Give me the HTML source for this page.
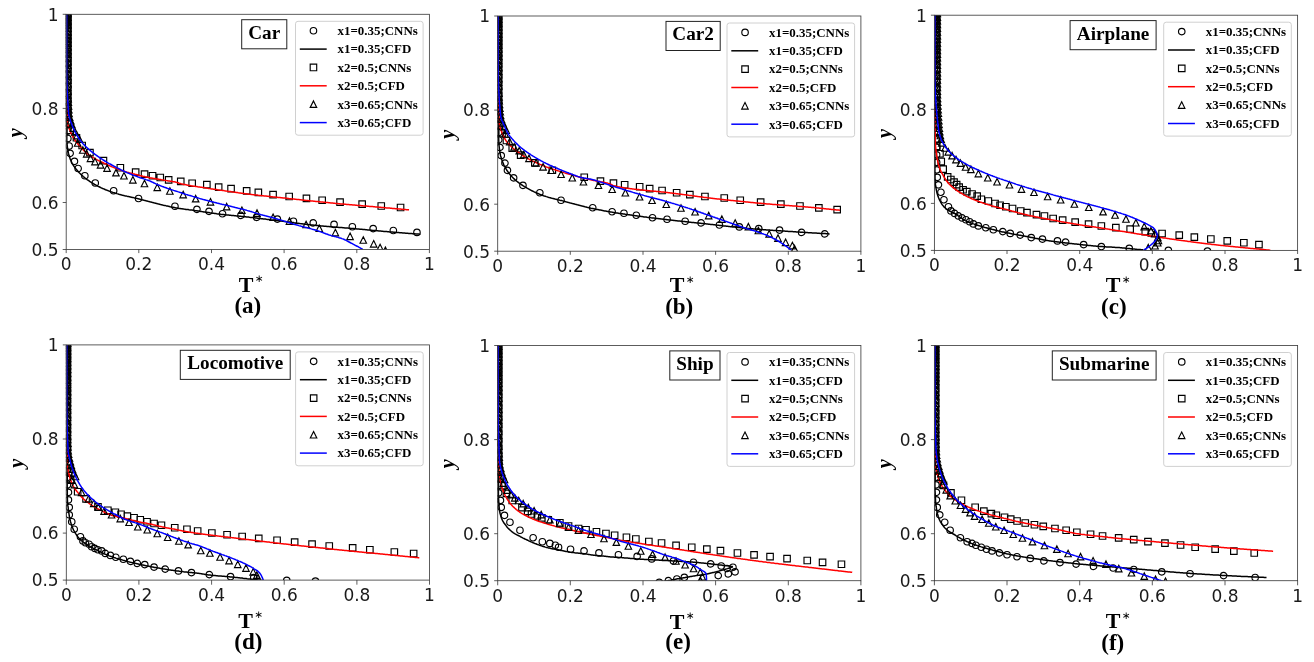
<!DOCTYPE html>
<html><head><meta charset="utf-8"><title>Temperature profiles</title>
<style>
html,body{margin:0;padding:0;background:#fff}
svg{display:block}
text{fill:#000}
.tk text{font-family:"DejaVu Sans","Liberation Sans",sans-serif;font-size:17px;fill:#1a1a1a}
.lg text{font-family:"Liberation Serif","Times New Roman",serif;font-weight:bold;font-size:12.95px}
.ttl{font-family:"Liberation Serif","Times New Roman",serif;font-weight:bold;font-size:19.2px}
.lab{font-family:"Liberation Serif","Times New Roman",serif;font-weight:bold;font-size:22px}
.yl{font-style:italic;font-size:20.4px}
.sub{font-size:23px}
.ast{font-family:"DejaVu Sans",sans-serif;font-weight:normal;font-size:10.5px}
</style></head><body>
<svg width="1314" height="662" viewBox="0 0 1314 662">
<rect width="1314" height="662" fill="#fff"/>
<clipPath id="cla"><rect x="65.8" y="14.3" width="363.6" height="235.2"/></clipPath>
<g clip-path="url(#cla)" fill="none">
<path d="M64.6 13.7a3.2 3.2 0 1 0 6.5 0a3.2 3.2 0 1 0 -6.5 0M64.6 15.8a3.2 3.2 0 1 0 6.5 0a3.2 3.2 0 1 0 -6.5 0M64.6 18a3.2 3.2 0 1 0 6.5 0a3.2 3.2 0 1 0 -6.5 0M64.6 20.4a3.2 3.2 0 1 0 6.5 0a3.2 3.2 0 1 0 -6.5 0M64.6 22.9a3.2 3.2 0 1 0 6.5 0a3.2 3.2 0 1 0 -6.5 0M64.6 25.6a3.2 3.2 0 1 0 6.5 0a3.2 3.2 0 1 0 -6.5 0M64.6 28.4a3.2 3.2 0 1 0 6.5 0a3.2 3.2 0 1 0 -6.5 0M64.6 31.5a3.2 3.2 0 1 0 6.5 0a3.2 3.2 0 1 0 -6.5 0M64.6 34.7a3.2 3.2 0 1 0 6.5 0a3.2 3.2 0 1 0 -6.5 0M64.6 38.1a3.2 3.2 0 1 0 6.5 0a3.2 3.2 0 1 0 -6.5 0M64.6 41.8a3.2 3.2 0 1 0 6.5 0a3.2 3.2 0 1 0 -6.5 0M64.6 45.6a3.2 3.2 0 1 0 6.5 0a3.2 3.2 0 1 0 -6.5 0M64.6 49.8a3.2 3.2 0 1 0 6.5 0a3.2 3.2 0 1 0 -6.5 0M64.6 54.2a3.2 3.2 0 1 0 6.5 0a3.2 3.2 0 1 0 -6.5 0M64.6 58.8a3.2 3.2 0 1 0 6.5 0a3.2 3.2 0 1 0 -6.5 0M64.6 63.8a3.2 3.2 0 1 0 6.5 0a3.2 3.2 0 1 0 -6.5 0M64.6 69.1a3.2 3.2 0 1 0 6.5 0a3.2 3.2 0 1 0 -6.5 0M64.6 74.7a3.2 3.2 0 1 0 6.5 0a3.2 3.2 0 1 0 -6.5 0M64.6 80.7a3.2 3.2 0 1 0 6.5 0a3.2 3.2 0 1 0 -6.5 0M64.6 87.1a3.2 3.2 0 1 0 6.5 0a3.2 3.2 0 1 0 -6.5 0M64.6 93.8a3.2 3.2 0 1 0 6.5 0a3.2 3.2 0 1 0 -6.5 0M64.6 101a3.2 3.2 0 1 0 6.5 0a3.2 3.2 0 1 0 -6.5 0M64.6 108.5a3.2 3.2 0 1 0 6.5 0a3.2 3.2 0 1 0 -6.5 0M64.6 116a3.2 3.2 0 1 0 6.5 0a3.2 3.2 0 1 0 -6.5 0M64.6 123.5a3.2 3.2 0 1 0 6.5 0a3.2 3.2 0 1 0 -6.5 0M64.6 131a3.2 3.2 0 1 0 6.5 0a3.2 3.2 0 1 0 -6.5 0M64.6 138.5a3.2 3.2 0 1 0 6.5 0a3.2 3.2 0 1 0 -6.5 0M65.9 146a3.2 3.2 0 1 0 6.5 0a3.2 3.2 0 1 0 -6.5 0M66.9 153.3a3.2 3.2 0 1 0 6.5 0a3.2 3.2 0 1 0 -6.5 0M71.2 161.3a3.2 3.2 0 1 0 6.5 0a3.2 3.2 0 1 0 -6.5 0M74.9 168.5a3.2 3.2 0 1 0 6.5 0a3.2 3.2 0 1 0 -6.5 0M81.6 175.7a3.2 3.2 0 1 0 6.5 0a3.2 3.2 0 1 0 -6.5 0M92 183a3.2 3.2 0 1 0 6.5 0a3.2 3.2 0 1 0 -6.5 0M110.4 190.7a3.2 3.2 0 1 0 6.5 0a3.2 3.2 0 1 0 -6.5 0M135.3 198.5a3.2 3.2 0 1 0 6.5 0a3.2 3.2 0 1 0 -6.5 0M171.7 206.2a3.2 3.2 0 1 0 6.5 0a3.2 3.2 0 1 0 -6.5 0M193.7 209.3a3.2 3.2 0 1 0 6.5 0a3.2 3.2 0 1 0 -6.5 0M205.8 211.3a3.2 3.2 0 1 0 6.5 0a3.2 3.2 0 1 0 -6.5 0M219.3 213.7a3.2 3.2 0 1 0 6.5 0a3.2 3.2 0 1 0 -6.5 0M237.7 215.4a3.2 3.2 0 1 0 6.5 0a3.2 3.2 0 1 0 -6.5 0M253.4 217.3a3.2 3.2 0 1 0 6.5 0a3.2 3.2 0 1 0 -6.5 0M274.1 219.1a3.2 3.2 0 1 0 6.5 0a3.2 3.2 0 1 0 -6.5 0M290.2 221.2a3.2 3.2 0 1 0 6.5 0a3.2 3.2 0 1 0 -6.5 0M310 222.9a3.2 3.2 0 1 0 6.5 0a3.2 3.2 0 1 0 -6.5 0M330.8 224.4a3.2 3.2 0 1 0 6.5 0a3.2 3.2 0 1 0 -6.5 0M349.1 226.7a3.2 3.2 0 1 0 6.5 0a3.2 3.2 0 1 0 -6.5 0M369.9 228.6a3.2 3.2 0 1 0 6.5 0a3.2 3.2 0 1 0 -6.5 0M390.1 230.5a3.2 3.2 0 1 0 6.5 0a3.2 3.2 0 1 0 -6.5 0M413.7 232.4a3.2 3.2 0 1 0 6.5 0a3.2 3.2 0 1 0 -6.5 0" stroke="#000" stroke-width="1.15" stroke-linejoin="miter"/>
<path d="M66.7 13.3L66.7 14.3L66.7 15.3L66.7 16.3L66.7 17.3L66.7 18.3L66.7 19.3L66.7 20.3L66.7 21.3L66.7 22.3L66.7 23.3L66.7 24.3L66.7 25.3L66.7 26.3L66.7 27.3L66.7 28.3L66.7 29.3L66.7 30.3L66.7 31.3L66.7 32.3L66.7 33.3L66.7 34.3L66.7 35.3L66.7 36.3L66.7 37.3L66.7 38.3L66.7 39.3L66.7 40.3L66.7 41.3L66.7 42.3L66.7 43.3L66.7 44.3L66.7 45.3L66.7 46.3L66.7 47.3L66.7 48.3L66.7 49.3L66.7 50.3L66.7 51.3L66.7 52.3L66.7 53.3L66.7 54.3L66.7 55.3L66.7 56.3L66.7 57.3L66.7 58.3L66.7 59.3L66.7 60.3L66.7 61.3L66.7 62.3L66.7 63.3L66.7 64.3L66.7 65.3L66.7 66.3L66.7 67.3L66.7 68.3L66.7 69.3L66.7 70.3L66.7 71.3L66.7 72.3L66.7 73.3L66.7 74.3L66.7 75.3L66.7 76.3L66.7 77.3L66.7 78.3L66.7 79.3L66.7 80.3L66.7 81.3L66.7 82.3L66.7 83.3L66.7 84.3L66.7 85.3L66.7 86.3L66.7 87.3L66.7 88.3L66.7 89.3L66.7 90.3L66.7 91.3L66.7 92.3L66.7 93.3L66.7 94.3L66.7 95.3L66.7 96.3L66.7 97.3L66.7 98.3L66.7 99.3L66.7 100.3L66.7 101.3L66.7 102.3L66.7 103.3L66.7 104.3L66.7 105.3L66.7 106.3L66.7 107.3L66.7 108.3L66.7 109.3L66.7 110.3L66.7 111.3L66.7 112.3L66.7 113.3L66.7 114.3L66.7 115.3L66.7 116.3L66.7 117.3L66.7 118.3L66.7 119.3L66.7 120.3L66.7 121.3L66.7 122.3L66.7 123.3L66.7 124.3L66.7 125.3L66.7 126.3L66.7 127.3L66.7 128.3L66.7 129.3L66.7 130.3L66.7 131.3L66.7 132.3L66.7 133.3L66.8 134.3L66.8 135.3L66.8 136.3L66.8 137.3L66.8 138.3L66.8 139.3L66.8 140.3L66.8 141.3L66.9 142.3L67 143.3L67.1 144.3L67.2 145.3L67.3 146.3L67.4 147.3L67.6 148.3L67.7 149.3L67.9 150.3L68.1 151.2L68.2 152.2L68.4 153.2L68.7 154.2L69 155.1L69.2 156.1L69.6 157.1L69.9 158L70.2 159L70.6 159.9L71 160.8L71.4 161.7L71.8 162.6L72.2 163.5L72.7 164.4L73.3 165.2L73.8 166.1L74.4 166.9L75 167.7L75.6 168.5L76.2 169.3L76.9 170.1L77.5 170.8L78.2 171.6L78.8 172.3L79.5 173L80.3 173.7L81 174.4L81.7 175.1L82.5 175.8L83.2 176.5L84 177.1L84.7 177.7L85.5 178.4L86.3 179L87.1 179.6L87.9 180.1L88.8 180.7L89.6 181.3L90.4 181.8L91.3 182.4L92.1 182.9L93 183.4L93.8 184L94.7 184.5L95.6 184.9L96.4 185.4L97.3 185.9L98.2 186.4L99.1 186.8L100 187.2L100.9 187.7L101.8 188.1L102.7 188.5L103.7 188.9L104.6 189.3L105.5 189.7L106.4 190L107.4 190.4L108.3 190.8L109.2 191.1L110.2 191.5L111.1 191.8L112.1 192.1L113 192.4L114 192.7L114.9 193L115.9 193.3L116.8 193.6L117.8 193.9L118.8 194.2L119.7 194.4L120.7 194.7L121.7 195L122.6 195.2L123.6 195.4L124.6 195.7L125.5 195.9L126.5 196.1L127.5 196.4L128.5 196.6L129.4 196.8L130.4 197L131.4 197.2L132.4 197.4L133.3 197.6L134.3 197.9L135.3 198.1L136.3 198.3L137.2 198.6L138.2 198.8L139.2 199.1L140.1 199.3L141.1 199.6L142.1 199.8L143 200.1L144 200.3L145 200.6L146 200.8L146.9 201.1L147.9 201.3L148.9 201.6L149.8 201.8L150.8 202.1L151.8 202.3L152.7 202.6L153.7 202.8L154.7 203.1L155.6 203.3L156.6 203.5L157.6 203.8L158.6 204L159.5 204.2L160.5 204.5L161.5 204.7L162.4 204.9L163.4 205.2L164.4 205.4L165.4 205.6L166.3 205.9L167.3 206.1L168.3 206.3L169.3 206.5L170.2 206.8L171.2 207L172.2 207.2L173.2 207.3L174.2 207.5L175.1 207.7L176.1 207.9L177.1 208L178.1 208.2L179.1 208.4L180.1 208.5L181.1 208.7L182.1 208.8L183 208.9L184 209.1L185 209.2L186 209.4L187 209.5L188 209.6L189 209.8L190 209.9L191 210L192 210.1L193 210.3L194 210.4L194.9 210.6L195.9 210.7L196.9 210.8L197.9 211L198.9 211.1L199.9 211.3L200.9 211.4L201.9 211.6L202.9 211.7L203.8 211.9L204.8 212L205.8 212.2L206.8 212.3L207.8 212.5L208.8 212.6L209.8 212.8L210.8 212.9L211.8 213.1L212.8 213.2L213.7 213.3L214.7 213.5L215.7 213.6L216.7 213.8L217.7 213.9L218.7 214L219.7 214.1L220.7 214.3L221.7 214.4L222.7 214.5L223.7 214.6L224.7 214.7L225.6 214.8L226.6 214.9L227.6 215L228.6 215.1L229.6 215.2L230.6 215.3L231.6 215.4L232.6 215.5L233.6 215.6L234.6 215.7L235.6 215.8L236.6 215.9L237.6 216L238.6 216.1L239.6 216.2L240.6 216.3L241.6 216.4L242.6 216.5L243.6 216.6L244.6 216.7L245.5 216.8L246.5 216.9L247.5 217L248.5 217.1L249.5 217.3L250.5 217.4L251.5 217.5L252.5 217.6L253.5 217.7L254.5 217.8L255.5 218L256.5 218.1L257.5 218.2L258.5 218.3L259.5 218.4L260.4 218.5L261.4 218.7L262.4 218.8L263.4 218.9L264.4 219L265.4 219.1L266.4 219.3L267.4 219.4L268.4 219.5L269.4 219.6L270.4 219.7L271.4 219.9L272.4 220L273.4 220.1L274.3 220.2L275.3 220.4L276.3 220.5L277.3 220.6L278.3 220.7L279.3 220.8L280.3 221L281.3 221.1L282.3 221.2L283.3 221.3L284.3 221.5L285.3 221.6L286.3 221.7L287.2 221.9L288.2 222L289.2 222.1L290.2 222.3L291.2 222.4L292.2 222.5L293.2 222.6L294.2 222.8L295.2 222.9L296.2 223L297.2 223.2L298.2 223.3L299.1 223.4L300.1 223.6L301.1 223.7L302.1 223.8L303.1 223.9L304.1 224.1L305.1 224.2L306.1 224.3L307.1 224.4L308.1 224.5L309.1 224.7L310.1 224.8L311.1 224.9L312 225L313 225.1L314 225.2L315 225.3L316 225.4L317 225.5L318 225.6L319 225.7L320 225.8L321 225.9L322 226L323 226.1L324 226.2L325 226.3L326 226.3L327 226.4L328 226.5L329 226.6L330 226.7L331 226.8L332 226.8L333 226.9L333.9 227L334.9 227.1L335.9 227.2L336.9 227.2L337.9 227.3L338.9 227.4L339.9 227.5L340.9 227.6L341.9 227.6L342.9 227.7L343.9 227.8L344.9 227.9L345.9 228L346.9 228L347.9 228.1L348.9 228.2L349.9 228.3L350.9 228.4L351.9 228.5L352.9 228.5L353.9 228.6L354.9 228.7L355.9 228.8L356.9 228.9L357.9 229L358.9 229.1L359.9 229.2L360.9 229.3L361.9 229.3L362.9 229.4L363.8 229.5L364.8 229.6L365.8 229.7L366.8 229.8L367.8 229.9L368.8 230L369.8 230.1L370.8 230.2L371.8 230.3L372.8 230.4L373.8 230.5L374.8 230.5L375.8 230.6L376.8 230.7L377.8 230.8L378.8 230.9L379.8 231L380.8 231.1L381.8 231.2L382.8 231.3L383.8 231.4L384.8 231.4L385.8 231.5L386.8 231.6L387.7 231.7L388.7 231.8L389.7 231.9L390.7 232L391.7 232L392.7 232.1L393.7 232.2L394.7 232.3L395.7 232.4L396.7 232.4L397.7 232.5L398.7 232.6L399.7 232.7L400.7 232.8L401.7 232.8L402.7 232.9L403.7 233L404.7 233.1L405.7 233.2L406.7 233.2L407.7 233.3L408.7 233.4L409.7 233.5L410.7 233.5L411.7 233.6L412.7 233.7L413.7 233.8L414.7 233.8L415.7 233.9L416.7 234L417.7 234.1L418.7 234.1L419.6 234.2L420.4 234.2" stroke="#000" stroke-width="1.5" stroke-linejoin="round"/>
<path d="M64.6 10.2h6.5v6.5h-6.5zM64.6 12.3h6.5v6.5h-6.5zM64.6 14.5h6.5v6.5h-6.5zM64.6 16.9h6.5v6.5h-6.5zM64.6 19.4h6.5v6.5h-6.5zM64.6 22h6.5v6.5h-6.5zM64.6 24.9h6.5v6.5h-6.5zM64.6 27.9h6.5v6.5h-6.5zM64.6 31.1h6.5v6.5h-6.5zM64.6 34.5h6.5v6.5h-6.5zM64.6 38.1h6.5v6.5h-6.5zM64.6 42h6.5v6.5h-6.5zM64.6 46.1h6.5v6.5h-6.5zM64.6 50.4h6.5v6.5h-6.5zM64.6 55.1h6.5v6.5h-6.5zM64.6 60h6.5v6.5h-6.5zM64.6 65.3h6.5v6.5h-6.5zM64.6 70.9h6.5v6.5h-6.5zM64.6 76.8h6.5v6.5h-6.5zM64.6 83.1h6.5v6.5h-6.5zM64.6 89.9h6.5v6.5h-6.5zM64.6 97h6.5v6.5h-6.5zM64.6 104.5h6.5v6.5h-6.5zM64.6 112h6.5v6.5h-6.5zM65 119.5h6.5v6.5h-6.5zM67 127h6.5v6.5h-6.5zM73.2 134.5h6.5v6.5h-6.5zM78.9 142.2h6.5v6.5h-6.5zM86.7 149.3h6.5v6.5h-6.5zM100.2 157.3h6.5v6.5h-6.5zM117.1 164.5h6.5v6.5h-6.5zM132.4 168.9h6.5v6.5h-6.5zM141.3 170.8h6.5v6.5h-6.5zM149.3 172.5h6.5v6.5h-6.5zM157 174.2h6.5v6.5h-6.5zM165.4 176.6h6.5v6.5h-6.5zM177.5 178.1h6.5v6.5h-6.5zM188.9 180h6.5v6.5h-6.5zM203.6 181.4h6.5v6.5h-6.5zM215.4 183.9h6.5v6.5h-6.5zM227.8 185.3h6.5v6.5h-6.5zM243.4 187.6h6.5v6.5h-6.5zM255.1 189.1h6.5v6.5h-6.5zM269.8 191.3h6.5v6.5h-6.5zM285.9 193.2h6.5v6.5h-6.5zM303.2 195.1h6.5v6.5h-6.5zM318.9 197h6.5v6.5h-6.5zM336.8 198.9h6.5v6.5h-6.5zM358.9 200.8h6.5v6.5h-6.5zM378 202.7h6.5v6.5h-6.5zM397.3 204.2h6.5v6.5h-6.5z" stroke="#000" stroke-width="1.15" stroke-linejoin="miter"/>
<path d="M66.7 13.3L66.7 14.3L66.7 15.3L66.7 16.3L66.7 17.3L66.7 18.3L66.7 19.3L66.7 20.3L66.7 21.3L66.7 22.3L66.7 23.3L66.7 24.3L66.7 25.3L66.7 26.3L66.7 27.3L66.7 28.3L66.7 29.3L66.7 30.3L66.7 31.3L66.7 32.3L66.7 33.3L66.7 34.3L66.7 35.3L66.7 36.3L66.7 37.3L66.7 38.3L66.7 39.3L66.7 40.3L66.7 41.3L66.7 42.3L66.7 43.3L66.7 44.3L66.7 45.3L66.7 46.3L66.7 47.3L66.7 48.3L66.7 49.3L66.7 50.3L66.7 51.3L66.7 52.3L66.7 53.3L66.7 54.3L66.7 55.3L66.7 56.3L66.7 57.3L66.7 58.3L66.7 59.3L66.7 60.3L66.7 61.3L66.7 62.3L66.7 63.3L66.7 64.3L66.7 65.3L66.7 66.3L66.7 67.3L66.7 68.3L66.7 69.3L66.7 70.3L66.7 71.3L66.7 72.3L66.7 73.3L66.7 74.3L66.7 75.3L66.7 76.3L66.7 77.3L66.7 78.3L66.7 79.3L66.7 80.3L66.7 81.3L66.7 82.4L66.7 83.4L66.7 84.4L66.7 85.4L66.7 86.4L66.7 87.4L66.7 88.4L66.8 89.4L66.8 90.4L66.8 91.4L66.8 92.4L66.8 93.4L66.8 94.4L66.8 95.4L66.8 96.4L66.9 97.4L66.9 98.4L66.9 99.4L66.9 100.4L66.9 101.4L66.9 102.4L67 103.4L67 104.4L67 105.4L67 106.4L67 107.4L67.1 108.4L67.1 109.4L67.1 110.4L67.1 111.4L67.2 112.4L67.2 113.4L67.2 114.4L67.3 115.4L67.3 116.4L67.3 117.3L67.4 118.3L67.4 119.3L67.4 120.3L67.5 121.3L67.6 122.3L67.8 123.2L68 124.2L68.2 125.2L68.5 126.2L68.8 127.2L69.1 128.1L69.4 129.1L69.8 130L70.1 131L70.4 131.9L70.8 132.8L71.2 133.7L71.7 134.6L72.2 135.5L72.7 136.4L73.2 137.3L73.7 138.1L74.2 139L74.7 139.8L75.3 140.6L75.9 141.4L76.5 142.2L77.1 143L77.7 143.8L78.4 144.6L79 145.3L79.7 146.1L80.4 146.9L81 147.6L81.7 148.3L82.4 149.1L83.1 149.8L83.8 150.5L84.5 151.2L85.2 151.9L86 152.6L86.7 153.2L87.5 153.8L88.3 154.4L89.1 155L89.9 155.6L90.8 156.1L91.6 156.7L92.5 157.2L93.3 157.7L94.2 158.2L95.1 158.7L95.9 159.2L96.8 159.7L97.7 160.1L98.6 160.6L99.5 161L100.4 161.4L101.3 161.9L102.2 162.3L103.1 162.7L104 163.2L104.9 163.6L105.8 164L106.8 164.4L107.7 164.8L108.6 165.3L109.5 165.7L110.4 166.1L111.3 166.5L112.2 166.9L113.2 167.2L114.1 167.6L115 168L116 168.3L116.9 168.7L117.8 169L118.8 169.4L119.7 169.7L120.7 170.1L121.6 170.4L122.6 170.7L123.5 171L124.5 171.3L125.4 171.6L126.4 171.9L127.3 172.2L128.3 172.4L129.2 172.7L130.2 173L131.2 173.2L132.1 173.5L133.1 173.8L134.1 174L135 174.3L136 174.5L137 174.7L138 175L138.9 175.2L139.9 175.5L140.9 175.7L141.8 175.9L142.8 176.2L143.8 176.4L144.8 176.6L145.7 176.9L146.7 177.1L147.7 177.3L148.7 177.5L149.6 177.7L150.6 177.9L151.6 178.1L152.6 178.3L153.6 178.5L154.6 178.6L155.5 178.8L156.5 179L157.5 179.1L158.5 179.3L159.5 179.5L160.5 179.6L161.5 179.8L162.5 179.9L163.4 180.1L164.4 180.3L165.4 180.4L166.4 180.6L167.4 180.7L168.4 180.9L169.4 181L170.4 181.2L171.4 181.3L172.4 181.5L173.3 181.7L174.3 181.8L175.3 182L176.3 182.3L177.2 182.5L178.2 182.8L179.1 183.2L180.1 183.5L181 183.8L182 184L183 184.2L183.9 184.4L184.9 184.6L185.9 184.8L186.9 185L187.8 185.2L188.8 185.4L189.8 185.5L190.8 185.7L191.8 185.9L192.8 186L193.8 186.2L194.8 186.3L195.8 186.5L196.8 186.6L197.7 186.8L198.7 186.9L199.7 187L200.7 187.2L201.7 187.3L202.7 187.5L203.7 187.6L204.7 187.8L205.7 187.9L206.7 188.1L207.6 188.3L208.6 188.4L209.6 188.6L210.6 188.7L211.6 188.9L212.6 189L213.6 189.2L214.6 189.3L215.6 189.5L216.5 189.6L217.5 189.8L218.5 189.9L219.5 190.1L220.5 190.2L221.5 190.3L222.5 190.5L223.5 190.6L224.5 190.8L225.4 190.9L226.4 191.1L227.4 191.2L228.4 191.4L229.4 191.5L230.4 191.6L231.4 191.8L232.4 191.9L233.4 192.1L234.4 192.2L235.3 192.3L236.3 192.5L237.3 192.6L238.3 192.8L239.3 192.9L240.3 193L241.3 193.2L242.3 193.3L243.3 193.4L244.3 193.6L245.3 193.7L246.2 193.8L247.2 194L248.2 194.1L249.2 194.2L250.2 194.3L251.2 194.4L252.2 194.6L253.2 194.7L254.2 194.8L255.2 194.9L256.2 195L257.2 195.1L258.2 195.3L259.2 195.4L260.1 195.5L261.1 195.6L262.1 195.7L263.1 195.8L264.1 195.9L265.1 196L266.1 196.1L267.1 196.2L268.1 196.3L269.1 196.5L270.1 196.6L271.1 196.7L272.1 196.8L273.1 196.9L274.1 197L275.1 197.1L276.1 197.2L277.1 197.3L278 197.4L279 197.5L280 197.6L281 197.7L282 197.8L283 197.9L284 198L285 198.1L286 198.2L287 198.3L288 198.4L289 198.6L290 198.7L291 198.8L292 198.9L293 199L294 199.1L295 199.2L295.9 199.3L296.9 199.4L297.9 199.5L298.9 199.6L299.9 199.7L300.9 199.8L301.9 199.9L302.9 200L303.9 200.2L304.9 200.3L305.9 200.4L306.9 200.5L307.9 200.6L308.9 200.7L309.9 200.8L310.9 200.9L311.9 201L312.9 201.1L313.8 201.2L314.8 201.3L315.8 201.4L316.8 201.5L317.8 201.6L318.8 201.7L319.8 201.8L320.8 201.9L321.8 202L322.8 202.1L323.8 202.2L324.8 202.3L325.8 202.4L326.8 202.5L327.8 202.6L328.8 202.7L329.8 202.8L330.8 202.9L331.8 203L332.7 203.1L333.7 203.2L334.7 203.3L335.7 203.4L336.7 203.5L337.7 203.6L338.7 203.7L339.7 203.8L340.7 203.9L341.7 204L342.7 204L343.7 204.1L344.7 204.2L345.7 204.3L346.7 204.4L347.7 204.5L348.7 204.6L349.7 204.7L350.7 204.8L351.7 204.8L352.7 204.9L353.7 205L354.7 205.1L355.7 205.2L356.7 205.3L357.6 205.4L358.6 205.4L359.6 205.5L360.6 205.6L361.6 205.7L362.6 205.8L363.6 205.9L364.6 206L365.6 206L366.6 206.1L367.6 206.2L368.6 206.3L369.6 206.4L370.6 206.5L371.6 206.6L372.6 206.6L373.6 206.7L374.6 206.8L375.6 206.9L376.6 207L377.6 207.1L378.6 207.2L379.6 207.2L380.6 207.3L381.6 207.4L382.6 207.5L383.6 207.6L384.5 207.7L385.5 207.8L386.5 207.9L387.5 208L388.5 208L389.5 208.1L390.5 208.2L391.5 208.3L392.5 208.4L393.5 208.5L394.5 208.6L395.5 208.7L396.5 208.8L397.5 208.8L398.5 208.9L399.5 209L400.5 209.1L401.5 209.2L402.5 209.3L403.5 209.4L404.5 209.5L405.5 209.6L406.5 209.7L407.5 209.7L408.5 209.8L409 209.9" stroke="#f00" stroke-width="1.5" stroke-linejoin="round"/>
<path d="M67.9 10.2l3.2 6.5h-6.5zM67.9 13.9l3.2 6.5h-6.5zM67.9 17.6l3.2 6.5h-6.5zM67.9 21.3l3.2 6.5h-6.5zM67.9 25l3.2 6.5h-6.5zM67.9 28.7l3.2 6.5h-6.5zM67.9 32.4l3.2 6.5h-6.5zM67.9 36.1l3.2 6.5h-6.5zM67.9 39.8l3.2 6.5h-6.5zM67.9 43.5l3.2 6.5h-6.5zM67.9 47.2l3.2 6.5h-6.5zM67.9 50.9l3.2 6.5h-6.5zM67.9 54.6l3.2 6.5h-6.5zM67.9 58.3l3.2 6.5h-6.5zM67.9 62l3.2 6.5h-6.5zM67.9 65.7l3.2 6.5h-6.5zM67.9 69.4l3.2 6.5h-6.5zM67.9 73.1l3.2 6.5h-6.5zM67.9 76.8l3.2 6.5h-6.5zM67.9 80.5l3.2 6.5h-6.5zM67.9 84.2l3.2 6.5h-6.5zM67.9 87.9l3.2 6.5h-6.5zM68 91.6l3.2 6.5h-6.5zM68.2 95.3l3.2 6.5h-6.5zM68.4 99l3.2 6.5h-6.5zM68.6 102.7l3.2 6.5h-6.5zM68.9 106.4l3.2 6.5h-6.5zM69.1 110.1l3.2 6.5h-6.5zM69.7 113.8l3.2 6.5h-6.5zM70.8 117.5l3.2 6.5h-6.5zM71.9 121.2l3.2 6.5h-6.5zM73.3 124.9l3.2 6.5h-6.5zM75 128.6l3.2 6.5h-6.5zM77.1 132.3l3.2 6.5h-6.5zM79.5 136l3.2 6.5h-6.5zM77.7 139.7l3.2 6.5h-6.5zM82.8 146.7l3.2 6.5h-6.5zM86.7 150.6l3.2 6.5h-6.5zM90.5 155.1l3.2 6.5h-6.5zM95 158.3l3.2 6.5h-6.5zM100.6 161.6l3.2 6.5h-6.5zM107.1 164.8l3.2 6.5h-6.5zM116 169.4l3.2 6.5h-6.5zM124 172.5l3.2 6.5h-6.5zM132.9 176.6l3.2 6.5h-6.5zM144.5 180.2l3.2 6.5h-6.5zM157.3 184.1l3.2 6.5h-6.5zM169.9 187.7l3.2 6.5h-6.5zM183.2 191.3l3.2 6.5h-6.5zM195.7 195.4l3.2 6.5h-6.5zM210.5 198.6l3.2 6.5h-6.5zM226.7 203.4l3.2 6.5h-6.5zM241.9 207l3.2 6.5h-6.5zM257 209.8l3.2 6.5h-6.5zM273.1 214l3.2 6.5h-6.5zM289.5 217.8l3.2 6.5h-6.5zM306.1 221.2l3.2 6.5h-6.5zM319.3 225l3.2 6.5h-6.5zM335.4 229.3l3.2 6.5h-6.5zM350.1 233.1l3.2 6.5h-6.5zM363.3 236.7l3.2 6.5h-6.5zM373.7 240.6l3.2 6.5h-6.5zM380.1 244.2l3.2 6.5h-6.5zM385.4 247.1l3.2 6.5h-6.5z" stroke="#000" stroke-width="1.15" stroke-linejoin="miter"/>
<path d="M66.7 13.3L66.7 14.3L66.7 15.3L66.7 16.3L66.7 17.3L66.7 18.3L66.7 19.3L66.7 20.3L66.7 21.3L66.7 22.3L66.7 23.3L66.7 24.3L66.7 25.3L66.7 26.3L66.7 27.3L66.7 28.3L66.7 29.3L66.7 30.3L66.7 31.3L66.7 32.3L66.7 33.3L66.7 34.3L66.7 35.3L66.7 36.3L66.7 37.3L66.7 38.3L66.7 39.3L66.7 40.3L66.7 41.3L66.7 42.3L66.7 43.3L66.7 44.3L66.7 45.3L66.7 46.3L66.7 47.3L66.7 48.3L66.7 49.3L66.7 50.3L66.7 51.3L66.7 52.3L66.7 53.3L66.7 54.3L66.7 55.3L66.7 56.3L66.7 57.3L66.7 58.3L66.7 59.3L66.7 60.3L66.7 61.3L66.7 62.3L66.7 63.3L66.7 64.3L66.7 65.3L66.7 66.3L66.7 67.3L66.7 68.3L66.7 69.3L66.7 70.3L66.7 71.3L66.7 72.3L66.7 73.3L66.7 74.3L66.7 75.3L66.8 76.3L66.8 77.4L66.8 78.4L66.8 79.4L66.9 80.4L66.9 81.4L66.9 82.4L66.9 83.4L67 84.4L67 85.4L67 86.4L67.1 87.4L67.1 88.4L67.1 89.4L67.2 90.4L67.2 91.4L67.3 92.4L67.3 93.4L67.4 94.4L67.4 95.4L67.5 96.4L67.5 97.4L67.6 98.4L67.6 99.4L67.7 100.4L67.8 101.4L67.8 102.4L67.9 103.4L68 104.4L68 105.4L68.1 106.4L68.2 107.4L68.2 108.4L68.3 109.4L68.4 110.3L68.5 111.3L68.6 112.3L68.6 113.3L68.7 114.3L68.9 115.2L69.1 116.2L69.3 117.2L69.6 118.1L69.9 119.1L70.2 120.1L70.6 121L70.9 122L71.2 122.9L71.6 123.8L71.9 124.8L72.3 125.7L72.7 126.6L73.1 127.6L73.5 128.5L73.9 129.4L74.3 130.3L74.7 131.2L75.2 132.1L75.6 133L76.1 133.9L76.6 134.7L77.1 135.6L77.6 136.5L78.2 137.3L78.7 138.2L79.3 139L79.9 139.8L80.5 140.6L81.1 141.4L81.7 142.1L82.4 142.9L83 143.7L83.7 144.4L84.4 145.1L85.1 145.8L85.8 146.5L86.5 147.2L87.2 147.9L88 148.6L88.7 149.3L89.5 149.9L90.3 150.6L91 151.2L91.8 151.8L92.6 152.4L93.4 153.1L94.2 153.7L95 154.3L95.8 154.9L96.6 155.5L97.4 156L98.2 156.6L99 157.2L99.9 157.8L100.7 158.3L101.5 158.9L102.4 159.4L103.2 160L104.1 160.5L104.9 161L105.8 161.5L106.6 162.1L107.5 162.6L108.3 163.1L109.2 163.6L110.1 164L111 164.5L111.8 165L112.7 165.5L113.6 166L114.5 166.4L115.4 166.9L116.3 167.4L117.1 167.8L118 168.3L118.9 168.7L119.8 169.2L120.7 169.7L121.6 170.1L122.5 170.5L123.4 171L124.3 171.4L125.2 171.8L126.1 172.2L127 172.6L128 173L128.9 173.4L129.8 173.8L130.7 174.1L131.7 174.5L132.6 174.9L133.5 175.2L134.5 175.6L135.4 175.9L136.3 176.3L137.3 176.6L138.2 177L139.2 177.3L140.1 177.7L141 178L142 178.3L143 178.6L143.9 178.9L144.9 179.2L145.8 179.6L146.8 179.9L147.7 180.2L148.6 180.5L149.6 180.9L150.5 181.3L151.4 181.7L152.3 182.1L153.2 182.5L154.1 183L155 183.4L155.9 183.9L156.8 184.3L157.7 184.7L158.7 185L159.6 185.4L160.5 185.8L161.4 186.1L162.4 186.5L163.3 186.8L164.3 187.2L165.2 187.5L166.1 187.8L167.1 188.2L168 188.5L169 188.8L169.9 189.1L170.9 189.5L171.8 189.8L172.8 190.1L173.7 190.4L174.7 190.7L175.6 191L176.6 191.3L177.6 191.6L178.5 191.9L179.5 192.2L180.4 192.5L181.4 192.8L182.3 193.2L183.3 193.5L184.2 193.8L185.2 194.1L186.1 194.4L187.1 194.7L188 195L189 195.3L189.9 195.5L190.9 195.8L191.9 196.1L192.8 196.4L193.8 196.7L194.7 197L195.7 197.3L196.7 197.6L197.6 197.8L198.6 198.1L199.5 198.4L200.5 198.7L201.5 198.9L202.4 199.2L203.4 199.5L204.3 199.7L205.3 200L206.3 200.3L207.2 200.5L208.2 200.8L209.2 201L210.1 201.3L211.1 201.5L212.1 201.8L213.1 202L214 202.3L215 202.5L216 202.7L216.9 203L217.9 203.2L218.9 203.4L219.9 203.7L220.8 203.9L221.8 204.2L222.8 204.4L223.7 204.6L224.7 204.9L225.7 205.1L226.7 205.3L227.6 205.6L228.6 205.8L229.6 206.1L230.5 206.3L231.5 206.5L232.5 206.8L233.5 207L234.4 207.2L235.4 207.5L236.4 207.7L237.3 207.9L238.3 208.2L239.3 208.4L240.3 208.7L241.2 208.9L242.2 209.1L243.2 209.4L244.1 209.6L245.1 209.9L246.1 210.1L247 210.4L248 210.7L249 210.9L249.9 211.2L250.9 211.5L251.8 211.8L252.8 212.1L253.7 212.4L254.7 212.7L255.6 213L256.6 213.3L257.5 213.6L258.5 213.9L259.5 214.2L260.4 214.5L261.4 214.8L262.4 215L263.3 215.3L264.3 215.5L265.3 215.8L266.2 216L267.2 216.3L268.2 216.6L269.1 216.8L270.1 217.1L271.1 217.3L272 217.6L273 217.8L274 218.1L274.9 218.3L275.9 218.6L276.9 218.9L277.8 219.2L278.8 219.4L279.7 219.7L280.7 220L281.6 220.3L282.6 220.6L283.6 220.9L284.5 221.2L285.5 221.5L286.4 221.8L287.4 222.1L288.3 222.4L289.3 222.7L290.2 223L291.2 223.3L292.1 223.6L293.1 223.9L294 224.2L295 224.5L296 224.8L296.9 225.1L297.9 225.3L298.8 225.6L299.8 225.9L300.8 226.1L301.7 226.4L302.7 226.6L303.7 226.9L304.7 227.1L305.6 227.4L306.6 227.6L307.6 227.9L308.5 228.1L309.5 228.4L310.5 228.6L311.4 228.9L312.4 229.2L313.3 229.4L314.3 229.7L315.3 230L316.2 230.3L317.2 230.6L318.1 230.9L319.1 231.3L320 231.6L320.9 231.9L321.9 232.3L322.8 232.6L323.8 233L324.7 233.3L325.6 233.7L326.6 234L327.5 234.3L328.5 234.7L329.4 235L330.4 235.3L331.3 235.6L332.3 235.9L333.3 236.1L334.2 236.4L335.2 236.6L336.2 236.9L337.1 237.1L338.1 237.4L339.1 237.7L340 237.9L341 238.2L341.9 238.6L342.8 238.9L343.8 239.3L344.7 239.7L345.6 240.1L346.5 240.6L347.3 241L348.2 241.5L349.1 242L350 242.5L350.9 243L351.8 243.4L352.7 243.9L353.5 244.4L354.4 244.8L355.3 245.3L356.2 245.8L357.1 246.2L358 246.7L358.8 247.2L359.7 247.7L360.6 248.2L361.5 248.6L362.3 249.1L362.8 249.4" stroke="#00f" stroke-width="1.5" stroke-linejoin="round"/>
</g>
<rect x="66.2" y="14.3" width="363.2" height="235.2" fill="none" stroke="#404040" stroke-width="0.85"/>
<path d="M66.2 249.5v3.6M138.8 249.5v3.6M211.5 249.5v3.6M284.1 249.5v3.6M356.8 249.5v3.6M429.4 249.5v3.6M66.2 249.5h-3.5M66.2 202.5h-3.5M66.2 108.4h-3.5M66.2 14.3h-3.5" stroke="#333" stroke-width="0.8" fill="none"/>
<g class="tk">
<text x="66.2" y="269.6" text-anchor="middle">0</text>
<text x="138.8" y="269.6" text-anchor="middle">0.2</text>
<text x="211.5" y="269.6" text-anchor="middle">0.4</text>
<text x="284.1" y="269.6" text-anchor="middle">0.6</text>
<text x="356.8" y="269.6" text-anchor="middle">0.8</text>
<text x="429.4" y="269.6" text-anchor="middle">1</text>
<text x="58.6" y="255.8" text-anchor="end">0.5</text>
<text x="58.6" y="208.8" text-anchor="end">0.6</text>
<text x="58.6" y="114.7" text-anchor="end">0.8</text>
<text x="58.6" y="20.6" text-anchor="end">1</text>
</g>
<text class="lab" x="238.7" y="291.8">T</text><text class="ast" x="259.1" y="282.2" text-anchor="middle">∗</text>
<text class="lab sub" x="247.8" y="312.5" text-anchor="middle">(a)</text>
<text class="lab yl" transform="translate(22.4 132.6) rotate(-90)" text-anchor="middle">y</text>
<rect x="241.7" y="19.7" width="45.1" height="29.1" fill="#fff" stroke="#222" stroke-width="1"/>
<text class="ttl" x="264.2" y="38.7" text-anchor="middle">Car</text>
<rect x="295.5" y="21.3" width="127.6" height="113.9" rx="2.5" fill="#fff" fill-opacity="0.8" stroke="#d0d0d0" stroke-width="1"/>
<path d="M310.2 30.7a3.2 3.2 0 1 0 6.5 0a3.2 3.2 0 1 0 -6.5 0M310.2 64.2h6.5v6.5h-6.5zM313.5 100.9l3.2 6.5h-6.5z" stroke="#000" stroke-width="1.15" fill="none"/>
<path d="M299.8 49.1h26.9" stroke="#000" stroke-width="1.5"/>
<path d="M299.8 85.8h26.9" stroke="#f00" stroke-width="1.5"/>
<path d="M299.8 122.6h26.9" stroke="#00f" stroke-width="1.5"/>
<g class="lg">
<text x="337.5" y="35">x1=0.35;CNNs</text>
<text x="337.5" y="53.4">x1=0.35;CFD</text>
<text x="337.5" y="71.7">x2=0.5;CNNs</text>
<text x="337.5" y="90.1">x2=0.5;CFD</text>
<text x="337.5" y="108.5">x3=0.65;CNNs</text>
<text x="337.5" y="126.9">x3=0.65;CFD</text>
</g>
<clipPath id="clb"><rect x="497.3" y="16" width="363.6" height="235.2"/></clipPath>
<g clip-path="url(#clb)" fill="none">
<path d="M495.4 15.3a3.2 3.2 0 1 0 6.5 0a3.2 3.2 0 1 0 -6.5 0M495.4 17.4a3.2 3.2 0 1 0 6.5 0a3.2 3.2 0 1 0 -6.5 0M495.4 19.6a3.2 3.2 0 1 0 6.5 0a3.2 3.2 0 1 0 -6.5 0M495.4 22a3.2 3.2 0 1 0 6.5 0a3.2 3.2 0 1 0 -6.5 0M495.4 24.5a3.2 3.2 0 1 0 6.5 0a3.2 3.2 0 1 0 -6.5 0M495.4 27.1a3.2 3.2 0 1 0 6.5 0a3.2 3.2 0 1 0 -6.5 0M495.4 30a3.2 3.2 0 1 0 6.5 0a3.2 3.2 0 1 0 -6.5 0M495.4 33a3.2 3.2 0 1 0 6.5 0a3.2 3.2 0 1 0 -6.5 0M495.4 36.2a3.2 3.2 0 1 0 6.5 0a3.2 3.2 0 1 0 -6.5 0M495.4 39.6a3.2 3.2 0 1 0 6.5 0a3.2 3.2 0 1 0 -6.5 0M495.4 43.3a3.2 3.2 0 1 0 6.5 0a3.2 3.2 0 1 0 -6.5 0M495.4 47.1a3.2 3.2 0 1 0 6.5 0a3.2 3.2 0 1 0 -6.5 0M495.4 51.2a3.2 3.2 0 1 0 6.5 0a3.2 3.2 0 1 0 -6.5 0M495.4 55.6a3.2 3.2 0 1 0 6.5 0a3.2 3.2 0 1 0 -6.5 0M495.4 60.3a3.2 3.2 0 1 0 6.5 0a3.2 3.2 0 1 0 -6.5 0M495.4 65.2a3.2 3.2 0 1 0 6.5 0a3.2 3.2 0 1 0 -6.5 0M495.4 70.5a3.2 3.2 0 1 0 6.5 0a3.2 3.2 0 1 0 -6.5 0M495.4 76.1a3.2 3.2 0 1 0 6.5 0a3.2 3.2 0 1 0 -6.5 0M495.4 82.1a3.2 3.2 0 1 0 6.5 0a3.2 3.2 0 1 0 -6.5 0M495.4 88.4a3.2 3.2 0 1 0 6.5 0a3.2 3.2 0 1 0 -6.5 0M495.4 95.2a3.2 3.2 0 1 0 6.5 0a3.2 3.2 0 1 0 -6.5 0M495.4 102.4a3.2 3.2 0 1 0 6.5 0a3.2 3.2 0 1 0 -6.5 0M495.4 109.9a3.2 3.2 0 1 0 6.5 0a3.2 3.2 0 1 0 -6.5 0M495.4 117.4a3.2 3.2 0 1 0 6.5 0a3.2 3.2 0 1 0 -6.5 0M495.4 124.9a3.2 3.2 0 1 0 6.5 0a3.2 3.2 0 1 0 -6.5 0M495.4 132.4a3.2 3.2 0 1 0 6.5 0a3.2 3.2 0 1 0 -6.5 0M495.5 139.9a3.2 3.2 0 1 0 6.5 0a3.2 3.2 0 1 0 -6.5 0M496.7 147.4a3.2 3.2 0 1 0 6.5 0a3.2 3.2 0 1 0 -6.5 0M498 155.6a3.2 3.2 0 1 0 6.5 0a3.2 3.2 0 1 0 -6.5 0M501.7 163.1a3.2 3.2 0 1 0 6.5 0a3.2 3.2 0 1 0 -6.5 0M504.2 170.3a3.2 3.2 0 1 0 6.5 0a3.2 3.2 0 1 0 -6.5 0M510.4 177.8a3.2 3.2 0 1 0 6.5 0a3.2 3.2 0 1 0 -6.5 0M519.7 185.3a3.2 3.2 0 1 0 6.5 0a3.2 3.2 0 1 0 -6.5 0M536.6 192.7a3.2 3.2 0 1 0 6.5 0a3.2 3.2 0 1 0 -6.5 0M557.8 200.2a3.2 3.2 0 1 0 6.5 0a3.2 3.2 0 1 0 -6.5 0M589.5 207.7a3.2 3.2 0 1 0 6.5 0a3.2 3.2 0 1 0 -6.5 0M608.9 211.7a3.2 3.2 0 1 0 6.5 0a3.2 3.2 0 1 0 -6.5 0M620.7 213.2a3.2 3.2 0 1 0 6.5 0a3.2 3.2 0 1 0 -6.5 0M633.1 215.2a3.2 3.2 0 1 0 6.5 0a3.2 3.2 0 1 0 -6.5 0M649.3 217.7a3.2 3.2 0 1 0 6.5 0a3.2 3.2 0 1 0 -6.5 0M663.8 219.2a3.2 3.2 0 1 0 6.5 0a3.2 3.2 0 1 0 -6.5 0M681.9 221.2a3.2 3.2 0 1 0 6.5 0a3.2 3.2 0 1 0 -6.5 0M697.9 222.9a3.2 3.2 0 1 0 6.5 0a3.2 3.2 0 1 0 -6.5 0M716.2 225a3.2 3.2 0 1 0 6.5 0a3.2 3.2 0 1 0 -6.5 0M736.1 226.9a3.2 3.2 0 1 0 6.5 0a3.2 3.2 0 1 0 -6.5 0M755.5 228.6a3.2 3.2 0 1 0 6.5 0a3.2 3.2 0 1 0 -6.5 0M776.3 230.1a3.2 3.2 0 1 0 6.5 0a3.2 3.2 0 1 0 -6.5 0M798.4 232.4a3.2 3.2 0 1 0 6.5 0a3.2 3.2 0 1 0 -6.5 0M821.6 233.9a3.2 3.2 0 1 0 6.5 0a3.2 3.2 0 1 0 -6.5 0" stroke="#000" stroke-width="1.15" stroke-linejoin="miter"/>
<path d="M498.1 15L498.1 16L498.1 17L498.1 18L498.1 19L498.1 20L498.1 21L498.1 22L498.1 23L498.1 24L498.1 25L498.1 26L498.1 27L498.1 28L498.1 29L498.1 30L498.1 31L498.1 32L498.1 33L498.1 34L498.1 35L498.1 36L498.1 37L498.1 38L498.1 39L498.1 40L498.1 41L498.1 42L498.1 43L498.1 44L498.1 45L498.1 46L498.1 47L498.1 48L498.1 49L498.1 50L498.1 51L498.1 52L498.1 53L498.1 54L498.1 55L498.1 56L498.1 57L498.1 58L498.1 59L498.1 60L498.1 61L498.1 62L498.1 63L498.1 64L498.1 65L498.1 66L498.1 67L498.1 68L498.1 69L498.1 70L498.1 71L498.1 72L498.1 73L498.1 74L498.1 75L498.1 76L498.1 77L498.1 78L498.2 79L498.2 80L498.2 81L498.2 82L498.2 83L498.2 84L498.2 85L498.2 86L498.2 87L498.2 88L498.2 89L498.2 90L498.2 91L498.2 92L498.2 93L498.2 94L498.2 95L498.2 96L498.2 97L498.2 98L498.2 99L498.2 100L498.2 101L498.2 102L498.2 103L498.2 104L498.2 105L498.2 106L498.3 107L498.3 108L498.3 109L498.3 110L498.3 111L498.3 112L498.3 113L498.3 114L498.3 115L498.3 116L498.4 117L498.4 118L498.4 119L498.4 120L498.4 121L498.4 122L498.4 123L498.5 124L498.5 125L498.5 126L498.5 127L498.5 128L498.5 129L498.5 130L498.6 131L498.6 132L498.6 133L498.6 134L498.6 135L498.7 136L498.7 137L498.7 138L498.7 139L498.7 140L498.8 141L498.8 142L498.8 143L498.9 144L499 145L499.1 146L499.2 147L499.3 148L499.4 149L499.6 150L499.7 151L499.9 152L500 152.9L500.2 153.9L500.4 154.9L500.6 155.9L500.9 156.8L501.2 157.8L501.5 158.8L501.8 159.7L502.2 160.7L502.5 161.6L502.9 162.5L503.2 163.4L503.6 164.4L504 165.3L504.5 166.2L505 167L505.5 167.9L506 168.8L506.5 169.7L507 170.5L507.6 171.3L508.2 172.2L508.7 173L509.3 173.7L510 174.5L510.6 175.3L511.3 176L512 176.8L512.7 177.5L513.4 178.2L514.1 178.9L514.8 179.6L515.6 180.2L516.3 180.9L517.1 181.5L517.9 182.1L518.7 182.7L519.5 183.3L520.4 183.9L521.2 184.5L522 185L522.9 185.6L523.7 186.1L524.5 186.6L525.4 187.1L526.3 187.6L527.1 188.1L528 188.6L528.9 189.1L529.8 189.6L530.7 190.1L531.5 190.5L532.4 191L533.3 191.4L534.2 191.9L535.1 192.3L536 192.7L537 193.1L537.9 193.5L538.8 193.9L539.7 194.3L540.6 194.6L541.6 195L542.5 195.3L543.5 195.7L544.4 196L545.4 196.3L546.3 196.6L547.3 196.9L548.2 197.2L549.2 197.5L550.2 197.7L551.1 198L552.1 198.3L553.1 198.5L554 198.7L555 199L556 199.2L556.9 199.4L557.9 199.7L558.9 199.9L559.9 200.2L560.8 200.4L561.8 200.6L562.8 200.9L563.7 201.2L564.7 201.4L565.7 201.7L566.6 201.9L567.6 202.2L568.6 202.4L569.5 202.7L570.5 203L571.5 203.2L572.4 203.5L573.4 203.7L574.4 204L575.3 204.3L576.3 204.5L577.3 204.8L578.2 205L579.2 205.3L580.2 205.6L581.1 205.8L582.1 206.1L583.1 206.3L584 206.5L585 206.8L586 207L587 207.3L587.9 207.5L588.9 207.7L589.9 207.9L590.9 208.2L591.8 208.4L592.8 208.6L593.8 208.8L594.8 209L595.7 209.2L596.7 209.4L597.7 209.6L598.7 209.8L599.7 210L600.6 210.1L601.6 210.3L602.6 210.5L603.6 210.7L604.6 210.9L605.6 211L606.6 211.2L607.5 211.4L608.5 211.6L609.5 211.7L610.5 211.9L611.5 212.1L612.5 212.2L613.5 212.4L614.4 212.6L615.4 212.7L616.4 212.9L617.4 213L618.4 213.2L619.4 213.4L620.4 213.5L621.4 213.7L622.3 213.8L623.3 214L624.3 214.1L625.3 214.3L626.3 214.4L627.3 214.5L628.3 214.7L629.3 214.8L630.3 215L631.2 215.1L632.2 215.3L633.2 215.4L634.2 215.5L635.2 215.7L636.2 215.8L637.2 215.9L638.2 216.1L639.2 216.2L640.2 216.3L641.2 216.5L642.1 216.6L643.1 216.7L644.1 216.9L645.1 217L646.1 217.1L647.1 217.3L648.1 217.4L649.1 217.5L650.1 217.6L651.1 217.8L652.1 217.9L653.1 218L654 218.1L655 218.2L656 218.4L657 218.5L658 218.6L659 218.7L660 218.8L661 219L662 219.1L663 219.2L664 219.3L665 219.4L666 219.5L667 219.7L668 219.8L668.9 219.9L669.9 220L670.9 220.1L671.9 220.2L672.9 220.3L673.9 220.5L674.9 220.6L675.9 220.7L676.9 220.8L677.9 220.9L678.9 221L679.9 221.1L680.9 221.2L681.9 221.3L682.9 221.4L683.9 221.5L684.8 221.6L685.8 221.7L686.8 221.8L687.8 221.9L688.8 222L689.8 222.2L690.8 222.3L691.8 222.4L692.8 222.5L693.8 222.6L694.8 222.7L695.8 222.8L696.8 222.9L697.8 223L698.8 223.1L699.8 223.2L700.8 223.3L701.8 223.4L702.8 223.5L703.7 223.6L704.7 223.7L705.7 223.8L706.7 223.9L707.7 224L708.7 224.2L709.7 224.3L710.7 224.4L711.7 224.5L712.7 224.6L713.7 224.7L714.7 224.8L715.7 224.9L716.7 225.1L717.7 225.2L718.7 225.3L719.6 225.4L720.6 225.5L721.6 225.6L722.6 225.8L723.6 225.9L724.6 226L725.6 226.1L726.6 226.2L727.6 226.3L728.6 226.4L729.6 226.6L730.6 226.7L731.6 226.8L732.6 226.9L733.6 227L734.6 227.1L735.5 227.2L736.5 227.3L737.5 227.4L738.5 227.5L739.5 227.6L740.5 227.7L741.5 227.8L742.5 227.9L743.5 228L744.5 228.1L745.5 228.2L746.5 228.3L747.5 228.4L748.5 228.5L749.5 228.5L750.5 228.6L751.5 228.7L752.5 228.8L753.5 228.9L754.5 229L755.5 229L756.5 229.1L757.5 229.2L758.4 229.3L759.4 229.4L760.4 229.4L761.4 229.5L762.4 229.6L763.4 229.7L764.4 229.7L765.4 229.8L766.4 229.9L767.4 229.9L768.4 230L769.4 230.1L770.4 230.2L771.4 230.2L772.4 230.3L773.4 230.4L774.4 230.4L775.4 230.5L776.4 230.6L777.4 230.6L778.4 230.7L779.4 230.8L780.4 230.8L781.4 230.9L782.4 231L783.4 231L784.4 231.1L785.4 231.2L786.4 231.2L787.4 231.3L788.4 231.4L789.4 231.4L790.4 231.5L791.4 231.6L792.4 231.6L793.4 231.7L794.4 231.8L795.4 231.8L796.4 231.9L797.4 232L798.4 232L799.4 232.1L800.4 232.2L801.4 232.2L802.3 232.3L803.3 232.3L804.3 232.4L805.3 232.5L806.3 232.5L807.3 232.6L808.3 232.7L809.3 232.7L810.3 232.8L811.3 232.8L812.3 232.9L813.3 233L814.3 233L815.3 233.1L816.3 233.1L817.3 233.2L818.3 233.2L819.3 233.3L820.3 233.4L821.3 233.4L822.3 233.5L823.3 233.5L824.3 233.6L825.3 233.6L826.3 233.7L827.3 233.7L828.3 233.8L829.3 233.9L829.6 233.9" stroke="#000" stroke-width="1.5" stroke-linejoin="round"/>
<path d="M495.4 12.2h6.5v6.5h-6.5zM495.4 14.3h6.5v6.5h-6.5zM495.4 16.5h6.5v6.5h-6.5zM495.4 18.9h6.5v6.5h-6.5zM495.4 21.4h6.5v6.5h-6.5zM495.4 24.1h6.5v6.5h-6.5zM495.4 26.9h6.5v6.5h-6.5zM495.4 30h6.5v6.5h-6.5zM495.4 33.2h6.5v6.5h-6.5zM495.4 36.6h6.5v6.5h-6.5zM495.4 40.3h6.5v6.5h-6.5zM495.4 44.2h6.5v6.5h-6.5zM495.4 48.3h6.5v6.5h-6.5zM495.4 52.7h6.5v6.5h-6.5zM495.4 57.4h6.5v6.5h-6.5zM495.4 62.4h6.5v6.5h-6.5zM495.4 67.7h6.5v6.5h-6.5zM495.4 73.3h6.5v6.5h-6.5zM495.4 79.3h6.5v6.5h-6.5zM495.4 85.7h6.5v6.5h-6.5zM495.4 92.4h6.5v6.5h-6.5zM495.4 99.7h6.5v6.5h-6.5zM495.6 107.2h6.5v6.5h-6.5zM495.9 114.7h6.5v6.5h-6.5zM496.4 122.2h6.5v6.5h-6.5zM498.8 129.7h6.5v6.5h-6.5zM503.2 137.2h6.5v6.5h-6.5zM509 144.9h6.5v6.5h-6.5zM517.4 151.9h6.5v6.5h-6.5zM531.6 159.6h6.5v6.5h-6.5zM549.1 167h6.5v6.5h-6.5zM581 174h6.5v6.5h-6.5zM597.2 177.8h6.5v6.5h-6.5zM610.2 179.8h6.5v6.5h-6.5zM621.4 181.5h6.5v6.5h-6.5zM636.4 183.5h6.5v6.5h-6.5zM646.4 185.3h6.5v6.5h-6.5zM658.8 187.2h6.5v6.5h-6.5zM673.4 189.5h6.5v6.5h-6.5zM686.6 191.3h6.5v6.5h-6.5zM701.7 193.2h6.5v6.5h-6.5zM721 194.7h6.5v6.5h-6.5zM737 197h6.5v6.5h-6.5zM757.4 198.9h6.5v6.5h-6.5zM777.6 200.8h6.5v6.5h-6.5zM796.7 202.7h6.5v6.5h-6.5zM815.6 204.6h6.5v6.5h-6.5zM833.9 206.4h6.5v6.5h-6.5z" stroke="#000" stroke-width="1.15" stroke-linejoin="miter"/>
<path d="M498.1 15L498.1 16L498.1 17L498.1 18L498.1 19L498.1 20L498.1 21L498.1 22L498.1 23L498.1 24L498.1 25L498.1 26L498.1 27L498.1 28L498.1 29L498.1 30L498.1 31L498.1 32L498.1 33L498.1 34L498.1 35L498.1 36L498.1 37L498.1 38L498.1 39L498.1 40L498.1 41L498.1 42L498.1 43L498.1 44L498.1 45L498.1 46L498.1 47L498.1 48L498.1 49L498.1 50L498.1 51L498.1 52L498.1 53L498.1 54L498.1 55L498.1 56L498.1 57L498.1 58L498.1 59L498.1 60L498.1 61L498.1 62L498.1 63L498.1 64L498.1 65L498.1 66L498.1 67L498.1 68L498.1 69L498.2 70L498.2 71L498.2 72L498.2 73L498.2 74L498.2 75L498.2 76L498.2 77L498.2 78L498.2 79L498.2 80L498.2 81L498.2 82L498.2 83.1L498.2 84.1L498.2 85.1L498.2 86.1L498.3 87.1L498.3 88.1L498.3 89.1L498.3 90.1L498.3 91.1L498.3 92.1L498.3 93.1L498.4 94.1L498.4 95.1L498.4 96.1L498.4 97.2L498.4 98.2L498.5 99.2L498.5 100.2L498.5 101.2L498.5 102.2L498.6 103.2L498.6 104.2L498.6 105.2L498.7 106.2L498.7 107.2L498.7 108.2L498.8 109.2L498.8 110.2L498.8 111.2L498.9 112.2L498.9 113.2L499 114.1L499 115.1L499 116.1L499.1 117.1L499.1 118.1L499.2 119.1L499.2 120.1L499.3 121L499.3 122L499.4 123L499.4 124L499.6 125L499.7 125.9L500 126.9L500.2 127.9L500.6 128.8L500.9 129.8L501.3 130.8L501.6 131.7L502 132.6L502.3 133.6L502.7 134.5L503.1 135.4L503.5 136.3L504 137.2L504.5 138.1L505 139L505.5 139.8L506 140.7L506.6 141.5L507.2 142.2L507.8 143L508.5 143.8L509.2 144.5L509.9 145.2L510.6 145.9L511.4 146.6L512.1 147.3L512.8 148L513.6 148.6L514.3 149.3L515.1 149.9L515.9 150.5L516.7 151.1L517.5 151.7L518.3 152.3L519.1 152.9L519.9 153.5L520.8 154.1L521.6 154.7L522.4 155.2L523.2 155.8L524.1 156.3L524.9 156.9L525.8 157.4L526.6 157.9L527.5 158.4L528.4 158.8L529.3 159.3L530.1 159.8L531 160.2L531.9 160.7L532.8 161.1L533.8 161.5L534.7 162L535.6 162.4L536.5 162.8L537.4 163.2L538.3 163.6L539.2 164L540.1 164.4L541.1 164.8L542 165.2L542.9 165.6L543.8 165.9L544.8 166.3L545.7 166.7L546.6 167L547.6 167.4L548.5 167.7L549.5 168L550.4 168.4L551.4 168.7L552.3 169L553.2 169.3L554.2 169.6L555.2 169.9L556.1 170.2L557.1 170.5L558 170.8L559 171.1L559.9 171.4L560.9 171.7L561.8 172L562.8 172.3L563.7 172.6L564.7 172.9L565.7 173.2L566.6 173.5L567.6 173.7L568.5 174L569.5 174.3L570.5 174.6L571.4 174.8L572.4 175.1L573.4 175.4L574.3 175.6L575.3 175.9L576.2 176.2L577.2 176.4L578.2 176.7L579.1 176.9L580.1 177.2L581.1 177.5L582.1 177.7L583 177.9L584 178.2L585 178.4L585.9 178.6L586.9 178.9L587.9 179.1L588.9 179.3L589.8 179.6L590.8 179.8L591.8 180L592.8 180.2L593.7 180.4L594.7 180.6L595.7 180.9L596.7 181.1L597.7 181.2L598.6 181.4L599.6 181.6L600.6 181.8L601.6 181.9L602.6 182.1L603.6 182.3L604.6 182.5L605.6 182.7L606.5 182.9L607.5 183.1L608.4 183.4L609.4 183.7L610.3 184.1L611.2 184.5L612.1 185L613 185.4L614 185.8L614.9 186.1L615.9 186.3L616.8 186.5L617.8 186.7L618.7 186.9L619.7 187.1L620.7 187.3L621.7 187.4L622.7 187.6L623.6 187.8L624.6 187.9L625.6 188.1L626.6 188.2L627.6 188.3L628.6 188.5L629.6 188.6L630.6 188.7L631.6 188.8L632.6 188.9L633.6 189.1L634.6 189.2L635.6 189.3L636.6 189.4L637.6 189.5L638.6 189.6L639.6 189.8L640.6 189.9L641.6 190L642.6 190.1L643.6 190.2L644.6 190.3L645.6 190.4L646.6 190.5L647.6 190.6L648.6 190.7L649.6 190.8L650.6 190.9L651.6 191L652.6 191.1L653.6 191.2L654.6 191.3L655.6 191.3L656.5 191.4L657.5 191.5L658.5 191.6L659.5 191.7L660.5 191.8L661.5 191.9L662.5 192L663.5 192.1L664.5 192.2L665.5 192.3L666.5 192.5L667.5 192.6L668.5 192.7L669.5 192.8L670.5 192.9L671.5 193L672.5 193.2L673.4 193.3L674.4 193.4L675.4 193.5L676.4 193.7L677.4 193.8L678.4 193.9L679.4 194L680.4 194.2L681.4 194.3L682.4 194.4L683.4 194.6L684.4 194.7L685.3 194.8L686.3 195L687.3 195.1L688.3 195.2L689.3 195.4L690.3 195.5L691.3 195.6L692.3 195.8L693.3 195.9L694.3 196L695.3 196.2L696.3 196.3L697.2 196.4L698.2 196.6L699.2 196.7L700.2 196.8L701.2 197L702.2 197.1L703.2 197.2L704.2 197.4L705.2 197.5L706.2 197.6L707.2 197.7L708.2 197.9L709.1 198L710.1 198.1L711.1 198.2L712.1 198.3L713.1 198.5L714.1 198.6L715.1 198.7L716.1 198.8L717.1 198.9L718.1 199L719.1 199.1L720.1 199.2L721.1 199.4L722.1 199.5L723 199.6L724 199.7L725 199.8L726 199.9L727 200L728 200.1L729 200.2L730 200.3L731 200.4L732 200.5L733 200.6L734 200.7L735 200.8L736 200.9L737 201L738 201.1L739 201.2L740 201.3L741 201.4L741.9 201.5L742.9 201.6L743.9 201.7L744.9 201.8L745.9 201.9L746.9 202L747.9 202.1L748.9 202.2L749.9 202.3L750.9 202.4L751.9 202.5L752.9 202.6L753.9 202.7L754.9 202.8L755.9 202.9L756.9 203L757.9 203.1L758.9 203.2L759.9 203.2L760.9 203.3L761.9 203.4L762.9 203.5L763.9 203.6L764.8 203.7L765.8 203.8L766.8 203.9L767.8 204L768.8 204L769.8 204.1L770.8 204.2L771.8 204.3L772.8 204.4L773.8 204.4L774.8 204.5L775.8 204.6L776.8 204.7L777.8 204.8L778.8 204.8L779.8 204.9L780.8 205L781.8 205.1L782.8 205.1L783.8 205.2L784.8 205.3L785.8 205.4L786.8 205.4L787.8 205.5L788.8 205.6L789.8 205.7L790.8 205.7L791.8 205.8L792.8 205.9L793.8 206L794.8 206L795.8 206.1L796.8 206.2L797.7 206.3L798.7 206.4L799.7 206.4L800.7 206.5L801.7 206.6L802.7 206.7L803.7 206.8L804.7 206.8L805.7 206.9L806.7 207L807.7 207.1L808.7 207.2L809.7 207.3L810.7 207.3L811.7 207.4L812.7 207.5L813.7 207.6L814.7 207.7L815.7 207.8L816.7 207.9L817.7 208L818.7 208.1L819.7 208.2L820.7 208.3L821.7 208.4L822.6 208.5L823.6 208.6L824.6 208.7L825.6 208.8L826.6 208.9L827.6 209L828.6 209.1L829.6 209.2L830.6 209.3L831.6 209.4L832.6 209.5L833.6 209.6L834.6 209.7L835.6 209.8L836.6 209.9L837.6 210L838.6 210.1L839.6 210.2L840 210.3" stroke="#f00" stroke-width="1.5" stroke-linejoin="round"/>
<path d="M498.7 12.3l3.2 6.5h-6.5zM498.7 16l3.2 6.5h-6.5zM498.7 19.7l3.2 6.5h-6.5zM498.7 23.4l3.2 6.5h-6.5zM498.7 27.1l3.2 6.5h-6.5zM498.7 30.8l3.2 6.5h-6.5zM498.7 34.5l3.2 6.5h-6.5zM498.7 38.2l3.2 6.5h-6.5zM498.7 41.9l3.2 6.5h-6.5zM498.7 45.6l3.2 6.5h-6.5zM498.7 49.3l3.2 6.5h-6.5zM498.7 53l3.2 6.5h-6.5zM498.7 56.7l3.2 6.5h-6.5zM498.7 60.4l3.2 6.5h-6.5zM498.7 64.1l3.2 6.5h-6.5zM498.7 67.8l3.2 6.5h-6.5zM498.7 71.5l3.2 6.5h-6.5zM498.7 75.2l3.2 6.5h-6.5zM498.7 78.9l3.2 6.5h-6.5zM498.7 82.6l3.2 6.5h-6.5zM498.7 86.3l3.2 6.5h-6.5zM498.9 90l3.2 6.5h-6.5zM499.1 93.7l3.2 6.5h-6.5zM499.3 97.4l3.2 6.5h-6.5zM499.6 101.1l3.2 6.5h-6.5zM499.9 104.8l3.2 6.5h-6.5zM500.3 108.5l3.2 6.5h-6.5zM500.7 112.2l3.2 6.5h-6.5zM501.5 115.9l3.2 6.5h-6.5zM503 119.6l3.2 6.5h-6.5zM504.6 123.3l3.2 6.5h-6.5zM506.3 127l3.2 6.5h-6.5zM505.2 130.7l3.2 6.5h-6.5zM509.7 138.4l3.2 6.5h-6.5zM514.2 143.6l3.2 6.5h-6.5zM519.3 147.4l3.2 6.5h-6.5zM523.8 151.3l3.2 6.5h-6.5zM529 155.1l3.2 6.5h-6.5zM536.1 159.6l3.2 6.5h-6.5zM543.1 163.6l3.2 6.5h-6.5zM551.1 167l3.2 6.5h-6.5zM561.1 171l3.2 6.5h-6.5zM572.3 174.5l3.2 6.5h-6.5zM583.5 178.5l3.2 6.5h-6.5zM598.5 182l3.2 6.5h-6.5zM612.2 186l3.2 6.5h-6.5zM625.4 189.5l3.2 6.5h-6.5zM639.6 193.5l3.2 6.5h-6.5zM652.1 197l3.2 6.5h-6.5zM666.3 201l3.2 6.5h-6.5zM681 204.7l3.2 6.5h-6.5zM695.1 208.5l3.2 6.5h-6.5zM708.7 212.3l3.2 6.5h-6.5zM721.9 215.9l3.2 6.5h-6.5zM735.2 219.7l3.2 6.5h-6.5zM748.4 223.4l3.2 6.5h-6.5zM758.4 227.2l3.2 6.5h-6.5zM769.2 230.6l3.2 6.5h-6.5zM778 234.8l3.2 6.5h-6.5zM785.6 239.1l3.2 6.5h-6.5zM792.4 242.3l3.2 6.5h-6.5zM794.6 245.4l3.2 6.5h-6.5z" stroke="#000" stroke-width="1.15" stroke-linejoin="miter"/>
<path d="M498.1 15L498.1 16L498.1 17L498.1 18L498.1 19L498.1 20L498.1 21L498.1 22L498.1 23L498.1 24L498.1 25L498.1 26L498.1 27L498.1 28L498.1 29L498.1 30L498.1 31L498.1 32L498.1 33L498.1 34L498.1 35L498.1 36L498.1 37L498.1 38L498.1 39L498.1 40L498.1 41L498.1 42L498.1 43L498.1 44L498.1 45L498.1 46L498.1 47L498.1 48L498.1 49L498.1 50L498.1 51L498.1 52L498.1 53L498.1 54L498.1 55L498.1 56L498.1 57L498.1 58L498.1 59L498.1 60L498.1 61L498.1 62L498.1 63L498.1 64L498.1 65L498.1 66L498.2 67L498.2 68L498.2 69L498.2 70L498.2 71L498.2 72L498.2 73L498.2 74L498.2 75L498.2 76L498.3 77.1L498.3 78.1L498.3 79.1L498.3 80.1L498.4 81.1L498.4 82.1L498.4 83.1L498.5 84.1L498.5 85.1L498.5 86.1L498.6 87.2L498.6 88.2L498.7 89.2L498.7 90.2L498.8 91.2L498.8 92.2L498.9 93.2L498.9 94.2L499 95.2L499 96.2L499.1 97.2L499.2 98.2L499.2 99.2L499.3 100.2L499.4 101.2L499.4 102.2L499.5 103.2L499.6 104.2L499.7 105.2L499.8 106.2L499.8 107.2L499.9 108.1L500 109.1L500.1 110.1L500.2 111.1L500.3 112.1L500.4 113L500.5 114L500.6 115L500.7 115.9L500.8 116.9L501.1 117.9L501.3 118.8L501.7 119.8L502 120.7L502.4 121.6L502.9 122.6L503.3 123.5L503.7 124.4L504.1 125.3L504.5 126.3L504.9 127.2L505.3 128.1L505.7 129L506.2 129.9L506.6 130.8L507.1 131.7L507.6 132.6L508.1 133.4L508.6 134.3L509.1 135.1L509.7 135.9L510.3 136.7L511 137.5L511.6 138.2L512.3 139L513 139.7L513.6 140.5L514.3 141.2L515 142L515.7 142.7L516.4 143.4L517.1 144.1L517.8 144.8L518.5 145.5L519.2 146.2L520 146.8L520.8 147.5L521.5 148.1L522.3 148.7L523.1 149.3L523.9 149.9L524.7 150.5L525.5 151.1L526.4 151.7L527.2 152.3L528 152.8L528.8 153.4L529.7 154L530.5 154.5L531.3 155.1L532.2 155.6L533 156.2L533.9 156.7L534.7 157.2L535.6 157.7L536.4 158.2L537.3 158.7L538.1 159.2L539 159.7L539.9 160.2L540.8 160.7L541.7 161.1L542.6 161.6L543.5 162.1L544.3 162.5L545.2 162.9L546.1 163.4L547 163.8L547.9 164.3L548.8 164.7L549.7 165.1L550.7 165.5L551.6 165.9L552.5 166.3L553.4 166.8L554.3 167.2L555.2 167.6L556.1 167.9L557.1 168.3L558 168.7L558.9 169.1L559.8 169.5L560.8 169.9L561.7 170.3L562.6 170.6L563.5 171L564.5 171.4L565.4 171.8L566.3 172.1L567.3 172.5L568.2 172.8L569.1 173.2L570.1 173.5L571 173.9L571.9 174.3L572.9 174.6L573.8 175L574.8 175.3L575.7 175.7L576.6 176L577.6 176.4L578.5 176.7L579.5 177L580.4 177.3L581.4 177.6L582.4 177.8L583.3 178L584.3 178.2L585.3 178.3L586.3 178.5L587.3 178.6L588.3 178.8L589.3 178.9L590.2 179.1L591.2 179.3L592.2 179.6L593.1 179.8L594.1 180.1L595.1 180.3L596 180.6L597 180.9L597.9 181.2L598.9 181.5L599.8 181.8L600.8 182.1L601.8 182.4L602.7 182.7L603.7 183.1L604.6 183.4L605.5 183.7L606.5 184L607.4 184.4L608.4 184.7L609.3 185L610.3 185.3L611.2 185.7L612.2 186L613.2 186.3L614.1 186.6L615.1 186.9L616 187.2L617 187.5L617.9 187.7L618.9 188L619.8 188.3L620.8 188.6L621.8 188.9L622.7 189.2L623.7 189.5L624.6 189.8L625.6 190.1L626.5 190.4L627.5 190.7L628.5 191L629.4 191.2L630.4 191.5L631.3 191.8L632.3 192.1L633.2 192.4L634.2 192.7L635.2 193L636.1 193.2L637.1 193.5L638 193.8L639 194.1L640 194.3L640.9 194.6L641.9 194.9L642.9 195.1L643.8 195.4L644.8 195.7L645.8 195.9L646.7 196.2L647.7 196.4L648.7 196.7L649.6 197L650.6 197.2L651.6 197.5L652.5 197.7L653.5 198L654.5 198.2L655.4 198.5L656.4 198.7L657.4 199L658.3 199.2L659.3 199.5L660.3 199.8L661.2 200L662.2 200.3L663.1 200.6L664.1 200.8L665.1 201.1L666 201.4L667 201.7L668 201.9L668.9 202.2L669.9 202.5L670.8 202.8L671.8 203.1L672.7 203.4L673.7 203.6L674.7 203.9L675.6 204.2L676.6 204.5L677.5 204.8L678.5 205.1L679.5 205.4L680.4 205.7L681.4 206L682.3 206.3L683.3 206.6L684.2 206.9L685.2 207.2L686.1 207.5L687.1 207.8L688 208.1L689 208.4L689.9 208.7L690.9 209L691.8 209.4L692.8 209.7L693.7 210L694.7 210.3L695.6 210.7L696.6 211L697.5 211.3L698.4 211.7L699.4 212L700.3 212.3L701.3 212.7L702.2 213L703.1 213.3L704.1 213.7L705 214L706 214.4L706.9 214.7L707.9 215L708.8 215.3L709.7 215.7L710.7 216L711.6 216.3L712.6 216.7L713.5 217L714.5 217.3L715.4 217.7L716.4 218L717.3 218.3L718.2 218.7L719.2 219L720.1 219.3L721.1 219.6L722 220L723 220.3L723.9 220.6L724.8 221L725.8 221.3L726.7 221.6L727.7 222L728.6 222.3L729.6 222.6L730.5 223L731.5 223.3L732.4 223.6L733.3 224L734.3 224.3L735.2 224.6L736.2 225L737.1 225.3L738 225.6L739 226L739.9 226.3L740.9 226.6L741.8 227L742.8 227.3L743.7 227.6L744.7 227.9L745.6 228.2L746.6 228.5L747.5 228.8L748.5 229.1L749.4 229.4L750.4 229.7L751.4 230L752.3 230.3L753.3 230.6L754.2 230.8L755.2 231.1L756.1 231.4L757.1 231.7L758.1 232L759 232.4L759.9 232.7L760.9 233L761.8 233.4L762.8 233.7L763.7 234.1L764.6 234.4L765.6 234.8L766.5 235.2L767.4 235.6L768.3 236L769.2 236.4L770.2 236.8L771.1 237.2L772 237.6L772.8 238.1L773.7 238.5L774.6 239L775.5 239.5L776.4 240L777.2 240.5L778.1 241L779 241.5L779.8 242L780.7 242.5L781.5 243.1L782.4 243.6L783.2 244.2L784 244.7L784.8 245.3L785.7 245.9L786.5 246.5L787.3 247.1L788.1 247.7L788.8 248.3L789.6 248.9L790.4 249.5L790.9 249.9" stroke="#00f" stroke-width="1.5" stroke-linejoin="round"/>
</g>
<rect x="497.7" y="16" width="363.2" height="235.2" fill="none" stroke="#404040" stroke-width="0.85"/>
<path d="M497.7 251.2v3.6M570.3 251.2v3.6M643 251.2v3.6M715.6 251.2v3.6M788.3 251.2v3.6M860.9 251.2v3.6M497.7 251.2h-3.5M497.7 204.2h-3.5M497.7 110.1h-3.5M497.7 16h-3.5" stroke="#333" stroke-width="0.8" fill="none"/>
<g class="tk">
<text x="497.7" y="271.6" text-anchor="middle">0</text>
<text x="570.3" y="271.6" text-anchor="middle">0.2</text>
<text x="643" y="271.6" text-anchor="middle">0.4</text>
<text x="715.6" y="271.6" text-anchor="middle">0.6</text>
<text x="788.3" y="271.6" text-anchor="middle">0.8</text>
<text x="860.9" y="271.6" text-anchor="middle">1</text>
<text x="490.1" y="257.5" text-anchor="end">0.5</text>
<text x="490.1" y="210.5" text-anchor="end">0.6</text>
<text x="490.1" y="116.4" text-anchor="end">0.8</text>
<text x="490.1" y="22.3" text-anchor="end">1</text>
</g>
<text class="lab" x="669.8" y="292.3">T</text><text class="ast" x="690.2" y="282.7" text-anchor="middle">∗</text>
<text class="lab sub" x="679.2" y="313.6" text-anchor="middle">(b)</text>
<text class="lab yl" transform="translate(453.9 134.3) rotate(-90)" text-anchor="middle">y</text>
<rect x="666" y="21.4" width="54.2" height="29.1" fill="#fff" stroke="#222" stroke-width="1"/>
<text class="ttl" x="693.1" y="40.4" text-anchor="middle">Car2</text>
<rect x="727" y="23" width="127.6" height="113.9" rx="2.5" fill="#fff" fill-opacity="0.8" stroke="#d0d0d0" stroke-width="1"/>
<path d="M741.8 32.4a3.2 3.2 0 1 0 6.5 0a3.2 3.2 0 1 0 -6.5 0M741.8 65.9h6.5v6.5h-6.5zM745 102.6l3.2 6.5h-6.5z" stroke="#000" stroke-width="1.15" fill="none"/>
<path d="M731.3 50.8h26.9" stroke="#000" stroke-width="1.5"/>
<path d="M731.3 87.5h26.9" stroke="#f00" stroke-width="1.5"/>
<path d="M731.3 124.2h26.9" stroke="#00f" stroke-width="1.5"/>
<g class="lg">
<text x="769" y="36.7">x1=0.35;CNNs</text>
<text x="769" y="55.1">x1=0.35;CFD</text>
<text x="769" y="73.4">x2=0.5;CNNs</text>
<text x="769" y="91.8">x2=0.5;CFD</text>
<text x="769" y="110.2">x3=0.65;CNNs</text>
<text x="769" y="128.6">x3=0.65;CFD</text>
</g>
<clipPath id="clc"><rect x="934" y="15.2" width="363.6" height="235.2"/></clipPath>
<g clip-path="url(#clc)" fill="none">
<path d="M933.4 14.7a3.2 3.2 0 1 0 6.5 0a3.2 3.2 0 1 0 -6.5 0M933.4 16.8a3.2 3.2 0 1 0 6.5 0a3.2 3.2 0 1 0 -6.5 0M933.4 19a3.2 3.2 0 1 0 6.5 0a3.2 3.2 0 1 0 -6.5 0M933.4 21.4a3.2 3.2 0 1 0 6.5 0a3.2 3.2 0 1 0 -6.5 0M933.4 23.9a3.2 3.2 0 1 0 6.5 0a3.2 3.2 0 1 0 -6.5 0M933.4 26.6a3.2 3.2 0 1 0 6.5 0a3.2 3.2 0 1 0 -6.5 0M933.4 29.5a3.2 3.2 0 1 0 6.5 0a3.2 3.2 0 1 0 -6.5 0M933.4 32.5a3.2 3.2 0 1 0 6.5 0a3.2 3.2 0 1 0 -6.5 0M933.4 35.7a3.2 3.2 0 1 0 6.5 0a3.2 3.2 0 1 0 -6.5 0M933.4 39.2a3.2 3.2 0 1 0 6.5 0a3.2 3.2 0 1 0 -6.5 0M933.4 42.8a3.2 3.2 0 1 0 6.5 0a3.2 3.2 0 1 0 -6.5 0M933.4 46.7a3.2 3.2 0 1 0 6.5 0a3.2 3.2 0 1 0 -6.5 0M933.4 50.9a3.2 3.2 0 1 0 6.5 0a3.2 3.2 0 1 0 -6.5 0M933.4 55.3a3.2 3.2 0 1 0 6.5 0a3.2 3.2 0 1 0 -6.5 0M933.4 60a3.2 3.2 0 1 0 6.5 0a3.2 3.2 0 1 0 -6.5 0M933.4 64.9a3.2 3.2 0 1 0 6.5 0a3.2 3.2 0 1 0 -6.5 0M933.4 70.2a3.2 3.2 0 1 0 6.5 0a3.2 3.2 0 1 0 -6.5 0M933.4 75.9a3.2 3.2 0 1 0 6.5 0a3.2 3.2 0 1 0 -6.5 0M933.4 81.9a3.2 3.2 0 1 0 6.5 0a3.2 3.2 0 1 0 -6.5 0M933.4 88.3a3.2 3.2 0 1 0 6.5 0a3.2 3.2 0 1 0 -6.5 0M933.4 95.1a3.2 3.2 0 1 0 6.5 0a3.2 3.2 0 1 0 -6.5 0M933.4 102.3a3.2 3.2 0 1 0 6.5 0a3.2 3.2 0 1 0 -6.5 0M933.4 109.8a3.2 3.2 0 1 0 6.5 0a3.2 3.2 0 1 0 -6.5 0M933.4 117.3a3.2 3.2 0 1 0 6.5 0a3.2 3.2 0 1 0 -6.5 0M933.4 124.8a3.2 3.2 0 1 0 6.5 0a3.2 3.2 0 1 0 -6.5 0M933.4 132.3a3.2 3.2 0 1 0 6.5 0a3.2 3.2 0 1 0 -6.5 0M933.4 139.8a3.2 3.2 0 1 0 6.5 0a3.2 3.2 0 1 0 -6.5 0M933.4 147.3a3.2 3.2 0 1 0 6.5 0a3.2 3.2 0 1 0 -6.5 0M933.4 154.8a3.2 3.2 0 1 0 6.5 0a3.2 3.2 0 1 0 -6.5 0M933.4 162.3a3.2 3.2 0 1 0 6.5 0a3.2 3.2 0 1 0 -6.5 0M933.4 169.8a3.2 3.2 0 1 0 6.5 0a3.2 3.2 0 1 0 -6.5 0M934 177.3a3.2 3.2 0 1 0 6.5 0a3.2 3.2 0 1 0 -6.5 0M935.2 184.8a3.2 3.2 0 1 0 6.5 0a3.2 3.2 0 1 0 -6.5 0M937.7 192.2a3.2 3.2 0 1 0 6.5 0a3.2 3.2 0 1 0 -6.5 0M940.7 199.7a3.2 3.2 0 1 0 6.5 0a3.2 3.2 0 1 0 -6.5 0M945.2 206.7a3.2 3.2 0 1 0 6.5 0a3.2 3.2 0 1 0 -6.5 0M947.7 210.9a3.2 3.2 0 1 0 6.5 0a3.2 3.2 0 1 0 -6.5 0M951.4 213.4a3.2 3.2 0 1 0 6.5 0a3.2 3.2 0 1 0 -6.5 0M955.2 215.9a3.2 3.2 0 1 0 6.5 0a3.2 3.2 0 1 0 -6.5 0M958.9 217.9a3.2 3.2 0 1 0 6.5 0a3.2 3.2 0 1 0 -6.5 0M962.7 219.7a3.2 3.2 0 1 0 6.5 0a3.2 3.2 0 1 0 -6.5 0M966.4 221.7a3.2 3.2 0 1 0 6.5 0a3.2 3.2 0 1 0 -6.5 0M970.1 223.9a3.2 3.2 0 1 0 6.5 0a3.2 3.2 0 1 0 -6.5 0M975.1 225.9a3.2 3.2 0 1 0 6.5 0a3.2 3.2 0 1 0 -6.5 0M982.6 227.7a3.2 3.2 0 1 0 6.5 0a3.2 3.2 0 1 0 -6.5 0M990.1 229.7a3.2 3.2 0 1 0 6.5 0a3.2 3.2 0 1 0 -6.5 0M999.6 231.6a3.2 3.2 0 1 0 6.5 0a3.2 3.2 0 1 0 -6.5 0M1007 233.4a3.2 3.2 0 1 0 6.5 0a3.2 3.2 0 1 0 -6.5 0M1017 235.1a3.2 3.2 0 1 0 6.5 0a3.2 3.2 0 1 0 -6.5 0M1028 237.6a3.2 3.2 0 1 0 6.5 0a3.2 3.2 0 1 0 -6.5 0M1039.2 239.1a3.2 3.2 0 1 0 6.5 0a3.2 3.2 0 1 0 -6.5 0M1054.2 240.9a3.2 3.2 0 1 0 6.5 0a3.2 3.2 0 1 0 -6.5 0M1062.4 242.1a3.2 3.2 0 1 0 6.5 0a3.2 3.2 0 1 0 -6.5 0M1080.4 244.6a3.2 3.2 0 1 0 6.5 0a3.2 3.2 0 1 0 -6.5 0M1098.1 246.6a3.2 3.2 0 1 0 6.5 0a3.2 3.2 0 1 0 -6.5 0M1126 248.4a3.2 3.2 0 1 0 6.5 0a3.2 3.2 0 1 0 -6.5 0M1165.1 250.3a3.2 3.2 0 1 0 6.5 0a3.2 3.2 0 1 0 -6.5 0M1204.2 251.1a3.2 3.2 0 1 0 6.5 0a3.2 3.2 0 1 0 -6.5 0" stroke="#000" stroke-width="1.15" stroke-linejoin="miter"/>
<path d="M934.9 14.2L934.9 15.2L934.9 16.2L934.9 17.2L934.9 18.2L934.9 19.2L934.9 20.2L934.9 21.2L934.9 22.2L934.9 23.2L934.9 24.2L934.9 25.2L934.9 26.2L934.9 27.2L934.9 28.2L934.9 29.2L934.9 30.2L934.9 31.2L934.9 32.2L934.9 33.2L934.9 34.2L934.9 35.2L934.9 36.2L934.9 37.2L934.9 38.2L934.9 39.2L934.9 40.2L934.9 41.2L934.9 42.2L934.9 43.2L934.9 44.2L934.9 45.2L934.9 46.2L934.9 47.2L934.9 48.2L934.9 49.2L934.9 50.2L934.9 51.2L934.9 52.2L934.9 53.2L934.9 54.2L934.9 55.2L934.9 56.2L934.9 57.2L934.9 58.2L934.9 59.2L934.9 60.2L934.9 61.2L934.9 62.2L934.9 63.2L934.9 64.2L934.9 65.2L934.9 66.2L934.9 67.2L934.9 68.2L934.9 69.2L934.9 70.2L934.9 71.2L934.9 72.2L934.9 73.2L934.9 74.2L934.9 75.2L934.9 76.2L934.9 77.2L934.9 78.2L934.9 79.2L934.9 80.2L934.9 81.2L934.9 82.2L934.9 83.2L934.9 84.2L934.9 85.2L934.9 86.2L934.9 87.2L934.9 88.2L934.9 89.2L934.9 90.2L934.9 91.2L934.9 92.2L934.9 93.2L934.9 94.2L934.9 95.2L934.9 96.2L934.9 97.2L934.9 98.2L934.9 99.2L934.9 100.2L934.9 101.2L934.9 102.2L934.9 103.2L934.9 104.2L934.9 105.2L934.9 106.2L934.9 107.2L934.9 108.2L934.9 109.2L934.9 110.2L934.9 111.2L934.9 112.2L934.9 113.2L934.9 114.2L934.9 115.2L934.9 116.2L934.9 117.2L934.9 118.2L934.9 119.2L934.9 120.2L934.9 121.2L934.9 122.2L934.9 123.2L934.9 124.2L934.9 125.2L934.9 126.2L934.9 127.2L934.9 128.2L934.9 129.2L934.9 130.2L934.9 131.2L934.9 132.2L934.9 133.2L934.9 134.2L934.9 135.2L934.9 136.2L934.9 137.2L934.9 138.2L934.9 139.2L934.9 140.2L934.9 141.2L934.9 142.2L934.9 143.2L934.9 144.2L934.9 145.2L934.9 146.2L934.9 147.2L934.9 148.2L934.9 149.2L934.9 150.2L934.9 151.2L934.9 152.2L934.9 153.2L934.9 154.2L934.9 155.2L934.9 156.2L934.9 157.2L934.9 158.2L934.9 159.2L934.9 160.2L934.9 161.2L934.9 162.2L934.9 163.2L934.9 164.2L934.9 165.2L934.9 166.2L934.9 167.2L934.9 168.2L934.9 169.2L934.9 170.2L934.9 171.2L934.9 172.2L934.9 173.2L934.9 174.2L934.9 175.2L935 176.2L935 177.2L935 178.2L935.1 179.2L935.1 180.2L935.2 181.2L935.2 182.2L935.3 183.2L935.4 184.2L935.5 185.2L935.7 186.2L935.8 187.2L936 188.2L936.2 189.1L936.4 190.1L936.6 191.1L936.8 192.1L937 193L937.3 194L937.6 195L937.9 195.9L938.3 196.9L938.6 197.8L939 198.7L939.4 199.6L939.8 200.5L940.3 201.4L940.8 202.3L941.3 203.2L941.8 204.1L942.4 204.9L943 205.6L943.6 206.4L944.3 207.1L945.1 207.8L945.8 208.5L946.6 209.1L947.4 209.7L948.3 210.3L949.1 210.8L950 211.2L950.9 211.7L951.8 212.1L952.7 212.5L953.6 212.9L954.5 213.4L955.4 213.9L956.2 214.4L957.1 215L957.9 215.6L958.7 216.1L959.5 216.7L960.3 217.3L961.2 217.9L962 218.5L962.8 219.1L963.6 219.6L964.5 220.1L965.4 220.6L966.2 221L967.1 221.4L968.1 221.8L969 222.2L969.9 222.6L970.9 222.9L971.8 223.2L972.8 223.6L973.7 223.9L974.7 224.2L975.6 224.5L976.6 224.8L977.5 225.2L978.5 225.5L979.4 225.8L980.4 226.1L981.3 226.3L982.3 226.6L983.3 226.9L984.2 227.2L985.2 227.5L986.1 227.7L987.1 228L988.1 228.3L989 228.5L990 228.8L991 229L991.9 229.3L992.9 229.6L993.9 229.8L994.8 230L995.8 230.3L996.8 230.5L997.8 230.8L998.7 231L999.7 231.2L1000.7 231.5L1001.6 231.7L1002.6 231.9L1003.6 232.1L1004.6 232.3L1005.6 232.5L1006.5 232.7L1007.5 232.9L1008.5 233.1L1009.5 233.3L1010.5 233.5L1011.4 233.7L1012.4 233.9L1013.4 234.1L1014.4 234.3L1015.4 234.4L1016.4 234.6L1017.3 234.8L1018.3 235L1019.3 235.2L1020.3 235.3L1021.3 235.5L1022.3 235.7L1023.2 235.9L1024.2 236L1025.2 236.2L1026.2 236.4L1027.2 236.6L1028.2 236.8L1029.1 237L1030.1 237.2L1031.1 237.4L1032.1 237.6L1033.1 237.8L1034 238L1035 238.2L1036 238.4L1037 238.6L1038 238.8L1039 239L1039.9 239.1L1040.9 239.3L1041.9 239.5L1042.9 239.7L1043.9 239.9L1044.8 240.1L1045.8 240.2L1046.8 240.4L1047.8 240.6L1048.8 240.7L1049.8 240.9L1050.8 241L1051.8 241.2L1052.7 241.3L1053.7 241.5L1054.7 241.6L1055.7 241.7L1056.7 241.8L1057.7 242L1058.7 242.1L1059.7 242.2L1060.7 242.3L1061.7 242.5L1062.7 242.6L1063.7 242.7L1064.6 242.8L1065.6 242.9L1066.6 243L1067.6 243.1L1068.6 243.3L1069.6 243.4L1070.6 243.5L1071.6 243.6L1072.6 243.7L1073.6 243.8L1074.6 243.9L1075.6 244L1076.6 244.1L1077.6 244.2L1078.6 244.3L1079.6 244.4L1080.6 244.6L1081.6 244.7L1082.5 244.8L1083.5 244.9L1084.5 245L1085.5 245.1L1086.5 245.2L1087.5 245.3L1088.5 245.4L1089.5 245.5L1090.5 245.6L1091.5 245.7L1092.5 245.8L1093.5 245.9L1094.5 246L1095.5 246.1L1096.5 246.2L1097.5 246.3L1098.5 246.3L1099.5 246.4L1100.5 246.5L1101.5 246.6L1102.5 246.6L1103.5 246.7L1104.5 246.8L1105.4 246.8L1106.4 246.9L1107.4 246.9L1108.4 247L1109.4 247L1110.4 247.1L1111.4 247.1L1112.4 247.2L1113.4 247.2L1114.4 247.3L1115.4 247.4L1116.4 247.4L1117.4 247.5L1118.4 247.6L1119.4 247.6L1120.4 247.7L1121.4 247.8L1122.4 247.9L1123.4 248L1124.4 248.1L1125.4 248.2L1126.4 248.3L1127.4 248.4L1128.4 248.5L1129.4 248.6L1130.4 248.7L1131.4 248.8L1132.4 248.9L1133.4 249L1134.4 249.1L1135.3 249.2L1136.3 249.3L1137.3 249.4L1138.3 249.4L1139.3 249.5L1140.3 249.6L1141.3 249.7L1142.3 249.7L1143.3 249.8L1143.4 249.8" stroke="#000" stroke-width="1.5" stroke-linejoin="round"/>
<path d="M933.4 11.2h6.5v6.5h-6.5zM933.4 13.3h6.5v6.5h-6.5zM933.4 15.5h6.5v6.5h-6.5zM933.4 17.8h6.5v6.5h-6.5zM933.4 20.3h6.5v6.5h-6.5zM933.4 23h6.5v6.5h-6.5zM933.4 25.8h6.5v6.5h-6.5zM933.4 28.8h6.5v6.5h-6.5zM933.4 32h6.5v6.5h-6.5zM933.4 35.4h6.5v6.5h-6.5zM933.4 39.1h6.5v6.5h-6.5zM933.4 42.9h6.5v6.5h-6.5zM933.4 47h6.5v6.5h-6.5zM933.4 51.4h6.5v6.5h-6.5zM933.4 56h6.5v6.5h-6.5zM933.4 61h6.5v6.5h-6.5zM933.4 66.2h6.5v6.5h-6.5zM933.4 71.8h6.5v6.5h-6.5zM933.4 77.8h6.5v6.5h-6.5zM933.4 84.1h6.5v6.5h-6.5zM933.4 90.8h6.5v6.5h-6.5zM933.4 98h6.5v6.5h-6.5zM933.4 105.5h6.5v6.5h-6.5zM933.4 113h6.5v6.5h-6.5zM933.4 120.5h6.5v6.5h-6.5zM933.4 128h6.5v6.5h-6.5zM933.4 135.5h6.5v6.5h-6.5zM933.5 143h6.5v6.5h-6.5zM936.7 150.5h6.5v6.5h-6.5zM938 158.2h6.5v6.5h-6.5zM939.9 165.9h6.5v6.5h-6.5zM944.4 173.6h6.5v6.5h-6.5zM947.6 176.2h6.5v6.5h-6.5zM950.8 178.8h6.5v6.5h-6.5zM953.4 181.3h6.5v6.5h-6.5zM955.9 183.9h6.5v6.5h-6.5zM959.8 186.5h6.5v6.5h-6.5zM963.6 188.4h6.5v6.5h-6.5zM968.8 190.7h6.5v6.5h-6.5zM973.9 192.9h6.5v6.5h-6.5zM978.1 196h6.5v6.5h-6.5zM985.1 197.7h6.5v6.5h-6.5zM991.8 200.2h6.5v6.5h-6.5zM996.8 202h6.5v6.5h-6.5zM1002.6 203.5h6.5v6.5h-6.5zM1009.3 205.2h6.5v6.5h-6.5zM1017.5 207.7h6.5v6.5h-6.5zM1023.7 209.4h6.5v6.5h-6.5zM1033.2 211.4h6.5v6.5h-6.5zM1041.2 212.7h6.5v6.5h-6.5zM1049.9 215.2h6.5v6.5h-6.5zM1059.4 216.9h6.5v6.5h-6.5zM1071.9 218.9h6.5v6.5h-6.5zM1085.3 220.9h6.5v6.5h-6.5zM1098.1 222.7h6.5v6.5h-6.5zM1112.6 224.4h6.5v6.5h-6.5zM1126.9 225.9h6.5v6.5h-6.5zM1142 228.4h6.5v6.5h-6.5zM1148.1 229.7h6.5v6.5h-6.5zM1158.8 230.2h6.5v6.5h-6.5zM1176 231.9h6.5v6.5h-6.5zM1191.1 233.8h6.5v6.5h-6.5zM1207.6 235.7h6.5v6.5h-6.5zM1224 237.6h6.5v6.5h-6.5zM1240.6 239.5h6.5v6.5h-6.5zM1255.7 241.4h6.5v6.5h-6.5z" stroke="#000" stroke-width="1.15" stroke-linejoin="miter"/>
<path d="M934.9 14.2L934.9 15.2L934.9 16.2L934.9 17.2L934.9 18.2L934.9 19.2L934.9 20.2L934.9 21.2L934.9 22.2L934.9 23.2L934.9 24.2L934.9 25.2L934.9 26.2L934.9 27.2L934.9 28.2L934.9 29.2L934.9 30.2L934.9 31.2L934.9 32.2L934.9 33.2L934.9 34.2L934.9 35.2L934.9 36.2L934.9 37.2L934.9 38.2L934.9 39.2L934.9 40.2L934.9 41.2L934.9 42.2L934.9 43.2L934.9 44.2L934.9 45.2L934.9 46.2L934.9 47.2L934.9 48.2L934.9 49.2L934.9 50.2L934.9 51.2L934.9 52.2L934.9 53.2L934.9 54.2L934.9 55.2L934.9 56.2L934.9 57.2L934.9 58.2L934.9 59.2L934.9 60.2L934.9 61.2L934.9 62.2L934.9 63.2L934.9 64.2L934.9 65.2L934.9 66.2L934.9 67.2L934.9 68.2L934.9 69.2L934.9 70.2L934.9 71.2L934.9 72.2L934.9 73.2L934.9 74.2L934.9 75.2L934.9 76.2L934.9 77.2L934.9 78.2L934.9 79.2L934.9 80.2L934.9 81.2L934.9 82.2L934.9 83.2L934.9 84.2L934.9 85.2L934.9 86.2L934.9 87.2L934.9 88.2L934.9 89.2L934.9 90.2L934.9 91.2L934.9 92.2L934.9 93.2L934.9 94.2L934.9 95.2L934.9 96.2L934.9 97.2L934.9 98.2L934.9 99.2L934.9 100.2L934.9 101.2L934.9 102.2L934.9 103.2L935 104.2L935 105.2L935 106.2L935 107.2L935 108.2L935 109.2L935 110.2L935 111.2L935 112.2L935 113.2L935 114.2L935 115.2L935 116.2L935 117.2L935.1 118.2L935.1 119.2L935.1 120.2L935.1 121.2L935.1 122.2L935.1 123.2L935.1 124.2L935.1 125.2L935.1 126.2L935.1 127.2L935.1 128.2L935.2 129.2L935.2 130.2L935.2 131.2L935.2 132.2L935.2 133.2L935.2 134.2L935.2 135.2L935.3 136.2L935.3 137.2L935.3 138.2L935.3 139.2L935.3 140.2L935.4 141.2L935.4 142.2L935.4 143.2L935.5 144.2L935.5 145.2L935.6 146.2L935.7 147.2L935.8 148.2L935.9 149.2L936 150.2L936.1 151.2L936.2 152.2L936.4 153.2L936.5 154.2L936.6 155.1L936.8 156.1L936.9 157.1L937.1 158.1L937.3 159.1L937.5 160.1L937.7 161.1L937.9 162.1L938.1 163L938.4 164L938.6 165L938.9 165.9L939.2 166.9L939.5 167.8L939.8 168.7L940.2 169.7L940.6 170.6L941 171.5L941.5 172.4L942 173.3L942.5 174.2L943 175L943.4 175.9L943.9 176.8L944.5 177.6L945 178.5L945.5 179.3L946.1 180.2L946.7 181L947.3 181.8L947.9 182.6L948.5 183.3L949.2 184.1L949.9 184.8L950.6 185.4L951.4 186.1L952.1 186.8L952.9 187.4L953.7 188.1L954.5 188.7L955.3 189.3L956.1 189.9L956.9 190.5L957.7 191L958.5 191.6L959.4 192.1L960.2 192.7L961.1 193.2L961.9 193.7L962.8 194.2L963.7 194.7L964.5 195.2L965.4 195.6L966.3 196.1L967.2 196.6L968.1 197L969 197.4L969.9 197.9L970.8 198.3L971.7 198.7L972.7 199.1L973.6 199.5L974.5 199.9L975.4 200.2L976.4 200.6L977.3 201L978.2 201.3L979.2 201.6L980.1 202L981.1 202.3L982 202.6L983 203L983.9 203.3L984.9 203.6L985.8 203.9L986.8 204.2L987.7 204.5L988.7 204.8L989.6 205.1L990.6 205.4L991.5 205.7L992.5 206L993.5 206.2L994.4 206.5L995.4 206.8L996.4 207L997.3 207.2L998.3 207.5L999.3 207.7L1000.2 208L1001.2 208.2L1002.2 208.4L1003.2 208.7L1004.1 208.9L1005.1 209.1L1006.1 209.4L1007 209.6L1008 209.9L1009 210.2L1009.9 210.4L1010.9 210.7L1011.9 211L1012.8 211.2L1013.8 211.5L1014.8 211.8L1015.7 212L1016.7 212.3L1017.6 212.6L1018.6 212.9L1019.6 213.1L1020.5 213.4L1021.5 213.6L1022.5 213.9L1023.4 214.1L1024.4 214.4L1025.4 214.6L1026.4 214.8L1027.3 215L1028.3 215.3L1029.3 215.5L1030.3 215.7L1031.2 215.9L1032.2 216.1L1033.2 216.3L1034.2 216.5L1035.1 216.7L1036.1 216.9L1037.1 217.1L1038.1 217.3L1039.1 217.5L1040.1 217.7L1041 217.9L1042 218L1043 218.2L1044 218.4L1045 218.6L1046 218.8L1046.9 219L1047.9 219.2L1048.9 219.3L1049.9 219.5L1050.9 219.7L1051.9 219.9L1052.8 220.1L1053.8 220.3L1054.8 220.5L1055.8 220.6L1056.8 220.8L1057.8 221L1058.7 221.2L1059.7 221.4L1060.7 221.6L1061.7 221.7L1062.7 221.9L1063.7 222.1L1064.6 222.3L1065.6 222.4L1066.6 222.6L1067.6 222.8L1068.6 223L1069.6 223.1L1070.5 223.3L1071.5 223.5L1072.5 223.6L1073.5 223.8L1074.5 224L1075.5 224.1L1076.5 224.3L1077.4 224.5L1078.4 224.6L1079.4 224.8L1080.4 224.9L1081.4 225.1L1082.4 225.2L1083.4 225.4L1084.4 225.5L1085.4 225.7L1086.3 225.8L1087.3 226L1088.3 226.1L1089.3 226.2L1090.3 226.4L1091.3 226.5L1092.3 226.7L1093.3 226.8L1094.3 227L1095.3 227.1L1096.2 227.3L1097.2 227.4L1098.2 227.5L1099.2 227.7L1100.2 227.8L1101.2 228L1102.2 228.2L1103.2 228.3L1104.2 228.5L1105.1 228.6L1106.1 228.8L1107.1 228.9L1108.1 229.1L1109.1 229.2L1110.1 229.4L1111.1 229.6L1112.1 229.7L1113 229.9L1114 230L1115 230.2L1116 230.4L1117 230.5L1118 230.7L1119 230.8L1119.9 231L1120.9 231.2L1121.9 231.3L1122.9 231.5L1123.9 231.6L1124.9 231.8L1125.9 232L1126.9 232.1L1127.8 232.3L1128.8 232.4L1129.8 232.6L1130.8 232.8L1131.8 232.9L1132.8 233.1L1133.8 233.2L1134.8 233.4L1135.7 233.6L1136.7 233.7L1137.7 233.9L1138.7 234L1139.7 234.2L1140.7 234.3L1141.7 234.5L1142.7 234.6L1143.6 234.8L1144.6 234.9L1145.6 235.1L1146.6 235.3L1147.6 235.4L1148.6 235.6L1149.6 235.7L1150.6 235.9L1151.6 236L1152.5 236.2L1153.5 236.3L1154.5 236.5L1155.5 236.6L1156.5 236.8L1157.5 236.9L1158.5 237.1L1159.5 237.2L1160.4 237.4L1161.4 237.5L1162.4 237.7L1163.4 237.9L1164.4 238L1165.4 238.1L1166.4 238.3L1167.4 238.4L1168.4 238.6L1169.3 238.7L1170.3 238.9L1171.3 239L1172.3 239.2L1173.3 239.3L1174.3 239.5L1175.3 239.6L1176.3 239.7L1177.3 239.9L1178.3 240L1179.2 240.2L1180.2 240.3L1181.2 240.4L1182.2 240.6L1183.2 240.7L1184.2 240.8L1185.2 241L1186.2 241.1L1187.2 241.2L1188.2 241.4L1189.2 241.5L1190.1 241.6L1191.1 241.8L1192.1 241.9L1193.1 242L1194.1 242.2L1195.1 242.3L1196.1 242.4L1197.1 242.5L1198.1 242.7L1199.1 242.8L1200.1 242.9L1201.1 243L1202 243.2L1203 243.3L1204 243.4L1205 243.5L1206 243.7L1207 243.8L1208 243.9L1209 244L1210 244.1L1211 244.2L1212 244.4L1213 244.5L1214 244.6L1215 244.7L1216 244.8L1216.9 244.9L1217.9 245L1218.9 245.2L1219.9 245.3L1220.9 245.4L1221.9 245.5L1222.9 245.6L1223.9 245.7L1224.9 245.8L1225.9 245.9L1226.9 246L1227.9 246.1L1228.9 246.2L1229.9 246.3L1230.9 246.4L1231.9 246.5L1232.9 246.6L1233.8 246.7L1234.8 246.8L1235.8 246.9L1236.8 247L1237.8 247.1L1238.8 247.2L1239.8 247.3L1240.8 247.4L1241.8 247.5L1242.8 247.6L1243.8 247.7L1244.8 247.8L1245.8 247.9L1246.8 248L1247.8 248.1L1248.8 248.2L1249.8 248.3L1250.8 248.4L1251.8 248.5L1252.8 248.6L1253.8 248.7L1254.8 248.7L1255.7 248.8L1256.7 248.9L1257.7 249L1258.7 249.1L1259.7 249.2L1260.7 249.3L1261.7 249.4L1262.7 249.5L1263.7 249.6L1264.7 249.7L1265.7 249.8L1266.7 249.9L1267.7 250L1268.7 250.1L1269.7 250.2L1270.3 250.3" stroke="#f00" stroke-width="1.5" stroke-linejoin="round"/>
<path d="M937.4 10.1l3.2 6.5h-6.5zM937.4 13.8l3.2 6.5h-6.5zM937.4 17.5l3.2 6.5h-6.5zM937.4 21.2l3.2 6.5h-6.5zM937.4 24.9l3.2 6.5h-6.5zM937.4 28.6l3.2 6.5h-6.5zM937.4 32.3l3.2 6.5h-6.5zM937.4 36l3.2 6.5h-6.5zM937.4 39.7l3.2 6.5h-6.5zM937.4 43.4l3.2 6.5h-6.5zM937.4 47.1l3.2 6.5h-6.5zM937.4 50.8l3.2 6.5h-6.5zM937.4 54.5l3.2 6.5h-6.5zM937.4 58.2l3.2 6.5h-6.5zM937.4 61.9l3.2 6.5h-6.5zM937.4 65.6l3.2 6.5h-6.5zM937.4 69.3l3.2 6.5h-6.5zM937.4 73l3.2 6.5h-6.5zM937.4 76.7l3.2 6.5h-6.5zM937.4 80.4l3.2 6.5h-6.5zM937.4 84.1l3.2 6.5h-6.5zM937.4 87.8l3.2 6.5h-6.5zM937.5 91.5l3.2 6.5h-6.5zM937.6 95.2l3.2 6.5h-6.5zM937.8 98.9l3.2 6.5h-6.5zM938 102.6l3.2 6.5h-6.5zM938.2 106.3l3.2 6.5h-6.5zM938.4 110l3.2 6.5h-6.5zM938.6 113.7l3.2 6.5h-6.5zM938.9 117.4l3.2 6.5h-6.5zM939.1 121.1l3.2 6.5h-6.5zM939.4 124.8l3.2 6.5h-6.5zM939.8 128.5l3.2 6.5h-6.5zM940.4 132.2l3.2 6.5h-6.5zM941.2 135.9l3.2 6.5h-6.5zM941.8 139.6l3.2 6.5h-6.5zM945.1 144.7l3.2 6.5h-6.5zM948.3 148.6l3.2 6.5h-6.5zM952.1 152.4l3.2 6.5h-6.5zM956 156.3l3.2 6.5h-6.5zM960.5 159.9l3.2 6.5h-6.5zM965.6 163.7l3.2 6.5h-6.5zM970.9 166.1l3.2 6.5h-6.5zM978.4 170.3l3.2 6.5h-6.5zM987.8 174.5l3.2 6.5h-6.5zM997.1 178.5l3.2 6.5h-6.5zM1009.5 181.5l3.2 6.5h-6.5zM1021.5 185.8l3.2 6.5h-6.5zM1034 189l3.2 6.5h-6.5zM1047.7 193.2l3.2 6.5h-6.5zM1060.7 196.5l3.2 6.5h-6.5zM1074.4 200.7l3.2 6.5h-6.5zM1088.8 204l3.2 6.5h-6.5zM1103.1 208.4l3.2 6.5h-6.5zM1115.1 211.7l3.2 6.5h-6.5zM1126 215.7l3.2 6.5h-6.5zM1135.9 219.5l3.2 6.5h-6.5zM1144.2 223.3l3.2 6.5h-6.5zM1151 227.4l3.2 6.5h-6.5zM1154.7 230.5l3.2 6.5h-6.5zM1157.8 234.2l3.2 6.5h-6.5zM1158.5 237.2l3.2 6.5h-6.5zM1157.8 239.5l3.2 6.5h-6.5zM1155.1 242.5l3.2 6.5h-6.5zM1148.3 244.4l3.2 6.5h-6.5z" stroke="#000" stroke-width="1.15" stroke-linejoin="miter"/>
<path d="M934.9 14.2L934.9 15.2L934.9 16.2L934.9 17.2L934.9 18.2L934.9 19.2L934.9 20.2L934.9 21.2L934.9 22.2L934.9 23.2L934.9 24.2L934.9 25.2L934.9 26.2L934.9 27.2L934.9 28.2L934.9 29.2L934.9 30.2L934.9 31.2L934.9 32.2L934.9 33.2L934.9 34.2L934.9 35.2L934.9 36.2L934.9 37.2L934.9 38.2L934.9 39.2L934.9 40.2L934.9 41.2L934.9 42.2L934.9 43.2L934.9 44.2L934.9 45.2L934.9 46.2L934.9 47.2L934.9 48.2L934.9 49.2L934.9 50.2L934.9 51.2L934.9 52.2L934.9 53.2L934.9 54.2L934.9 55.2L934.9 56.2L934.9 57.2L934.9 58.2L934.9 59.2L934.9 60.2L934.9 61.2L934.9 62.2L934.9 63.2L934.9 64.2L934.9 65.2L934.9 66.2L934.9 67.2L934.9 68.2L934.9 69.2L934.9 70.2L934.9 71.2L934.9 72.2L934.9 73.2L934.9 74.2L934.9 75.2L934.9 76.2L934.9 77.2L934.9 78.2L934.9 79.2L934.9 80.2L934.9 81.2L935 82.2L935 83.2L935 84.2L935.1 85.2L935.1 86.2L935.1 87.2L935.2 88.2L935.2 89.2L935.2 90.2L935.3 91.2L935.3 92.2L935.4 93.2L935.4 94.3L935.5 95.3L935.5 96.3L935.6 97.3L935.7 98.3L935.7 99.3L935.8 100.3L935.9 101.3L935.9 102.3L936 103.3L936.1 104.3L936.1 105.3L936.2 106.3L936.3 107.3L936.4 108.3L936.5 109.3L936.6 110.3L936.6 111.3L936.7 112.3L936.8 113.3L936.9 114.3L937 115.3L937.1 116.2L937.2 117.2L937.3 118.2L937.4 119.2L937.5 120.2L937.6 121.2L937.7 122.2L937.8 123.2L937.9 124.2L938.1 125.2L938.2 126.1L938.3 127.1L938.4 128.1L938.5 129.1L938.6 130.1L938.8 131.1L939 132L939.2 133L939.4 134L939.7 135L940 135.9L940.3 136.9L940.6 137.8L940.9 138.8L941.3 139.7L941.7 140.6L942.2 141.5L942.7 142.4L943.1 143.3L943.6 144.2L944.2 145L944.7 145.8L945.2 146.7L945.8 147.5L946.4 148.3L947.1 149.1L947.7 149.8L948.4 150.6L949.1 151.3L949.7 152L950.4 152.8L951.2 153.5L951.9 154.2L952.6 154.8L953.4 155.5L954.1 156.1L954.9 156.8L955.7 157.4L956.5 158L957.3 158.6L958.1 159.2L958.9 159.8L959.8 160.3L960.6 160.9L961.4 161.4L962.3 161.9L963.2 162.4L964 163L964.9 163.4L965.7 163.9L966.6 164.4L967.5 164.9L968.4 165.4L969.3 165.8L970.2 166.3L971.1 166.7L972 167.2L972.9 167.6L973.8 168L974.7 168.5L975.6 168.9L976.5 169.3L977.4 169.7L978.3 170.1L979.2 170.5L980.1 170.9L981.1 171.3L982 171.7L982.9 172.1L983.8 172.5L984.7 172.9L985.7 173.3L986.6 173.6L987.5 174L988.4 174.4L989.4 174.8L990.3 175.1L991.2 175.5L992.2 175.8L993.1 176.2L994 176.5L995 176.9L995.9 177.2L996.9 177.6L997.8 177.9L998.8 178.2L999.7 178.6L1000.6 178.9L1001.6 179.2L1002.5 179.5L1003.5 179.9L1004.4 180.2L1005.4 180.5L1006.3 180.8L1007.3 181.1L1008.2 181.5L1009.2 181.8L1010.1 182.1L1011.1 182.4L1012 182.8L1013 183.1L1013.9 183.4L1014.8 183.7L1015.8 184.1L1016.7 184.4L1017.7 184.7L1018.6 185L1019.6 185.3L1020.5 185.6L1021.5 185.9L1022.4 186.2L1023.4 186.5L1024.4 186.8L1025.3 187.1L1026.3 187.4L1027.2 187.7L1028.2 188L1029.1 188.3L1030.1 188.5L1031.1 188.8L1032 189.1L1033 189.4L1033.9 189.6L1034.9 189.9L1035.9 190.2L1036.8 190.4L1037.8 190.7L1038.8 191L1039.7 191.2L1040.7 191.5L1041.7 191.8L1042.6 192L1043.6 192.3L1044.6 192.5L1045.5 192.8L1046.5 193.1L1047.5 193.3L1048.4 193.6L1049.4 193.8L1050.4 194.1L1051.3 194.4L1052.3 194.6L1053.2 194.9L1054.2 195.2L1055.2 195.4L1056.1 195.7L1057.1 195.9L1058.1 196.2L1059 196.5L1060 196.7L1061 197L1061.9 197.3L1062.9 197.5L1063.9 197.8L1064.8 198L1065.8 198.3L1066.8 198.5L1067.7 198.8L1068.7 199.1L1069.7 199.3L1070.6 199.6L1071.6 199.8L1072.6 200.1L1073.5 200.4L1074.5 200.6L1075.5 200.9L1076.4 201.1L1077.4 201.4L1078.4 201.6L1079.3 201.9L1080.3 202.1L1081.3 202.4L1082.2 202.6L1083.2 202.9L1084.2 203.1L1085.1 203.4L1086.1 203.6L1087.1 203.9L1088.1 204.1L1089 204.4L1090 204.6L1091 204.9L1091.9 205.1L1092.9 205.4L1093.9 205.6L1094.8 205.9L1095.8 206.1L1096.8 206.4L1097.7 206.6L1098.7 206.9L1099.7 207.1L1100.6 207.4L1101.6 207.7L1102.6 207.9L1103.5 208.2L1104.5 208.5L1105.4 208.7L1106.4 209L1107.4 209.3L1108.3 209.5L1109.3 209.8L1110.3 210.1L1111.2 210.4L1112.2 210.6L1113.1 210.9L1114.1 211.2L1115.1 211.5L1116 211.8L1117 212.1L1117.9 212.4L1118.9 212.7L1119.8 212.9L1120.8 213.3L1121.7 213.6L1122.7 213.9L1123.6 214.2L1124.6 214.5L1125.5 214.8L1126.5 215.2L1127.4 215.5L1128.4 215.9L1129.3 216.2L1130.2 216.6L1131.1 217L1132.1 217.3L1133 217.7L1133.9 218.1L1134.8 218.5L1135.8 218.9L1136.7 219.3L1137.6 219.7L1138.5 220.1L1139.4 220.5L1140.3 220.9L1141.2 221.3L1142.1 221.8L1143.1 222.2L1144 222.6L1144.9 223L1145.8 223.5L1146.7 223.9L1147.6 224.4L1148.4 224.8L1149.3 225.3L1150.2 225.8L1151.1 226.3L1152 226.8L1152.8 227.3L1153.5 227.9L1154.2 228.7L1154.8 229.5L1155.3 230.4L1155.8 231.2L1156.3 232.1L1156.8 233L1157.1 234L1157.3 234.9L1157.4 235.9L1157.1 236.9L1156.8 237.9L1156.4 238.8L1155.9 239.6L1155.3 240.5L1154.7 241.3L1154.1 242L1153.4 242.8L1152.6 243.4L1151.9 244.1L1151.1 244.8L1150.4 245.4L1149.6 246L1148.8 246.7L1148 247.3L1147.2 247.8L1146.4 248.4L1145.5 249L1144.7 249.5L1143.9 250L1143.8 250.1" stroke="#00f" stroke-width="1.5" stroke-linejoin="round"/>
</g>
<rect x="934.4" y="15.2" width="363.2" height="235.2" fill="none" stroke="#404040" stroke-width="0.85"/>
<path d="M934.4 250.4v3.6M1007 250.4v3.6M1079.7 250.4v3.6M1152.3 250.4v3.6M1225 250.4v3.6M1297.6 250.4v3.6M934.4 250.4h-3.5M934.4 203.4h-3.5M934.4 109.3h-3.5M934.4 15.2h-3.5" stroke="#333" stroke-width="0.8" fill="none"/>
<g class="tk">
<text x="934.4" y="270.6" text-anchor="middle">0</text>
<text x="1007" y="270.6" text-anchor="middle">0.2</text>
<text x="1079.7" y="270.6" text-anchor="middle">0.4</text>
<text x="1152.3" y="270.6" text-anchor="middle">0.6</text>
<text x="1225" y="270.6" text-anchor="middle">0.8</text>
<text x="1297.6" y="270.6" text-anchor="middle">1</text>
<text x="926.8" y="256.7" text-anchor="end">0.5</text>
<text x="926.8" y="209.7" text-anchor="end">0.6</text>
<text x="926.8" y="115.6" text-anchor="end">0.8</text>
<text x="926.8" y="21.5" text-anchor="end">1</text>
</g>
<text class="lab" x="1105.8" y="292.3">T</text><text class="ast" x="1126.2" y="282.7" text-anchor="middle">∗</text>
<text class="lab sub" x="1113.8" y="313.6" text-anchor="middle">(c)</text>
<text class="lab yl" transform="translate(890.6 133.5) rotate(-90)" text-anchor="middle">y</text>
<rect x="1070.1" y="20.6" width="86" height="29.1" fill="#fff" stroke="#222" stroke-width="1"/>
<text class="ttl" x="1113.1" y="39.6" text-anchor="middle">Airplane</text>
<rect x="1163.7" y="22.2" width="127.6" height="113.9" rx="2.5" fill="#fff" fill-opacity="0.8" stroke="#d0d0d0" stroke-width="1"/>
<path d="M1178.5 31.6a3.2 3.2 0 1 0 6.5 0a3.2 3.2 0 1 0 -6.5 0M1178.5 65.1h6.5v6.5h-6.5zM1181.7 101.8l3.2 6.5h-6.5z" stroke="#000" stroke-width="1.15" fill="none"/>
<path d="M1168 50h26.9" stroke="#000" stroke-width="1.5"/>
<path d="M1168 86.7h26.9" stroke="#f00" stroke-width="1.5"/>
<path d="M1168 123.5h26.9" stroke="#00f" stroke-width="1.5"/>
<g class="lg">
<text x="1205.7" y="35.9">x1=0.35;CNNs</text>
<text x="1205.7" y="54.3">x1=0.35;CFD</text>
<text x="1205.7" y="72.6">x2=0.5;CNNs</text>
<text x="1205.7" y="91">x2=0.5;CFD</text>
<text x="1205.7" y="109.4">x3=0.65;CNNs</text>
<text x="1205.7" y="127.8">x3=0.65;CFD</text>
</g>
<clipPath id="cld"><rect x="65.9" y="344.9" width="363.6" height="235.2"/></clipPath>
<g clip-path="url(#cld)" fill="none">
<path d="M64.2 344.5a3.2 3.2 0 1 0 6.5 0a3.2 3.2 0 1 0 -6.5 0M64.2 346.6a3.2 3.2 0 1 0 6.5 0a3.2 3.2 0 1 0 -6.5 0M64.2 348.8a3.2 3.2 0 1 0 6.5 0a3.2 3.2 0 1 0 -6.5 0M64.2 351.2a3.2 3.2 0 1 0 6.5 0a3.2 3.2 0 1 0 -6.5 0M64.2 353.7a3.2 3.2 0 1 0 6.5 0a3.2 3.2 0 1 0 -6.5 0M64.2 356.4a3.2 3.2 0 1 0 6.5 0a3.2 3.2 0 1 0 -6.5 0M64.2 359.3a3.2 3.2 0 1 0 6.5 0a3.2 3.2 0 1 0 -6.5 0M64.2 362.3a3.2 3.2 0 1 0 6.5 0a3.2 3.2 0 1 0 -6.5 0M64.2 365.6a3.2 3.2 0 1 0 6.5 0a3.2 3.2 0 1 0 -6.5 0M64.2 369a3.2 3.2 0 1 0 6.5 0a3.2 3.2 0 1 0 -6.5 0M64.2 372.7a3.2 3.2 0 1 0 6.5 0a3.2 3.2 0 1 0 -6.5 0M64.2 376.6a3.2 3.2 0 1 0 6.5 0a3.2 3.2 0 1 0 -6.5 0M64.2 380.8a3.2 3.2 0 1 0 6.5 0a3.2 3.2 0 1 0 -6.5 0M64.2 385.2a3.2 3.2 0 1 0 6.5 0a3.2 3.2 0 1 0 -6.5 0M64.2 389.9a3.2 3.2 0 1 0 6.5 0a3.2 3.2 0 1 0 -6.5 0M64.2 394.9a3.2 3.2 0 1 0 6.5 0a3.2 3.2 0 1 0 -6.5 0M64.2 400.2a3.2 3.2 0 1 0 6.5 0a3.2 3.2 0 1 0 -6.5 0M64.2 405.8a3.2 3.2 0 1 0 6.5 0a3.2 3.2 0 1 0 -6.5 0M64.2 411.9a3.2 3.2 0 1 0 6.5 0a3.2 3.2 0 1 0 -6.5 0M64.2 418.3a3.2 3.2 0 1 0 6.5 0a3.2 3.2 0 1 0 -6.5 0M64.2 425.1a3.2 3.2 0 1 0 6.5 0a3.2 3.2 0 1 0 -6.5 0M64.2 432.3a3.2 3.2 0 1 0 6.5 0a3.2 3.2 0 1 0 -6.5 0M64.2 439.8a3.2 3.2 0 1 0 6.5 0a3.2 3.2 0 1 0 -6.5 0M64.2 447.3a3.2 3.2 0 1 0 6.5 0a3.2 3.2 0 1 0 -6.5 0M64.2 454.8a3.2 3.2 0 1 0 6.5 0a3.2 3.2 0 1 0 -6.5 0M64.2 462.3a3.2 3.2 0 1 0 6.5 0a3.2 3.2 0 1 0 -6.5 0M64.2 469.8a3.2 3.2 0 1 0 6.5 0a3.2 3.2 0 1 0 -6.5 0M64.2 477.3a3.2 3.2 0 1 0 6.5 0a3.2 3.2 0 1 0 -6.5 0M64.2 484.8a3.2 3.2 0 1 0 6.5 0a3.2 3.2 0 1 0 -6.5 0M65.2 492.3a3.2 3.2 0 1 0 6.5 0a3.2 3.2 0 1 0 -6.5 0M65.2 499.8a3.2 3.2 0 1 0 6.5 0a3.2 3.2 0 1 0 -6.5 0M66 507.3a3.2 3.2 0 1 0 6.5 0a3.2 3.2 0 1 0 -6.5 0M66 514.8a3.2 3.2 0 1 0 6.5 0a3.2 3.2 0 1 0 -6.5 0M68.5 521.7a3.2 3.2 0 1 0 6.5 0a3.2 3.2 0 1 0 -6.5 0M71 529.2a3.2 3.2 0 1 0 6.5 0a3.2 3.2 0 1 0 -6.5 0M77.2 536.7a3.2 3.2 0 1 0 6.5 0a3.2 3.2 0 1 0 -6.5 0M79.7 540.9a3.2 3.2 0 1 0 6.5 0a3.2 3.2 0 1 0 -6.5 0M82.2 542.7a3.2 3.2 0 1 0 6.5 0a3.2 3.2 0 1 0 -6.5 0M85.9 544.2a3.2 3.2 0 1 0 6.5 0a3.2 3.2 0 1 0 -6.5 0M88.4 546.7a3.2 3.2 0 1 0 6.5 0a3.2 3.2 0 1 0 -6.5 0M91.7 548.4a3.2 3.2 0 1 0 6.5 0a3.2 3.2 0 1 0 -6.5 0M94.7 549.7a3.2 3.2 0 1 0 6.5 0a3.2 3.2 0 1 0 -6.5 0M98.4 550.9a3.2 3.2 0 1 0 6.5 0a3.2 3.2 0 1 0 -6.5 0M102.1 553.4a3.2 3.2 0 1 0 6.5 0a3.2 3.2 0 1 0 -6.5 0M107.1 555.4a3.2 3.2 0 1 0 6.5 0a3.2 3.2 0 1 0 -6.5 0M112.6 557.2a3.2 3.2 0 1 0 6.5 0a3.2 3.2 0 1 0 -6.5 0M120.1 559.2a3.2 3.2 0 1 0 6.5 0a3.2 3.2 0 1 0 -6.5 0M127.1 561.4a3.2 3.2 0 1 0 6.5 0a3.2 3.2 0 1 0 -6.5 0M134.1 563.4a3.2 3.2 0 1 0 6.5 0a3.2 3.2 0 1 0 -6.5 0M141.5 564.6a3.2 3.2 0 1 0 6.5 0a3.2 3.2 0 1 0 -6.5 0M150.8 567.1a3.2 3.2 0 1 0 6.5 0a3.2 3.2 0 1 0 -6.5 0M162 569.1a3.2 3.2 0 1 0 6.5 0a3.2 3.2 0 1 0 -6.5 0M175.2 570.9a3.2 3.2 0 1 0 6.5 0a3.2 3.2 0 1 0 -6.5 0M188.2 572.6a3.2 3.2 0 1 0 6.5 0a3.2 3.2 0 1 0 -6.5 0M206.1 574.6a3.2 3.2 0 1 0 6.5 0a3.2 3.2 0 1 0 -6.5 0M227.3 576.6a3.2 3.2 0 1 0 6.5 0a3.2 3.2 0 1 0 -6.5 0M250.5 577.6a3.2 3.2 0 1 0 6.5 0a3.2 3.2 0 1 0 -6.5 0M283.5 580.3a3.2 3.2 0 1 0 6.5 0a3.2 3.2 0 1 0 -6.5 0M312.2 581.1a3.2 3.2 0 1 0 6.5 0a3.2 3.2 0 1 0 -6.5 0" stroke="#000" stroke-width="1.15" stroke-linejoin="miter"/>
<path d="M66.8 343.9L66.8 344.9L66.8 345.9L66.8 346.9L66.8 347.9L66.8 348.9L66.8 349.9L66.8 350.9L66.8 351.9L66.8 352.9L66.8 353.9L66.8 354.9L66.8 355.9L66.8 356.9L66.8 357.9L66.8 358.9L66.8 359.9L66.8 360.9L66.8 361.9L66.8 362.9L66.8 363.9L66.8 364.9L66.8 365.9L66.8 366.9L66.8 367.9L66.8 368.9L66.8 369.9L66.8 370.9L66.8 371.9L66.8 372.9L66.8 373.9L66.8 374.9L66.8 375.9L66.8 376.9L66.8 377.9L66.8 378.9L66.8 379.9L66.8 380.9L66.8 381.9L66.8 382.9L66.8 383.9L66.8 384.9L66.8 385.9L66.8 386.9L66.8 387.9L66.8 388.9L66.8 389.9L66.8 390.9L66.8 391.9L66.8 392.9L66.8 393.9L66.8 394.9L66.8 395.9L66.8 396.9L66.8 397.9L66.8 398.9L66.8 399.9L66.8 400.9L66.8 401.9L66.8 402.9L66.8 403.9L66.8 404.9L66.8 405.9L66.8 406.9L66.8 407.9L66.8 408.9L66.8 409.9L66.8 410.9L66.8 411.9L66.8 412.9L66.8 413.9L66.8 414.9L66.8 415.9L66.8 416.9L66.8 417.9L66.8 418.9L66.9 419.9L66.9 420.9L66.9 421.9L66.9 422.9L66.9 423.9L66.9 424.9L66.9 425.9L66.9 426.9L66.9 427.9L66.9 428.9L66.9 429.9L66.9 430.9L66.9 431.9L66.9 432.9L66.9 433.9L66.9 434.9L66.9 435.9L66.9 436.9L66.9 437.9L66.9 438.9L66.9 439.9L66.9 440.9L66.9 441.9L67 442.9L67 443.9L67 444.9L67 445.9L67 446.9L67 447.9L67 448.9L67 449.9L67 450.9L67 451.9L67 452.9L67 453.9L67 454.9L67 455.9L67 456.9L67 457.9L67 458.9L67 459.9L67 460.9L67 461.9L67.1 462.9L67.1 463.9L67.1 464.9L67.1 465.9L67.1 466.9L67.1 467.9L67.1 468.9L67.1 469.9L67.1 470.9L67.1 471.9L67.1 472.9L67.1 473.9L67.1 474.9L67.1 475.9L67.1 476.9L67.2 477.9L67.2 478.9L67.2 479.9L67.2 480.9L67.2 481.9L67.2 482.9L67.2 483.9L67.2 484.9L67.2 485.9L67.2 486.9L67.2 487.9L67.2 488.9L67.3 489.9L67.3 490.9L67.3 491.9L67.3 492.9L67.3 493.9L67.3 494.9L67.3 495.9L67.4 496.9L67.4 497.9L67.4 498.9L67.4 499.9L67.5 500.9L67.5 501.9L67.6 502.9L67.7 503.9L67.8 504.9L67.9 505.9L68.1 506.9L68.2 507.9L68.3 508.9L68.4 509.8L68.6 510.8L68.7 511.8L68.8 512.8L69 513.8L69.1 514.8L69.3 515.8L69.4 516.8L69.6 517.8L69.8 518.7L70 519.7L70.3 520.7L70.5 521.7L70.8 522.6L71.1 523.6L71.4 524.6L71.7 525.5L72 526.4L72.4 527.4L72.8 528.3L73.2 529.2L73.6 530.1L74.1 531L74.6 531.9L75.1 532.7L75.6 533.6L76.2 534.4L76.7 535.3L77.3 536.1L77.9 536.9L78.5 537.7L79.2 538.4L79.9 539.2L80.6 539.8L81.3 540.5L82.1 541.1L82.9 541.7L83.8 542.3L84.6 542.8L85.4 543.4L86.2 544L87.1 544.5L87.9 545.1L88.7 545.6L89.6 546.2L90.4 546.7L91.3 547.2L92.2 547.7L93 548.2L93.9 548.6L94.8 549.1L95.7 549.5L96.6 549.9L97.5 550.4L98.4 550.8L99.3 551.3L100.2 551.7L101.1 552.2L102 552.7L102.9 553.1L103.8 553.6L104.7 554L105.6 554.4L106.5 554.8L107.4 555.2L108.4 555.5L109.3 555.9L110.3 556.2L111.2 556.5L112.1 556.9L113.1 557.2L114 557.5L115 557.8L115.9 558.1L116.9 558.4L117.9 558.7L118.8 559L119.8 559.3L120.7 559.5L121.7 559.8L122.7 560.1L123.6 560.4L124.6 560.6L125.5 560.9L126.5 561.1L127.5 561.4L128.5 561.7L129.4 561.9L130.4 562.2L131.4 562.4L132.3 562.6L133.3 562.9L134.3 563.1L135.2 563.3L136.2 563.6L137.2 563.8L138.2 564L139.1 564.2L140.1 564.5L141.1 564.7L142.1 564.9L143 565.1L144 565.3L145 565.5L146 565.7L147 565.9L147.9 566.1L148.9 566.3L149.9 566.5L150.9 566.7L151.9 566.9L152.9 567L153.8 567.2L154.8 567.4L155.8 567.6L156.8 567.8L157.8 567.9L158.8 568.1L159.8 568.3L160.7 568.4L161.7 568.6L162.7 568.8L163.7 568.9L164.7 569.1L165.7 569.2L166.7 569.4L167.6 569.6L168.6 569.7L169.6 569.9L170.6 570L171.6 570.2L172.6 570.3L173.6 570.4L174.6 570.6L175.6 570.7L176.6 570.9L177.5 571L178.5 571.1L179.5 571.3L180.5 571.4L181.5 571.5L182.5 571.6L183.5 571.8L184.5 571.9L185.5 572L186.5 572.1L187.5 572.2L188.5 572.3L189.5 572.4L190.5 572.5L191.5 572.6L192.5 572.7L193.4 572.8L194.4 572.9L195.4 573L196.4 573.1L197.4 573.2L198.4 573.3L199.4 573.4L200.4 573.6L201.4 573.7L202.4 573.9L203.4 574.1L204.3 574.2L205.3 574.4L206.3 574.6L207.3 574.7L208.3 574.9L209.3 575L210.3 575.1L211.3 575.2L212.3 575.4L213.3 575.4L214.2 575.5L215.2 575.6L216.2 575.7L217.2 575.8L218.2 575.9L219.2 576L220.2 576L221.2 576.1L222.2 576.2L223.2 576.3L224.2 576.3L225.2 576.4L226.2 576.5L227.2 576.6L228.2 576.7L229.2 576.8L230.2 576.9L231.2 577L232.2 577.1L233.2 577.2L234.2 577.3L235.2 577.4L236.2 577.5L237.2 577.6L238.2 577.7L239.2 577.8L240.1 577.9L241.1 578L242.1 578.1L243.1 578.3L244.1 578.4L245.1 578.5L246.1 578.6L247.1 578.8L248.1 578.9L249.1 579L250.1 579.1L251.1 579.2L252.1 579.3L253.1 579.4L254.1 579.5L255.1 579.6L256 579.7L257 579.8L258 579.9L259 580L260 580.2L261 580.3L262 580.4L262.4 580.5" stroke="#000" stroke-width="1.5" stroke-linejoin="round"/>
<path d="M64.2 339.8h6.5v6.5h-6.5zM64.2 341.9h6.5v6.5h-6.5zM64.2 344h6.5v6.5h-6.5zM64.2 346.3h6.5v6.5h-6.5zM64.2 348.7h6.5v6.5h-6.5zM64.2 351.3h6.5v6.5h-6.5zM64.2 354h6.5v6.5h-6.5zM64.2 356.9h6.5v6.5h-6.5zM64.2 360h6.5v6.5h-6.5zM64.2 363.3h6.5v6.5h-6.5zM64.2 366.8h6.5v6.5h-6.5zM64.2 370.6h6.5v6.5h-6.5zM64.2 374.6h6.5v6.5h-6.5zM64.2 378.8h6.5v6.5h-6.5zM64.2 383.3h6.5v6.5h-6.5zM64.2 388.1h6.5v6.5h-6.5zM64.2 393.2h6.5v6.5h-6.5zM64.2 398.6h6.5v6.5h-6.5zM64.2 404.3h6.5v6.5h-6.5zM64.2 410.5h6.5v6.5h-6.5zM64.2 417h6.5v6.5h-6.5zM64.2 423.9h6.5v6.5h-6.5zM64.2 431.3h6.5v6.5h-6.5zM64.2 438.8h6.5v6.5h-6.5zM64.2 446.3h6.5v6.5h-6.5zM64.2 453.8h6.5v6.5h-6.5zM64.4 461.3h6.5v6.5h-6.5zM65.5 468.8h6.5v6.5h-6.5zM67.4 476.3h6.5v6.5h-6.5zM74.4 488.5h6.5v6.5h-6.5zM82.8 495.6h6.5v6.5h-6.5zM94.7 503.5h6.5v6.5h-6.5zM104.6 507h6.5v6.5h-6.5zM112.1 509h6.5v6.5h-6.5zM117.8 511h6.5v6.5h-6.5zM124.1 512.8h6.5v6.5h-6.5zM130.8 514.5h6.5v6.5h-6.5zM137 516.5h6.5v6.5h-6.5zM143.8 518.5h6.5v6.5h-6.5zM150.8 520.2h6.5v6.5h-6.5zM158.2 522h6.5v6.5h-6.5zM171.5 524.5h6.5v6.5h-6.5zM183.7 526h6.5v6.5h-6.5zM194.4 527.7h6.5v6.5h-6.5zM208.6 529.7h6.5v6.5h-6.5zM223.8 531.5h6.5v6.5h-6.5zM238.9 533.2h6.5v6.5h-6.5zM255.5 535.1h6.5v6.5h-6.5zM273.8 537h6.5v6.5h-6.5zM291.4 538.9h6.5v6.5h-6.5zM308.8 540.8h6.5v6.5h-6.5zM326 542.7h6.5v6.5h-6.5zM349.4 544.6h6.5v6.5h-6.5zM366.6 546.5h6.5v6.5h-6.5zM391.1 548.7h6.5v6.5h-6.5zM410.4 550.2h6.5v6.5h-6.5z" stroke="#000" stroke-width="1.15" stroke-linejoin="miter"/>
<path d="M66.8 343.9L66.8 344.9L66.8 345.9L66.8 346.9L66.8 347.9L66.8 348.9L66.8 349.9L66.8 350.9L66.8 351.9L66.8 352.9L66.8 353.9L66.8 354.9L66.8 355.9L66.8 356.9L66.8 357.9L66.8 358.9L66.8 359.9L66.8 360.9L66.8 361.9L66.8 362.9L66.8 363.9L66.8 364.9L66.8 365.9L66.8 366.9L66.8 367.9L66.8 368.9L66.8 369.9L66.8 370.9L66.8 371.9L66.8 372.9L66.8 373.9L66.8 374.9L66.8 375.9L66.8 376.9L66.8 377.9L66.8 378.9L66.8 379.9L66.8 380.9L66.8 381.9L66.8 382.9L66.8 383.9L66.8 384.9L66.8 385.9L66.8 386.9L66.8 387.9L66.8 388.9L66.8 389.9L66.8 390.9L66.8 391.9L66.8 392.9L66.8 393.9L66.8 394.9L66.8 395.9L66.8 396.9L66.8 397.9L66.8 398.9L66.8 399.9L66.8 400.9L66.8 401.9L66.8 402.9L66.8 403.9L66.8 404.9L66.8 405.9L66.8 406.9L66.8 407.9L66.8 408.9L66.8 409.9L66.8 410.9L66.8 411.9L66.8 412.9L66.8 413.9L66.8 414.9L66.8 415.9L66.8 416.9L66.8 417.9L66.8 418.9L66.8 419.9L66.8 420.9L66.8 421.9L66.8 422.9L66.8 423.9L66.8 424.9L66.8 425.9L66.8 426.9L66.8 427.9L66.9 428.9L66.9 429.9L66.9 430.9L66.9 431.9L66.9 432.9L66.9 433.9L66.9 435L66.9 436L66.9 437L66.9 438L67 439L67 440L67 441L67 442L67 443L67 444L67 445L67.1 446L67.1 447L67.1 448L67.1 449L67.1 449.9L67.2 450.9L67.2 451.9L67.2 452.9L67.2 453.9L67.2 454.9L67.3 455.9L67.3 456.9L67.3 457.9L67.3 458.9L67.3 459.9L67.4 460.9L67.4 461.9L67.4 462.9L67.5 463.9L67.5 464.9L67.6 465.9L67.7 466.9L67.9 467.9L68 468.9L68.2 469.9L68.4 470.9L68.5 471.8L68.7 472.8L68.9 473.8L69.2 474.8L69.4 475.8L69.6 476.7L69.9 477.7L70.1 478.6L70.5 479.6L70.8 480.6L71.2 481.5L71.6 482.4L71.9 483.3L72.4 484.3L72.8 485.1L73.2 486L73.7 486.9L74.3 487.7L74.8 488.6L75.4 489.4L76 490.2L76.6 491L77.2 491.8L77.9 492.6L78.5 493.4L79.1 494.1L79.8 494.9L80.4 495.7L81.1 496.4L81.8 497.2L82.5 497.9L83.2 498.6L83.9 499.3L84.6 499.9L85.4 500.6L86.2 501.2L87 501.8L87.8 502.4L88.6 503L89.4 503.6L90.2 504.2L91.1 504.7L91.9 505.3L92.7 505.8L93.6 506.3L94.4 506.9L95.3 507.4L96.2 507.9L97 508.4L97.9 508.8L98.8 509.3L99.7 509.8L100.6 510.2L101.5 510.7L102.4 511.1L103.3 511.6L104.1 512L105.1 512.5L106 512.9L106.9 513.3L107.8 513.8L108.7 514.2L109.6 514.5L110.6 514.9L111.5 515.2L112.4 515.5L113.4 515.8L114.3 516.1L115.3 516.3L116.3 516.5L117.3 516.7L118.2 516.9L119.2 517.1L120.2 517.3L121.2 517.5L122.2 517.7L123.2 517.9L124.1 518.2L125.1 518.4L126.1 518.6L127.1 518.9L128 519.1L129 519.3L130 519.6L130.9 519.9L131.9 520.1L132.9 520.4L133.8 520.6L134.8 520.8L135.8 521.1L136.8 521.3L137.7 521.5L138.7 521.8L139.7 522L140.7 522.2L141.6 522.4L142.6 522.6L143.6 522.7L144.6 522.9L145.6 523.1L146.6 523.3L147.5 523.5L148.5 523.7L149.5 523.9L150.5 524.1L151.5 524.3L152.4 524.5L153.4 524.8L154.4 525L155.4 525.2L156.3 525.5L157.3 525.7L158.3 525.9L159.2 526.2L160.2 526.4L161.2 526.6L162.2 526.9L163.1 527.1L164.1 527.3L165.1 527.5L166.1 527.7L167.1 527.9L168 528L169 528.2L170 528.4L171 528.6L172 528.8L173 528.9L173.9 529.1L174.9 529.3L175.9 529.5L176.9 529.7L177.9 529.9L178.8 530.1L179.8 530.4L180.8 530.6L181.8 530.8L182.7 531L183.7 531.2L184.7 531.3L185.7 531.5L186.7 531.7L187.7 531.8L188.7 532L189.6 532.2L190.6 532.3L191.6 532.5L192.6 532.6L193.6 532.8L194.6 532.9L195.6 533.1L196.6 533.2L197.6 533.3L198.5 533.5L199.5 533.6L200.5 533.8L201.5 533.9L202.5 534L203.5 534.2L204.5 534.3L205.5 534.4L206.5 534.6L207.5 534.7L208.5 534.8L209.5 535L210.4 535.1L211.4 535.2L212.4 535.3L213.4 535.5L214.4 535.6L215.4 535.7L216.4 535.8L217.4 535.9L218.4 536.1L219.4 536.2L220.4 536.3L221.4 536.4L222.4 536.5L223.4 536.6L224.3 536.7L225.3 536.9L226.3 537L227.3 537.1L228.3 537.2L229.3 537.3L230.3 537.4L231.3 537.6L232.3 537.7L233.3 537.8L234.3 537.9L235.3 538L236.3 538.2L237.3 538.3L238.2 538.4L239.2 538.5L240.2 538.6L241.2 538.8L242.2 538.9L243.2 539L244.2 539.1L245.2 539.2L246.2 539.4L247.2 539.5L248.2 539.6L249.2 539.7L250.2 539.8L251.2 540L252.1 540.1L253.1 540.2L254.1 540.3L255.1 540.5L256.1 540.6L257.1 540.7L258.1 540.8L259.1 540.9L260.1 541.1L261.1 541.2L262.1 541.3L263.1 541.4L264.1 541.5L265.1 541.7L266 541.8L267 541.9L268 542L269 542.1L270 542.3L271 542.4L272 542.5L273 542.6L274 542.7L275 542.9L276 543L277 543.1L278 543.2L279 543.3L279.9 543.4L280.9 543.6L281.9 543.7L282.9 543.8L283.9 543.9L284.9 544L285.9 544.1L286.9 544.2L287.9 544.3L288.9 544.5L289.9 544.6L290.9 544.7L291.9 544.8L292.9 544.9L293.9 545L294.8 545.1L295.8 545.2L296.8 545.3L297.8 545.5L298.8 545.6L299.8 545.7L300.8 545.8L301.8 545.9L302.8 546L303.8 546.1L304.8 546.2L305.8 546.3L306.8 546.4L307.8 546.5L308.8 546.6L309.8 546.8L310.8 546.9L311.7 547L312.7 547.1L313.7 547.2L314.7 547.3L315.7 547.4L316.7 547.5L317.7 547.6L318.7 547.7L319.7 547.8L320.7 547.9L321.7 548L322.7 548.1L323.7 548.2L324.7 548.3L325.7 548.4L326.7 548.5L327.7 548.6L328.7 548.7L329.7 548.9L330.6 549L331.6 549.1L332.6 549.2L333.6 549.3L334.6 549.4L335.6 549.5L336.6 549.6L337.6 549.7L338.6 549.8L339.6 549.9L340.6 550L341.6 550.1L342.6 550.2L343.6 550.3L344.6 550.4L345.6 550.5L346.6 550.6L347.6 550.7L348.6 550.8L349.5 550.9L350.5 551L351.5 551.1L352.5 551.2L353.5 551.3L354.5 551.4L355.5 551.5L356.5 551.6L357.5 551.7L358.5 551.8L359.5 551.9L360.5 552L361.5 552.1L362.5 552.2L363.5 552.3L364.5 552.4L365.5 552.5L366.5 552.6L367.5 552.7L368.5 552.8L369.5 552.8L370.4 552.9L371.4 553L372.4 553.1L373.4 553.2L374.4 553.3L375.4 553.4L376.4 553.5L377.4 553.6L378.4 553.7L379.4 553.8L380.4 553.9L381.4 554L382.4 554.1L383.4 554.2L384.4 554.3L385.4 554.4L386.4 554.5L387.4 554.6L388.4 554.7L389.4 554.8L390.3 554.9L391.3 555L392.3 555.1L393.3 555.2L394.3 555.3L395.3 555.4L396.3 555.5L397.3 555.6L398.3 555.7L399.3 555.8L400.3 555.9L401.3 556L402.3 556.1L403.3 556.2L404.3 556.3L405.3 556.4L406.3 556.5L407.3 556.6L408.3 556.7L409.3 556.8L410.2 556.9L411.2 557L412.2 557.1L413.2 557.2L414.2 557.3L415.2 557.4L416.2 557.5L417.2 557.6L418.2 557.7L419.2 557.8L419.3 557.8" stroke="#f00" stroke-width="1.5" stroke-linejoin="round"/>
<path d="M67.5 340l3.2 6.5h-6.5zM67.5 343.7l3.2 6.5h-6.5zM67.5 347.4l3.2 6.5h-6.5zM67.5 351.1l3.2 6.5h-6.5zM67.5 354.8l3.2 6.5h-6.5zM67.5 358.5l3.2 6.5h-6.5zM67.5 362.2l3.2 6.5h-6.5zM67.5 365.9l3.2 6.5h-6.5zM67.5 369.6l3.2 6.5h-6.5zM67.5 373.3l3.2 6.5h-6.5zM67.5 377l3.2 6.5h-6.5zM67.5 380.7l3.2 6.5h-6.5zM67.5 384.4l3.2 6.5h-6.5zM67.5 388.1l3.2 6.5h-6.5zM67.5 391.8l3.2 6.5h-6.5zM67.5 395.5l3.2 6.5h-6.5zM67.5 399.2l3.2 6.5h-6.5zM67.5 402.9l3.2 6.5h-6.5zM67.5 406.6l3.2 6.5h-6.5zM67.5 410.3l3.2 6.5h-6.5zM67.5 414l3.2 6.5h-6.5zM67.5 417.7l3.2 6.5h-6.5zM67.5 421.4l3.2 6.5h-6.5zM67.5 425.1l3.2 6.5h-6.5zM67.5 428.8l3.2 6.5h-6.5zM67.6 432.5l3.2 6.5h-6.5zM67.7 436.2l3.2 6.5h-6.5zM67.9 439.9l3.2 6.5h-6.5zM68 443.6l3.2 6.5h-6.5zM68.2 447.3l3.2 6.5h-6.5zM68.7 451l3.2 6.5h-6.5zM69.5 454.7l3.2 6.5h-6.5zM70.4 458.4l3.2 6.5h-6.5zM71.4 462.1l3.2 6.5h-6.5zM72.5 465.8l3.2 6.5h-6.5zM73.9 469.5l3.2 6.5h-6.5zM75.6 473.2l3.2 6.5h-6.5zM71.9 476.9l3.2 6.5h-6.5zM74.5 481.4l3.2 6.5h-6.5zM81.6 489.1l3.2 6.5h-6.5zM88.6 495.6l3.2 6.5h-6.5zM93.8 500.1l3.2 6.5h-6.5zM98.3 503.9l3.2 6.5h-6.5zM104.1 507.8l3.2 6.5h-6.5zM111.6 511.5l3.2 6.5h-6.5zM120.3 515.3l3.2 6.5h-6.5zM129.1 519l3.2 6.5h-6.5zM137.8 523.5l3.2 6.5h-6.5zM147.3 526.5l3.2 6.5h-6.5zM157.3 530.2l3.2 6.5h-6.5zM167.7 534l3.2 6.5h-6.5zM178.9 537.7l3.2 6.5h-6.5zM188.2 541.4l3.2 6.5h-6.5zM200.8 547.2l3.2 6.5h-6.5zM209.9 549.7l3.2 6.5h-6.5zM220.1 553.7l3.2 6.5h-6.5zM229.1 557.3l3.2 6.5h-6.5zM237.8 561.1l3.2 6.5h-6.5zM246 564.8l3.2 6.5h-6.5zM253.2 568.6l3.2 6.5h-6.5zM256.9 571.9l3.2 6.5h-6.5zM257.9 574.6l3.2 6.5h-6.5z" stroke="#000" stroke-width="1.15" stroke-linejoin="miter"/>
<path d="M66.8 343.9L66.8 344.9L66.8 345.9L66.8 346.9L66.8 347.9L66.8 348.9L66.8 349.9L66.8 350.9L66.8 351.9L66.8 352.9L66.8 353.9L66.8 354.9L66.8 355.9L66.8 356.9L66.8 357.9L66.8 358.9L66.8 359.9L66.8 360.9L66.8 361.9L66.8 362.9L66.8 363.9L66.8 364.9L66.8 365.9L66.8 366.9L66.8 367.9L66.8 368.9L66.8 369.9L66.8 370.9L66.8 371.9L66.8 372.9L66.8 373.9L66.8 374.9L66.8 375.9L66.8 376.9L66.8 377.9L66.8 378.9L66.8 379.9L66.8 380.9L66.8 381.9L66.8 382.9L66.8 383.9L66.8 384.9L66.8 385.9L66.8 386.9L66.8 387.9L66.8 388.9L66.8 389.9L66.8 390.9L66.8 391.9L66.8 392.9L66.8 393.9L66.8 394.9L66.8 395.9L66.8 396.9L66.8 397.9L66.8 398.9L66.8 399.9L66.8 400.9L66.8 401.9L66.8 402.9L66.8 403.9L66.8 404.9L66.8 405.9L66.8 406.9L66.8 407.9L66.8 408.9L66.8 409.9L66.8 410.9L66.8 411.9L66.9 412.9L66.9 413.9L66.9 414.9L66.9 415.9L66.9 416.9L66.9 417.9L67 418.9L67 420L67 421L67 422L67 423L67.1 424L67.1 425L67.1 426L67.1 427L67.2 428L67.2 429L67.2 430L67.3 431L67.3 432L67.3 433L67.4 434L67.4 435L67.4 436L67.5 437L67.5 438L67.5 439L67.6 440L67.6 441L67.7 441.9L67.7 442.9L67.8 443.9L67.8 444.9L67.9 445.9L67.9 446.9L68 447.9L68 448.9L68.1 449.9L68.1 450.9L68.2 451.9L68.4 452.9L68.5 453.8L68.7 454.8L68.9 455.8L69.2 456.8L69.4 457.8L69.6 458.7L69.9 459.7L70.1 460.7L70.3 461.7L70.6 462.6L70.8 463.6L71.1 464.6L71.4 465.5L71.7 466.5L72 467.4L72.3 468.4L72.6 469.3L72.9 470.3L73.3 471.2L73.6 472.1L74 473.1L74.4 474L74.8 474.9L75.2 475.8L75.7 476.7L76.1 477.6L76.5 478.5L77 479.4L77.4 480.3L77.9 481.2L78.4 482.1L78.9 483L79.4 483.8L79.9 484.7L80.4 485.5L81 486.4L81.5 487.2L82.1 488L82.7 488.8L83.3 489.6L83.9 490.4L84.6 491.2L85.2 491.9L85.9 492.7L86.5 493.4L87.2 494.2L87.9 494.9L88.6 495.6L89.3 496.3L90 497L90.7 497.7L91.5 498.4L92.2 499.1L93 499.7L93.7 500.4L94.5 501L95.3 501.7L96 502.3L96.8 502.9L97.6 503.5L98.4 504.1L99.2 504.7L100 505.3L100.8 505.9L101.7 506.5L102.5 507L103.3 507.6L104.2 508.1L105 508.7L105.9 509.2L106.7 509.7L107.6 510.2L108.4 510.7L109.3 511.2L110.2 511.7L111.1 512.2L112 512.6L112.8 513.1L113.7 513.6L114.6 514L115.5 514.5L116.4 515L117.3 515.5L118.1 515.9L119 516.4L119.9 516.9L120.8 517.3L121.7 517.8L122.6 518.2L123.5 518.6L124.4 519L125.3 519.4L126.3 519.8L127.2 520.1L128.1 520.4L129.1 520.8L130 521.1L131 521.4L131.9 521.7L132.9 522L133.9 522.3L134.8 522.6L135.8 522.9L136.7 523.2L137.7 523.5L138.6 523.8L139.6 524.2L140.5 524.5L141.4 524.9L142.4 525.3L143.3 525.6L144.2 526L145.1 526.4L146.1 526.8L147 527.2L147.9 527.5L148.8 527.9L149.8 528.3L150.7 528.6L151.6 529L152.6 529.3L153.5 529.7L154.4 530L155.4 530.4L156.3 530.7L157.3 531.1L158.2 531.4L159.1 531.7L160.1 532.1L161 532.4L162 532.8L162.9 533.1L163.8 533.5L164.8 533.8L165.7 534.2L166.6 534.5L167.6 534.9L168.5 535.3L169.4 535.6L170.4 536L171.3 536.4L172.2 536.7L173.2 537.1L174.1 537.5L175 537.8L176 538.2L176.9 538.5L177.8 538.9L178.8 539.2L179.7 539.5L180.7 539.9L181.6 540.2L182.5 540.5L183.5 540.9L184.4 541.2L185.4 541.5L186.3 541.8L187.3 542.1L188.2 542.5L189.2 542.8L190.1 543.1L191.1 543.4L192 543.7L193 543.9L194 544.2L194.9 544.5L195.9 544.8L196.9 545.1L197.8 545.3L198.8 545.6L199.7 546L200.7 546.3L201.6 546.6L202.5 547L203.5 547.4L204.4 547.7L205.3 548.1L206.2 548.5L207.1 548.9L208.1 549.3L209 549.7L209.9 550L210.9 550.4L211.8 550.7L212.7 551.1L213.7 551.5L214.6 551.8L215.5 552.2L216.5 552.5L217.4 552.8L218.4 553.2L219.3 553.5L220.2 553.9L221.2 554.2L222.1 554.6L223.1 554.9L224 555.2L224.9 555.6L225.9 555.9L226.8 556.3L227.8 556.6L228.7 557L229.6 557.3L230.6 557.7L231.5 558L232.4 558.4L233.4 558.8L234.3 559.1L235.2 559.5L236.1 559.9L237.1 560.3L238 560.7L238.9 561.1L239.8 561.4L240.7 561.8L241.7 562.2L242.6 562.7L243.5 563.1L244.4 563.5L245.3 563.9L246.2 564.4L247.1 564.8L248 565.3L248.8 565.8L249.7 566.2L250.6 566.7L251.5 567.2L252.3 567.7L253.2 568.2L254 568.8L254.9 569.3L255.8 569.8L256.7 570.3L257.5 570.9L258.2 571.5L258.9 572.2L259.6 572.9L260.2 573.7L260.8 574.6L261.3 575.5L261.7 576.3L262.1 577.2L262.5 578.1L262.9 579.1L263.2 580.1L263.4 580.6" stroke="#00f" stroke-width="1.5" stroke-linejoin="round"/>
</g>
<rect x="66.3" y="344.9" width="363.2" height="235.2" fill="none" stroke="#404040" stroke-width="0.85"/>
<path d="M66.3 580.1v4.6M138.9 580.1v4.6M211.6 580.1v4.6M284.2 580.1v4.6M356.9 580.1v4.6M429.5 580.1v4.6M66.3 580.1h-3.5M66.3 533.1h-3.5M66.3 439h-3.5M66.3 344.9h-3.5" stroke="#333" stroke-width="0.8" fill="none"/>
<g class="tk">
<text x="66.3" y="601.2" text-anchor="middle">0</text>
<text x="138.9" y="601.2" text-anchor="middle">0.2</text>
<text x="211.6" y="601.2" text-anchor="middle">0.4</text>
<text x="284.2" y="601.2" text-anchor="middle">0.6</text>
<text x="356.9" y="601.2" text-anchor="middle">0.8</text>
<text x="429.5" y="601.2" text-anchor="middle">1</text>
<text x="58.7" y="586.4" text-anchor="end">0.5</text>
<text x="58.7" y="539.4" text-anchor="end">0.6</text>
<text x="58.7" y="445.3" text-anchor="end">0.8</text>
<text x="58.7" y="351.2" text-anchor="end">1</text>
</g>
<text class="lab" x="238.2" y="627.9">T</text><text class="ast" x="258.6" y="618.3" text-anchor="middle">∗</text>
<text class="lab sub" x="248.3" y="648.7" text-anchor="middle">(d)</text>
<text class="lab yl" transform="translate(22.5 463.2) rotate(-90)" text-anchor="middle">y</text>
<rect x="180.3" y="350.3" width="109.9" height="29.1" fill="#fff" stroke="#222" stroke-width="1"/>
<text class="ttl" x="235.2" y="369.3" text-anchor="middle">Locomotive</text>
<rect x="295.6" y="351.9" width="127.6" height="113.9" rx="2.5" fill="#fff" fill-opacity="0.8" stroke="#d0d0d0" stroke-width="1"/>
<path d="M310.4 361.3a3.2 3.2 0 1 0 6.5 0a3.2 3.2 0 1 0 -6.5 0M310.4 394.8h6.5v6.5h-6.5zM313.6 431.5l3.2 6.5h-6.5z" stroke="#000" stroke-width="1.15" fill="none"/>
<path d="M299.9 379.7h26.9" stroke="#000" stroke-width="1.5"/>
<path d="M299.9 416.4h26.9" stroke="#f00" stroke-width="1.5"/>
<path d="M299.9 453.1h26.9" stroke="#00f" stroke-width="1.5"/>
<g class="lg">
<text x="337.6" y="365.6">x1=0.35;CNNs</text>
<text x="337.6" y="384">x1=0.35;CFD</text>
<text x="337.6" y="402.3">x2=0.5;CNNs</text>
<text x="337.6" y="420.7">x2=0.5;CFD</text>
<text x="337.6" y="439.1">x3=0.65;CNNs</text>
<text x="337.6" y="457.4">x3=0.65;CFD</text>
</g>
<clipPath id="cle"><rect x="497.3" y="345.5" width="363.6" height="235.2"/></clipPath>
<g clip-path="url(#cle)" fill="none">
<path d="M495.4 345.1a3.2 3.2 0 1 0 6.5 0a3.2 3.2 0 1 0 -6.5 0M495.4 347.2a3.2 3.2 0 1 0 6.5 0a3.2 3.2 0 1 0 -6.5 0M495.4 349.4a3.2 3.2 0 1 0 6.5 0a3.2 3.2 0 1 0 -6.5 0M495.4 351.8a3.2 3.2 0 1 0 6.5 0a3.2 3.2 0 1 0 -6.5 0M495.4 354.3a3.2 3.2 0 1 0 6.5 0a3.2 3.2 0 1 0 -6.5 0M495.4 357a3.2 3.2 0 1 0 6.5 0a3.2 3.2 0 1 0 -6.5 0M495.4 359.9a3.2 3.2 0 1 0 6.5 0a3.2 3.2 0 1 0 -6.5 0M495.4 362.9a3.2 3.2 0 1 0 6.5 0a3.2 3.2 0 1 0 -6.5 0M495.4 366.1a3.2 3.2 0 1 0 6.5 0a3.2 3.2 0 1 0 -6.5 0M495.4 369.6a3.2 3.2 0 1 0 6.5 0a3.2 3.2 0 1 0 -6.5 0M495.4 373.2a3.2 3.2 0 1 0 6.5 0a3.2 3.2 0 1 0 -6.5 0M495.4 377.1a3.2 3.2 0 1 0 6.5 0a3.2 3.2 0 1 0 -6.5 0M495.4 381.3a3.2 3.2 0 1 0 6.5 0a3.2 3.2 0 1 0 -6.5 0M495.4 385.7a3.2 3.2 0 1 0 6.5 0a3.2 3.2 0 1 0 -6.5 0M495.4 390.4a3.2 3.2 0 1 0 6.5 0a3.2 3.2 0 1 0 -6.5 0M495.4 395.4a3.2 3.2 0 1 0 6.5 0a3.2 3.2 0 1 0 -6.5 0M495.4 400.7a3.2 3.2 0 1 0 6.5 0a3.2 3.2 0 1 0 -6.5 0M495.4 406.4a3.2 3.2 0 1 0 6.5 0a3.2 3.2 0 1 0 -6.5 0M495.4 412.4a3.2 3.2 0 1 0 6.5 0a3.2 3.2 0 1 0 -6.5 0M495.4 418.8a3.2 3.2 0 1 0 6.5 0a3.2 3.2 0 1 0 -6.5 0M495.4 425.6a3.2 3.2 0 1 0 6.5 0a3.2 3.2 0 1 0 -6.5 0M495.4 432.8a3.2 3.2 0 1 0 6.5 0a3.2 3.2 0 1 0 -6.5 0M495.4 440.3a3.2 3.2 0 1 0 6.5 0a3.2 3.2 0 1 0 -6.5 0M495.4 447.8a3.2 3.2 0 1 0 6.5 0a3.2 3.2 0 1 0 -6.5 0M495.4 455.3a3.2 3.2 0 1 0 6.5 0a3.2 3.2 0 1 0 -6.5 0M495.4 462.8a3.2 3.2 0 1 0 6.5 0a3.2 3.2 0 1 0 -6.5 0M495.4 470.3a3.2 3.2 0 1 0 6.5 0a3.2 3.2 0 1 0 -6.5 0M495.4 477.8a3.2 3.2 0 1 0 6.5 0a3.2 3.2 0 1 0 -6.5 0M495.4 485.3a3.2 3.2 0 1 0 6.5 0a3.2 3.2 0 1 0 -6.5 0M495.4 492.8a3.2 3.2 0 1 0 6.5 0a3.2 3.2 0 1 0 -6.5 0M497.2 500.3a3.2 3.2 0 1 0 6.5 0a3.2 3.2 0 1 0 -6.5 0M498 507.3a3.2 3.2 0 1 0 6.5 0a3.2 3.2 0 1 0 -6.5 0M501.2 515.3a3.2 3.2 0 1 0 6.5 0a3.2 3.2 0 1 0 -6.5 0M506.7 522.2a3.2 3.2 0 1 0 6.5 0a3.2 3.2 0 1 0 -6.5 0M516.7 530.2a3.2 3.2 0 1 0 6.5 0a3.2 3.2 0 1 0 -6.5 0M529.9 537.7a3.2 3.2 0 1 0 6.5 0a3.2 3.2 0 1 0 -6.5 0M539.1 541.7a3.2 3.2 0 1 0 6.5 0a3.2 3.2 0 1 0 -6.5 0M546.6 543.4a3.2 3.2 0 1 0 6.5 0a3.2 3.2 0 1 0 -6.5 0M552.1 545.2a3.2 3.2 0 1 0 6.5 0a3.2 3.2 0 1 0 -6.5 0M555.3 547.2a3.2 3.2 0 1 0 6.5 0a3.2 3.2 0 1 0 -6.5 0M567.3 549.2a3.2 3.2 0 1 0 6.5 0a3.2 3.2 0 1 0 -6.5 0M580.8 550.9a3.2 3.2 0 1 0 6.5 0a3.2 3.2 0 1 0 -6.5 0M595.7 552.9a3.2 3.2 0 1 0 6.5 0a3.2 3.2 0 1 0 -6.5 0M615.2 554.7a3.2 3.2 0 1 0 6.5 0a3.2 3.2 0 1 0 -6.5 0M633.9 556.4a3.2 3.2 0 1 0 6.5 0a3.2 3.2 0 1 0 -6.5 0M648.5 558.9a3.2 3.2 0 1 0 6.5 0a3.2 3.2 0 1 0 -6.5 0M670.2 561a3.2 3.2 0 1 0 6.5 0a3.2 3.2 0 1 0 -6.5 0M690.3 562.2a3.2 3.2 0 1 0 6.5 0a3.2 3.2 0 1 0 -6.5 0M707.5 563.9a3.2 3.2 0 1 0 6.5 0a3.2 3.2 0 1 0 -6.5 0M718 566a3.2 3.2 0 1 0 6.5 0a3.2 3.2 0 1 0 -6.5 0M723.8 568.5a3.2 3.2 0 1 0 6.5 0a3.2 3.2 0 1 0 -6.5 0M729.7 567.2a3.2 3.2 0 1 0 6.5 0a3.2 3.2 0 1 0 -6.5 0M731.8 571.8a3.2 3.2 0 1 0 6.5 0a3.2 3.2 0 1 0 -6.5 0M725.1 573.9a3.2 3.2 0 1 0 6.5 0a3.2 3.2 0 1 0 -6.5 0M715 575.6a3.2 3.2 0 1 0 6.5 0a3.2 3.2 0 1 0 -6.5 0M681.1 577.3a3.2 3.2 0 1 0 6.5 0a3.2 3.2 0 1 0 -6.5 0M673.6 579a3.2 3.2 0 1 0 6.5 0a3.2 3.2 0 1 0 -6.5 0M665.2 580.6a3.2 3.2 0 1 0 6.5 0a3.2 3.2 0 1 0 -6.5 0M656 582.3a3.2 3.2 0 1 0 6.5 0a3.2 3.2 0 1 0 -6.5 0" stroke="#000" stroke-width="1.15" stroke-linejoin="miter"/>
<path d="M498.1 344.5L498.1 345.5L498.1 346.5L498.1 347.5L498.1 348.5L498.1 349.5L498.1 350.5L498.1 351.5L498.1 352.5L498.1 353.5L498.1 354.5L498.1 355.5L498.1 356.5L498.1 357.5L498.1 358.5L498.1 359.5L498.1 360.5L498.1 361.5L498.1 362.5L498.1 363.5L498.1 364.5L498.1 365.5L498.1 366.5L498.1 367.5L498.1 368.5L498.1 369.5L498.1 370.5L498.1 371.5L498.1 372.5L498.1 373.5L498.1 374.5L498.1 375.5L498.1 376.5L498.1 377.5L498.1 378.5L498.1 379.5L498.1 380.5L498.1 381.5L498.1 382.5L498.1 383.5L498.1 384.5L498.1 385.5L498.1 386.5L498.1 387.5L498.1 388.5L498.1 389.5L498.1 390.5L498.1 391.5L498.1 392.5L498.1 393.5L498.1 394.5L498.1 395.5L498.1 396.5L498.1 397.5L498.1 398.5L498.1 399.5L498.1 400.5L498.1 401.5L498.1 402.5L498.1 403.5L498.1 404.5L498.1 405.5L498.1 406.5L498.1 407.5L498.1 408.5L498.1 409.5L498.1 410.5L498.1 411.5L498.1 412.5L498.1 413.5L498.1 414.5L498.1 415.5L498.1 416.5L498.1 417.5L498.1 418.5L498.2 419.5L498.2 420.5L498.2 421.5L498.2 422.5L498.2 423.5L498.2 424.5L498.2 425.5L498.2 426.5L498.2 427.5L498.2 428.5L498.2 429.5L498.2 430.5L498.2 431.5L498.2 432.5L498.2 433.5L498.2 434.5L498.2 435.5L498.2 436.5L498.2 437.5L498.2 438.5L498.2 439.5L498.2 440.5L498.2 441.5L498.2 442.5L498.2 443.5L498.2 444.5L498.2 445.5L498.2 446.5L498.2 447.5L498.2 448.5L498.2 449.5L498.2 450.5L498.2 451.5L498.2 452.5L498.2 453.5L498.2 454.5L498.2 455.5L498.2 456.5L498.2 457.5L498.2 458.5L498.2 459.5L498.2 460.5L498.2 461.5L498.2 462.5L498.2 463.5L498.2 464.5L498.2 465.5L498.2 466.5L498.2 467.5L498.3 468.5L498.3 469.5L498.3 470.5L498.3 471.5L498.3 472.5L498.3 473.5L498.3 474.5L498.3 475.5L498.3 476.5L498.3 477.5L498.3 478.5L498.3 479.5L498.3 480.5L498.3 481.5L498.3 482.5L498.3 483.5L498.3 484.5L498.3 485.5L498.4 486.5L498.4 487.5L498.4 488.5L498.4 489.5L498.4 490.5L498.4 491.5L498.4 492.5L498.4 493.5L498.4 494.5L498.5 495.5L498.5 496.5L498.5 497.5L498.6 498.5L498.6 499.5L498.7 500.5L498.7 501.5L498.8 502.5L498.9 503.5L498.9 504.5L499 505.5L499.1 506.5L499.2 507.5L499.3 508.5L499.4 509.5L499.5 510.5L499.7 511.5L499.9 512.5L500.1 513.5L500.4 514.4L500.6 515.4L500.9 516.4L501.2 517.3L501.5 518.2L501.9 519.1L502.3 520L502.7 520.9L503.3 521.8L503.8 522.7L504.4 523.5L505 524.3L505.6 525.1L506.2 525.9L506.8 526.7L507.4 527.4L508.1 528.2L508.8 528.9L509.6 529.6L510.3 530.3L511.1 531L511.8 531.6L512.6 532.2L513.4 532.8L514.3 533.3L515.1 533.8L516 534.3L516.9 534.8L517.8 535.3L518.7 535.7L519.6 536.2L520.4 536.7L521.3 537.1L522.2 537.6L523.1 538.1L524 538.5L524.9 539L525.8 539.4L526.7 539.8L527.6 540.2L528.5 540.7L529.4 541.1L530.3 541.5L531.2 541.9L532.2 542.3L533.1 542.7L534 543.1L534.9 543.5L535.9 543.8L536.8 544.2L537.7 544.5L538.7 544.9L539.6 545.2L540.5 545.5L541.5 545.9L542.4 546.2L543.4 546.5L544.4 546.8L545.3 547.1L546.3 547.4L547.2 547.6L548.2 547.9L549.2 548.1L550.1 548.3L551.1 548.5L552.1 548.7L553.1 548.9L554.1 549.1L555.1 549.3L556 549.4L557 549.6L558 549.8L559 550L560 550.2L561 550.4L561.9 550.6L562.9 550.8L563.9 551L564.9 551.2L565.9 551.4L566.8 551.6L567.8 551.7L568.8 551.9L569.8 552.1L570.8 552.2L571.8 552.4L572.8 552.5L573.8 552.6L574.7 552.8L575.7 552.9L576.7 553L577.7 553.1L578.7 553.2L579.7 553.3L580.7 553.4L581.7 553.5L582.7 553.6L583.7 553.7L584.7 553.8L585.7 553.9L586.7 554.1L587.7 554.2L588.7 554.4L589.6 554.6L590.6 554.7L591.6 554.9L592.6 555L593.6 555.2L594.6 555.3L595.6 555.4L596.6 555.5L597.6 555.6L598.6 555.7L599.6 555.8L600.6 555.9L601.6 556L602.5 556L603.5 556.1L604.5 556.2L605.5 556.3L606.5 556.5L607.5 556.6L608.5 556.7L609.5 556.8L610.5 556.9L611.5 556.9L612.5 557L613.5 557.1L614.5 557.2L615.5 557.2L616.5 557.3L617.5 557.3L618.5 557.4L619.5 557.5L620.5 557.5L621.5 557.6L622.5 557.7L623.5 557.8L624.5 557.9L625.5 558L626.5 558L627.5 558.1L628.5 558.2L629.5 558.3L630.4 558.4L631.4 558.5L632.4 558.6L633.4 558.6L634.4 558.7L635.4 558.8L636.4 558.9L637.4 558.9L638.4 559L639.4 559.1L640.4 559.2L641.4 559.2L642.4 559.3L643.4 559.3L644.4 559.4L645.4 559.4L646.4 559.5L647.4 559.6L648.4 559.6L649.4 559.7L650.4 559.7L651.4 559.8L652.4 559.8L653.4 559.9L654.4 559.9L655.4 560L656.4 560L657.4 560.1L658.4 560.1L659.4 560.2L660.4 560.3L661.4 560.3L662.4 560.4L663.4 560.4L664.4 560.5L665.4 560.5L666.4 560.6L667.4 560.6L668.4 560.7L669.4 560.7L670.4 560.8L671.4 560.8L672.4 560.9L673.4 560.9L674.4 561L675.4 561.1L676.4 561.1L677.4 561.2L678.4 561.2L679.4 561.3L680.4 561.3L681.4 561.4L682.4 561.5L683.4 561.5L684.4 561.6L685.4 561.6L686.3 561.7L687.3 561.8L688.3 561.8L689.3 561.9L690.3 562L691.3 562L692.3 562.1L693.3 562.2L694.3 562.3L695.3 562.3L696.3 562.4L697.3 562.5L698.3 562.6L699.3 562.7L700.3 562.8L701.3 562.9L702.3 563L703.3 563.1L704.3 563.2L705.3 563.3L706.3 563.4L707.3 563.5L708.3 563.6L709.3 563.7L710.3 563.8L711.2 563.9L712.2 564L713.2 564.2L714.2 564.3L715.2 564.4L716.2 564.5L717.2 564.6L718.2 564.8L719.2 564.9L720.2 565L721.2 565.1L722.2 565.2L723.2 565.4L724.2 565.5L725.2 565.6L726.2 565.7L727.2 565.8L728.1 565.9L729.1 566L730.1 566.2L731.1 566.4L732.3 566.6L732.4 567L731.3 567.3L730.3 567.7L729.4 568L728.4 568.3L727.5 568.6L726.5 568.9L725.5 569.2L724.6 569.5L723.6 569.8L722.7 570L721.7 570.3L720.7 570.6L719.8 570.8L718.8 571.1L717.8 571.4L716.9 571.6L715.9 571.9L714.9 572.1L714 572.4L713 572.6L712 572.8L711 573.1L710.1 573.3L709.1 573.5L708.1 573.7L707.1 573.9L706.2 574.1L705.2 574.3L704.2 574.4L703.2 574.6L702.2 574.7L701.2 574.9L700.2 575L699.2 575.2L698.2 575.3L697.3 575.4L696.3 575.6L695.3 575.7L694.3 575.9L693.3 576.1L692.3 576.2L691.3 576.4L690.4 576.6L689.4 576.8L688.4 577L687.4 577.1L686.4 577.3L685.4 577.5L684.5 577.7L683.5 577.8L682.5 578L681.5 578.2L680.5 578.3L679.5 578.5L678.5 578.7L677.5 578.8L676.6 579L675.6 579.2L674.6 579.4L673.6 579.6L672.6 579.8L671.7 580L670.7 580.2L669.7 580.4L668.7 580.6L667.7 580.8L666.7 580.9L665.8 581.1L664.8 581.2L664.3 581.3" stroke="#000" stroke-width="1.5" stroke-linejoin="round"/>
<path d="M495.4 341.9h6.5v6.5h-6.5zM495.4 344h6.5v6.5h-6.5zM495.4 346.3h6.5v6.5h-6.5zM495.4 348.7h6.5v6.5h-6.5zM495.4 351.2h6.5v6.5h-6.5zM495.4 353.9h6.5v6.5h-6.5zM495.4 356.8h6.5v6.5h-6.5zM495.4 359.8h6.5v6.5h-6.5zM495.4 363.1h6.5v6.5h-6.5zM495.4 366.5h6.5v6.5h-6.5zM495.4 370.2h6.5v6.5h-6.5zM495.4 374.1h6.5v6.5h-6.5zM495.4 378.3h6.5v6.5h-6.5zM495.4 382.7h6.5v6.5h-6.5zM495.4 387.4h6.5v6.5h-6.5zM495.4 392.4h6.5v6.5h-6.5zM495.4 397.7h6.5v6.5h-6.5zM495.4 403.4h6.5v6.5h-6.5zM495.4 409.4h6.5v6.5h-6.5zM495.4 415.9h6.5v6.5h-6.5zM495.4 422.7h6.5v6.5h-6.5zM495.4 429.9h6.5v6.5h-6.5zM495.4 437.4h6.5v6.5h-6.5zM495.4 444.9h6.5v6.5h-6.5zM495.4 452.4h6.5v6.5h-6.5zM495.5 459.9h6.5v6.5h-6.5zM495.8 467.4h6.5v6.5h-6.5zM496.7 474.9h6.5v6.5h-6.5zM498.7 482.4h6.5v6.5h-6.5zM503.2 490.1h6.5v6.5h-6.5zM509 497.2h6.5v6.5h-6.5zM518.7 504.3h6.5v6.5h-6.5zM524.4 508.1h6.5v6.5h-6.5zM528.3 510.7h6.5v6.5h-6.5zM534.1 512.6h6.5v6.5h-6.5zM538.6 514.6h6.5v6.5h-6.5zM545 516.5h6.5v6.5h-6.5zM556.6 519.5h6.5v6.5h-6.5zM565.3 522.7h6.5v6.5h-6.5zM575.3 525.2h6.5v6.5h-6.5zM582.8 526.5h6.5v6.5h-6.5zM593.2 528.5h6.5v6.5h-6.5zM602.7 530.2h6.5v6.5h-6.5zM611.4 532h6.5v6.5h-6.5zM623.2 534h6.5v6.5h-6.5zM632.6 535.7h6.5v6.5h-6.5zM645.6 538.2h6.5v6.5h-6.5zM658.3 539.7h6.5v6.5h-6.5zM672.8 542.1h6.5v6.5h-6.5zM688.5 544h6.5v6.5h-6.5zM703.6 545.9h6.5v6.5h-6.5zM717.2 547.4h6.5v6.5h-6.5zM734.2 549.7h6.5v6.5h-6.5zM750.8 551.6h6.5v6.5h-6.5zM766.8 553.4h6.5v6.5h-6.5zM783.8 555.3h6.5v6.5h-6.5zM804 557.2h6.5v6.5h-6.5zM819.3 559.1h6.5v6.5h-6.5zM838.2 561h6.5v6.5h-6.5z" stroke="#000" stroke-width="1.15" stroke-linejoin="miter"/>
<path d="M498.1 344.5L498.1 345.5L498.1 346.5L498.1 347.5L498.1 348.5L498.1 349.5L498.1 350.5L498.1 351.5L498.1 352.5L498.1 353.5L498.1 354.5L498.1 355.5L498.1 356.5L498.1 357.5L498.1 358.5L498.1 359.5L498.1 360.5L498.1 361.5L498.1 362.5L498.1 363.5L498.1 364.5L498.1 365.5L498.1 366.5L498.1 367.5L498.1 368.5L498.1 369.5L498.1 370.5L498.1 371.5L498.1 372.5L498.1 373.5L498.1 374.5L498.1 375.5L498.1 376.5L498.1 377.5L498.1 378.5L498.1 379.5L498.1 380.5L498.1 381.5L498.1 382.5L498.1 383.5L498.1 384.5L498.1 385.5L498.1 386.5L498.1 387.5L498.1 388.5L498.1 389.5L498.1 390.5L498.1 391.5L498.1 392.5L498.1 393.5L498.1 394.5L498.1 395.5L498.1 396.5L498.1 397.5L498.1 398.5L498.1 399.5L498.1 400.5L498.1 401.5L498.1 402.5L498.1 403.5L498.1 404.5L498.1 405.5L498.2 406.5L498.2 407.5L498.2 408.5L498.2 409.5L498.2 410.5L498.2 411.5L498.2 412.5L498.2 413.5L498.2 414.5L498.2 415.5L498.2 416.5L498.2 417.5L498.2 418.5L498.2 419.5L498.2 420.5L498.2 421.5L498.2 422.5L498.2 423.5L498.2 424.5L498.2 425.5L498.2 426.5L498.2 427.5L498.2 428.5L498.2 429.5L498.2 430.5L498.2 431.5L498.3 432.5L498.3 433.5L498.3 434.5L498.3 435.5L498.3 436.5L498.3 437.5L498.3 438.5L498.3 439.5L498.3 440.5L498.4 441.5L498.4 442.5L498.4 443.5L498.4 444.5L498.4 445.5L498.4 446.5L498.4 447.5L498.4 448.5L498.5 449.5L498.5 450.5L498.5 451.5L498.5 452.5L498.5 453.5L498.5 454.5L498.6 455.5L498.6 456.5L498.6 457.5L498.6 458.5L498.6 459.5L498.7 460.5L498.7 461.5L498.7 462.5L498.7 463.5L498.7 464.5L498.8 465.5L498.8 466.5L498.8 467.5L498.9 468.5L498.9 469.5L499 470.5L499.1 471.5L499.2 472.5L499.3 473.5L499.4 474.5L499.5 475.5L499.7 476.5L499.8 477.5L499.9 478.4L500.1 479.4L500.2 480.4L500.4 481.4L500.6 482.4L500.9 483.4L501.1 484.3L501.4 485.3L501.6 486.3L501.9 487.2L502.2 488.2L502.5 489.1L502.8 490.1L503.2 491L503.5 491.9L503.9 492.9L504.3 493.8L504.8 494.7L505.2 495.6L505.7 496.5L506.2 497.4L506.7 498.2L507.2 499.1L507.7 499.9L508.3 500.7L508.9 501.6L509.5 502.4L510.1 503.2L510.7 503.9L511.4 504.7L512 505.4L512.7 506.2L513.4 506.9L514.2 507.6L514.9 508.3L515.6 508.9L516.4 509.6L517.2 510.2L518 510.9L518.8 511.4L519.6 512L520.4 512.5L521.3 513.1L522.1 513.6L523 514.1L523.9 514.6L524.8 515L525.7 515.5L526.6 516L527.4 516.4L528.3 516.8L529.2 517.3L530.1 517.7L531 518.1L532 518.6L532.9 519L533.8 519.4L534.7 519.8L535.6 520.1L536.6 520.5L537.5 520.8L538.4 521.2L539.4 521.5L540.3 521.8L541.3 522.1L542.2 522.4L543.2 522.7L544.2 523L545.1 523.3L546.1 523.6L547 523.9L548 524.2L549 524.4L549.9 524.7L550.9 525L551.8 525.3L552.8 525.6L553.8 525.8L554.7 526.1L555.7 526.4L556.7 526.6L557.6 526.9L558.6 527.1L559.6 527.4L560.5 527.6L561.5 527.9L562.5 528.1L563.4 528.3L564.4 528.5L565.4 528.8L566.4 529L567.3 529.2L568.3 529.4L569.3 529.6L570.3 529.9L571.2 530.1L572.2 530.3L573.2 530.5L574.2 530.7L575.2 531L576.1 531.2L577.1 531.4L578.1 531.6L579.1 531.8L580 532L581 532.3L582 532.5L583 532.7L583.9 532.9L584.9 533.1L585.9 533.3L586.9 533.5L587.9 533.7L588.8 533.9L589.8 534.1L590.8 534.3L591.8 534.5L592.8 534.7L593.7 534.9L594.7 535.1L595.7 535.3L596.7 535.5L597.7 535.7L598.6 535.8L599.6 536L600.6 536.2L601.6 536.4L602.6 536.6L603.6 536.8L604.5 537L605.5 537.2L606.5 537.4L607.5 537.6L608.5 537.8L609.4 538L610.4 538.2L611.4 538.4L612.4 538.6L613.3 538.9L614.3 539.1L615.3 539.3L616.3 539.5L617.2 539.7L618.2 539.9L619.2 540.1L620.2 540.3L621.2 540.5L622.2 540.6L623.1 540.8L624.1 541L625.1 541.1L626.1 541.3L627.1 541.5L628.1 541.6L629.1 541.8L630.1 541.9L631 542.1L632 542.3L633 542.4L634 542.6L635 542.7L636 542.9L637 543L638 543.2L638.9 543.3L639.9 543.5L640.9 543.6L641.9 543.8L642.9 544L643.9 544.1L644.9 544.3L645.9 544.4L646.9 544.6L647.8 544.7L648.8 544.9L649.8 545L650.8 545.1L651.8 545.3L652.8 545.4L653.8 545.6L654.8 545.7L655.8 545.9L656.7 546L657.7 546.2L658.7 546.3L659.7 546.5L660.7 546.6L661.7 546.7L662.7 546.9L663.7 547L664.7 547.2L665.6 547.3L666.6 547.5L667.6 547.7L668.6 547.8L669.6 548L670.6 548.1L671.6 548.3L672.6 548.4L673.6 548.6L674.5 548.7L675.5 548.9L676.5 549L677.5 549.2L678.5 549.3L679.5 549.5L680.5 549.7L681.5 549.8L682.4 550L683.4 550.1L684.4 550.3L685.4 550.4L686.4 550.6L687.4 550.8L688.4 550.9L689.4 551.1L690.3 551.2L691.3 551.4L692.3 551.5L693.3 551.7L694.3 551.9L695.3 552L696.3 552.2L697.3 552.3L698.2 552.5L699.2 552.6L700.2 552.8L701.2 552.9L702.2 553.1L703.2 553.2L704.2 553.4L705.2 553.6L706.2 553.7L707.1 553.9L708.1 554L709.1 554.2L710.1 554.3L711.1 554.5L712.1 554.6L713.1 554.8L714.1 554.9L715.1 555.1L716 555.2L717 555.3L718 555.5L719 555.6L720 555.8L721 555.9L722 556.1L723 556.2L724 556.4L724.9 556.5L725.9 556.7L726.9 556.8L727.9 556.9L728.9 557.1L729.9 557.2L730.9 557.4L731.9 557.5L732.9 557.7L733.9 557.8L734.8 557.9L735.8 558.1L736.8 558.2L737.8 558.4L738.8 558.5L739.8 558.6L740.8 558.8L741.8 558.9L742.8 559.1L743.8 559.2L744.7 559.3L745.7 559.5L746.7 559.6L747.7 559.7L748.7 559.9L749.7 560L750.7 560.2L751.7 560.3L752.7 560.4L753.7 560.6L754.7 560.7L755.6 560.8L756.6 561L757.6 561.1L758.6 561.2L759.6 561.4L760.6 561.5L761.6 561.6L762.6 561.7L763.6 561.9L764.6 562L765.6 562.1L766.6 562.3L767.5 562.4L768.5 562.5L769.5 562.6L770.5 562.8L771.5 562.9L772.5 563L773.5 563.1L774.5 563.3L775.5 563.4L776.5 563.5L777.5 563.6L778.5 563.7L779.5 563.9L780.4 564L781.4 564.1L782.4 564.2L783.4 564.3L784.4 564.5L785.4 564.6L786.4 564.7L787.4 564.8L788.4 564.9L789.4 565L790.4 565.2L791.4 565.3L792.4 565.4L793.4 565.5L794.3 565.6L795.3 565.7L796.3 565.9L797.3 566L798.3 566.1L799.3 566.2L800.3 566.3L801.3 566.4L802.3 566.6L803.3 566.7L804.3 566.8L805.3 566.9L806.3 567L807.3 567.1L808.3 567.2L809.2 567.4L810.2 567.5L811.2 567.6L812.2 567.7L813.2 567.8L814.2 568L815.2 568.1L816.2 568.2L817.2 568.3L818.2 568.4L819.2 568.5L820.2 568.7L821.2 568.8L822.2 568.9L823.2 569L824.1 569.1L825.1 569.2L826.1 569.3L827.1 569.5L828.1 569.6L829.1 569.7L830.1 569.8L831.1 569.9L832.1 570L833.1 570.2L834.1 570.3L835.1 570.4L836.1 570.5L837.1 570.6L838 570.7L839 570.9L840 571L841 571.1L842 571.2L843 571.3L844 571.4L845 571.5L846 571.7L847 571.8L848 571.9L849 572L850 572.1L851 572.2L852 572.3L852.2 572.4" stroke="#f00" stroke-width="1.5" stroke-linejoin="round"/>
<path d="M498.7 343l3.2 6.5h-6.5zM498.7 346.7l3.2 6.5h-6.5zM498.7 350.4l3.2 6.5h-6.5zM498.7 354.1l3.2 6.5h-6.5zM498.7 357.8l3.2 6.5h-6.5zM498.7 361.5l3.2 6.5h-6.5zM498.7 365.2l3.2 6.5h-6.5zM498.7 368.9l3.2 6.5h-6.5zM498.7 372.6l3.2 6.5h-6.5zM498.7 376.3l3.2 6.5h-6.5zM498.7 380l3.2 6.5h-6.5zM498.7 383.7l3.2 6.5h-6.5zM498.7 387.4l3.2 6.5h-6.5zM498.7 391.1l3.2 6.5h-6.5zM498.7 394.8l3.2 6.5h-6.5zM498.7 398.5l3.2 6.5h-6.5zM498.7 402.2l3.2 6.5h-6.5zM498.7 405.9l3.2 6.5h-6.5zM498.7 409.6l3.2 6.5h-6.5zM498.7 413.3l3.2 6.5h-6.5zM498.7 417l3.2 6.5h-6.5zM498.7 420.7l3.2 6.5h-6.5zM498.7 424.4l3.2 6.5h-6.5zM498.7 428.1l3.2 6.5h-6.5zM498.7 431.8l3.2 6.5h-6.5zM498.7 435.5l3.2 6.5h-6.5zM498.7 439.2l3.2 6.5h-6.5zM498.8 442.9l3.2 6.5h-6.5zM499 446.6l3.2 6.5h-6.5zM499.1 450.3l3.2 6.5h-6.5zM499.3 454l3.2 6.5h-6.5zM499.5 457.7l3.2 6.5h-6.5zM500 461.4l3.2 6.5h-6.5zM500.9 465.1l3.2 6.5h-6.5zM501.8 468.8l3.2 6.5h-6.5zM503.1 472.5l3.2 6.5h-6.5zM504.6 476.2l3.2 6.5h-6.5zM503.3 479.9l3.2 6.5h-6.5zM507.1 486.9l3.2 6.5h-6.5zM511 491.4l3.2 6.5h-6.5zM514.8 494.6l3.2 6.5h-6.5zM518.7 497.2l3.2 6.5h-6.5zM523.2 500.4l3.2 6.5h-6.5zM528.3 504.3l3.2 6.5h-6.5zM534.1 507.5l3.2 6.5h-6.5zM541.2 511.3l3.2 6.5h-6.5zM549.9 516.5l3.2 6.5h-6.5zM559.8 520.2l3.2 6.5h-6.5zM568.6 524l3.2 6.5h-6.5zM578.5 527l3.2 6.5h-6.5zM591 531l3.2 6.5h-6.5zM604 535.2l3.2 6.5h-6.5zM616.4 538.9l3.2 6.5h-6.5zM628.4 542.7l3.2 6.5h-6.5zM640.8 547.7l3.2 6.5h-6.5zM652.6 551l3.2 6.5h-6.5zM665.1 553.9l3.2 6.5h-6.5zM676 557.7l3.2 6.5h-6.5zM685.2 561.5l3.2 6.5h-6.5zM693.6 565.2l3.2 6.5h-6.5zM700.3 569l3.2 6.5h-6.5zM702.4 573.6l3.2 6.5h-6.5zM700.3 577l3.2 6.5h-6.5z" stroke="#000" stroke-width="1.15" stroke-linejoin="miter"/>
<path d="M498.1 344.5L498.1 345.5L498.1 346.5L498.1 347.5L498.1 348.5L498.1 349.5L498.1 350.5L498.1 351.5L498.1 352.5L498.1 353.5L498.1 354.5L498.1 355.5L498.1 356.5L498.1 357.5L498.1 358.5L498.1 359.5L498.1 360.5L498.1 361.5L498.1 362.5L498.1 363.5L498.1 364.5L498.1 365.5L498.1 366.5L498.1 367.5L498.1 368.5L498.1 369.5L498.1 370.5L498.1 371.5L498.1 372.5L498.1 373.5L498.1 374.5L498.1 375.5L498.1 376.5L498.1 377.5L498.1 378.5L498.1 379.5L498.1 380.5L498.1 381.5L498.1 382.5L498.1 383.5L498.1 384.5L498.1 385.5L498.1 386.5L498.1 387.5L498.1 388.5L498.1 389.5L498.1 390.5L498.1 391.5L498.1 392.5L498.1 393.5L498.1 394.5L498.1 395.5L498.1 396.5L498.1 397.5L498.1 398.5L498.1 399.5L498.1 400.5L498.1 401.5L498.1 402.5L498.2 403.5L498.2 404.5L498.2 405.5L498.2 406.5L498.2 407.5L498.2 408.5L498.2 409.5L498.2 410.5L498.2 411.5L498.2 412.5L498.2 413.5L498.2 414.5L498.2 415.5L498.2 416.5L498.2 417.5L498.2 418.5L498.2 419.5L498.3 420.5L498.3 421.5L498.3 422.5L498.3 423.5L498.3 424.5L498.3 425.6L498.3 426.6L498.4 427.6L498.4 428.6L498.4 429.6L498.4 430.6L498.4 431.6L498.5 432.6L498.5 433.6L498.5 434.6L498.5 435.6L498.6 436.6L498.6 437.6L498.6 438.6L498.6 439.6L498.7 440.6L498.7 441.6L498.7 442.6L498.8 443.6L498.8 444.6L498.8 445.6L498.9 446.6L498.9 447.6L498.9 448.6L499 449.6L499 450.6L499 451.6L499.1 452.5L499.1 453.5L499.2 454.5L499.2 455.5L499.3 456.5L499.3 457.5L499.4 458.5L499.4 459.5L499.5 460.5L499.5 461.5L499.7 462.5L499.8 463.5L500 464.4L500.2 465.4L500.4 466.4L500.6 467.4L500.9 468.4L501.1 469.3L501.4 470.3L501.6 471.3L501.9 472.2L502.2 473.2L502.5 474.1L502.9 475.1L503.2 476L503.6 477L504 477.9L504.4 478.8L504.8 479.7L505.2 480.6L505.6 481.5L506.1 482.4L506.5 483.3L507 484.2L507.5 485.1L508 485.9L508.5 486.8L509.1 487.6L509.6 488.5L510.1 489.3L510.7 490.1L511.3 490.9L511.9 491.7L512.5 492.5L513.1 493.3L513.8 494.1L514.4 494.9L515.1 495.6L515.8 496.3L516.5 497L517.2 497.7L517.9 498.4L518.6 499.1L519.4 499.8L520.2 500.4L520.9 501.1L521.7 501.7L522.5 502.3L523.3 502.9L524.1 503.6L524.9 504.1L525.7 504.7L526.5 505.3L527.3 505.9L528.2 506.4L529 507L529.8 507.5L530.7 508L531.5 508.6L532.4 509.1L533.3 509.6L534.1 510L535 510.5L535.9 511L536.8 511.5L537.7 511.9L538.6 512.4L539.5 512.8L540.4 513.3L541.3 513.7L542.2 514.1L543.1 514.5L544 515L544.9 515.4L545.8 515.8L546.7 516.2L547.6 516.6L548.6 517L549.5 517.4L550.4 517.8L551.3 518.1L552.3 518.5L553.2 518.9L554.1 519.3L555.1 519.6L556 520L556.9 520.3L557.9 520.7L558.8 521L559.7 521.4L560.7 521.7L561.6 522L562.6 522.4L563.5 522.7L564.5 523L565.4 523.3L566.3 523.7L567.3 524L568.3 524.3L569.2 524.6L570.1 524.9L571.1 525.2L572 525.6L573 525.9L573.9 526.2L574.9 526.6L575.8 526.9L576.7 527.3L577.7 527.7L578.6 528L579.5 528.4L580.5 528.7L581.4 529.1L582.3 529.4L583.3 529.7L584.2 530L585.2 530.3L586.1 530.6L587.1 530.9L588.1 531.2L589 531.5L590 531.8L590.9 532.1L591.9 532.3L592.9 532.6L593.8 532.9L594.8 533.2L595.7 533.5L596.7 533.7L597.7 534L598.6 534.3L599.6 534.6L600.5 534.9L601.5 535.2L602.5 535.5L603.4 535.7L604.4 536L605.3 536.3L606.3 536.6L607.2 536.9L608.2 537.2L609.2 537.5L610.1 537.8L611.1 538.1L612 538.4L613 538.7L613.9 539L614.9 539.3L615.8 539.6L616.8 540L617.7 540.3L618.7 540.6L619.6 540.9L620.6 541.2L621.5 541.5L622.5 541.8L623.4 542L624.4 542.3L625.4 542.6L626.3 542.8L627.3 543.1L628.3 543.3L629.2 543.6L630.2 543.8L631.2 544.1L632.2 544.3L633.1 544.5L634.1 544.8L635.1 545L636 545.3L637 545.5L638 545.8L638.9 546.1L639.9 546.4L640.8 546.6L641.8 546.9L642.8 547.2L643.7 547.5L644.7 547.8L645.6 548.1L646.6 548.4L647.5 548.8L648.5 549.1L649.4 549.4L650.4 549.7L651.3 550.1L652.3 550.4L653.2 550.7L654.1 551L655.1 551.4L656 551.7L656.9 552.1L657.9 552.5L658.8 552.8L659.8 553.2L660.7 553.5L661.6 553.9L662.6 554.2L663.5 554.6L664.5 554.9L665.4 555.2L666.4 555.5L667.3 555.8L668.3 556L669.2 556.3L670.2 556.6L671.2 556.8L672.1 557.1L673.1 557.4L674.1 557.7L675 558L676 558.3L676.9 558.6L677.8 558.9L678.8 559.3L679.7 559.6L680.6 560L681.6 560.4L682.5 560.7L683.4 561.1L684.4 561.5L685.3 561.8L686.2 562.2L687.2 562.5L688.1 562.9L689.1 563.3L690 563.6L690.9 564L691.9 564.4L692.8 564.8L693.7 565.2L694.6 565.6L695.4 566.1L696.3 566.6L697.1 567.1L698 567.7L698.8 568.3L699.6 568.9L700.4 569.4L701.3 570L702.3 570.6L703.3 571.1L704.3 571.7L705.1 572.4L705.7 573L706.1 573.7L706.2 574.5L706.3 575.4L706.4 576.3L706.4 577.3L706.5 578.3L706.5 579.4L706.5 580.5L706.6 581.5" stroke="#00f" stroke-width="1.5" stroke-linejoin="round"/>
</g>
<rect x="497.7" y="345.5" width="363.2" height="235.2" fill="none" stroke="#404040" stroke-width="0.85"/>
<path d="M497.7 580.7v4.6M570.3 580.7v4.6M643 580.7v4.6M715.6 580.7v4.6M788.3 580.7v4.6M860.9 580.7v4.6M497.7 580.7h-3.5M497.7 533.7h-3.5M497.7 439.6h-3.5M497.7 345.5h-3.5" stroke="#333" stroke-width="0.8" fill="none"/>
<g class="tk">
<text x="497.7" y="601.7" text-anchor="middle">0</text>
<text x="570.3" y="601.7" text-anchor="middle">0.2</text>
<text x="643" y="601.7" text-anchor="middle">0.4</text>
<text x="715.6" y="601.7" text-anchor="middle">0.6</text>
<text x="788.3" y="601.7" text-anchor="middle">0.8</text>
<text x="860.9" y="601.7" text-anchor="middle">1</text>
<text x="490.1" y="587" text-anchor="end">0.5</text>
<text x="490.1" y="540" text-anchor="end">0.6</text>
<text x="490.1" y="445.9" text-anchor="end">0.8</text>
<text x="490.1" y="351.8" text-anchor="end">1</text>
</g>
<text class="lab" x="669.8" y="628.5">T</text><text class="ast" x="690.2" y="618.9" text-anchor="middle">∗</text>
<text class="lab sub" x="678.1" y="649.2" text-anchor="middle">(e)</text>
<text class="lab yl" transform="translate(453.9 463.8) rotate(-90)" text-anchor="middle">y</text>
<rect x="669.8" y="350.9" width="50.2" height="29.1" fill="#fff" stroke="#222" stroke-width="1"/>
<text class="ttl" x="694.9" y="369.9" text-anchor="middle">Ship</text>
<rect x="727" y="352.5" width="127.6" height="113.9" rx="2.5" fill="#fff" fill-opacity="0.8" stroke="#d0d0d0" stroke-width="1"/>
<path d="M741.8 361.9a3.2 3.2 0 1 0 6.5 0a3.2 3.2 0 1 0 -6.5 0M741.8 395.4h6.5v6.5h-6.5zM745 432.1l3.2 6.5h-6.5z" stroke="#000" stroke-width="1.15" fill="none"/>
<path d="M731.3 380.3h26.9" stroke="#000" stroke-width="1.5"/>
<path d="M731.3 417h26.9" stroke="#f00" stroke-width="1.5"/>
<path d="M731.3 453.8h26.9" stroke="#00f" stroke-width="1.5"/>
<g class="lg">
<text x="769" y="366.2">x1=0.35;CNNs</text>
<text x="769" y="384.6">x1=0.35;CFD</text>
<text x="769" y="402.9">x2=0.5;CNNs</text>
<text x="769" y="421.3">x2=0.5;CFD</text>
<text x="769" y="439.7">x3=0.65;CNNs</text>
<text x="769" y="458.1">x3=0.65;CFD</text>
</g>
<clipPath id="clf"><rect x="934" y="345.5" width="363.6" height="235.2"/></clipPath>
<g clip-path="url(#clf)" fill="none">
<path d="M932.4 344.9a3.2 3.2 0 1 0 6.5 0a3.2 3.2 0 1 0 -6.5 0M932.4 347a3.2 3.2 0 1 0 6.5 0a3.2 3.2 0 1 0 -6.5 0M932.4 349.3a3.2 3.2 0 1 0 6.5 0a3.2 3.2 0 1 0 -6.5 0M932.4 351.6a3.2 3.2 0 1 0 6.5 0a3.2 3.2 0 1 0 -6.5 0M932.4 354.1a3.2 3.2 0 1 0 6.5 0a3.2 3.2 0 1 0 -6.5 0M932.4 356.8a3.2 3.2 0 1 0 6.5 0a3.2 3.2 0 1 0 -6.5 0M932.4 359.7a3.2 3.2 0 1 0 6.5 0a3.2 3.2 0 1 0 -6.5 0M932.4 362.7a3.2 3.2 0 1 0 6.5 0a3.2 3.2 0 1 0 -6.5 0M932.4 365.9a3.2 3.2 0 1 0 6.5 0a3.2 3.2 0 1 0 -6.5 0M932.4 369.4a3.2 3.2 0 1 0 6.5 0a3.2 3.2 0 1 0 -6.5 0M932.4 373a3.2 3.2 0 1 0 6.5 0a3.2 3.2 0 1 0 -6.5 0M932.4 376.9a3.2 3.2 0 1 0 6.5 0a3.2 3.2 0 1 0 -6.5 0M932.4 381a3.2 3.2 0 1 0 6.5 0a3.2 3.2 0 1 0 -6.5 0M932.4 385.4a3.2 3.2 0 1 0 6.5 0a3.2 3.2 0 1 0 -6.5 0M932.4 390.1a3.2 3.2 0 1 0 6.5 0a3.2 3.2 0 1 0 -6.5 0M932.4 395.1a3.2 3.2 0 1 0 6.5 0a3.2 3.2 0 1 0 -6.5 0M932.4 400.4a3.2 3.2 0 1 0 6.5 0a3.2 3.2 0 1 0 -6.5 0M932.4 406a3.2 3.2 0 1 0 6.5 0a3.2 3.2 0 1 0 -6.5 0M932.4 412a3.2 3.2 0 1 0 6.5 0a3.2 3.2 0 1 0 -6.5 0M932.4 418.3a3.2 3.2 0 1 0 6.5 0a3.2 3.2 0 1 0 -6.5 0M932.4 425.1a3.2 3.2 0 1 0 6.5 0a3.2 3.2 0 1 0 -6.5 0M932.4 432.3a3.2 3.2 0 1 0 6.5 0a3.2 3.2 0 1 0 -6.5 0M932.4 439.8a3.2 3.2 0 1 0 6.5 0a3.2 3.2 0 1 0 -6.5 0M932.4 447.3a3.2 3.2 0 1 0 6.5 0a3.2 3.2 0 1 0 -6.5 0M932.4 454.8a3.2 3.2 0 1 0 6.5 0a3.2 3.2 0 1 0 -6.5 0M932.4 462.3a3.2 3.2 0 1 0 6.5 0a3.2 3.2 0 1 0 -6.5 0M932.4 469.8a3.2 3.2 0 1 0 6.5 0a3.2 3.2 0 1 0 -6.5 0M932.4 477.3a3.2 3.2 0 1 0 6.5 0a3.2 3.2 0 1 0 -6.5 0M932.7 484.8a3.2 3.2 0 1 0 6.5 0a3.2 3.2 0 1 0 -6.5 0M933.2 492.3a3.2 3.2 0 1 0 6.5 0a3.2 3.2 0 1 0 -6.5 0M933.2 499.8a3.2 3.2 0 1 0 6.5 0a3.2 3.2 0 1 0 -6.5 0M934 507.3a3.2 3.2 0 1 0 6.5 0a3.2 3.2 0 1 0 -6.5 0M936.5 514.8a3.2 3.2 0 1 0 6.5 0a3.2 3.2 0 1 0 -6.5 0M941.5 522.2a3.2 3.2 0 1 0 6.5 0a3.2 3.2 0 1 0 -6.5 0M946.9 530.2a3.2 3.2 0 1 0 6.5 0a3.2 3.2 0 1 0 -6.5 0M957.2 537.7a3.2 3.2 0 1 0 6.5 0a3.2 3.2 0 1 0 -6.5 0M963.9 541.7a3.2 3.2 0 1 0 6.5 0a3.2 3.2 0 1 0 -6.5 0M968.9 543.4a3.2 3.2 0 1 0 6.5 0a3.2 3.2 0 1 0 -6.5 0M972.6 545.2a3.2 3.2 0 1 0 6.5 0a3.2 3.2 0 1 0 -6.5 0M978.1 547.2a3.2 3.2 0 1 0 6.5 0a3.2 3.2 0 1 0 -6.5 0M983.3 549.2a3.2 3.2 0 1 0 6.5 0a3.2 3.2 0 1 0 -6.5 0M988.8 550.9a3.2 3.2 0 1 0 6.5 0a3.2 3.2 0 1 0 -6.5 0M996.3 552.9a3.2 3.2 0 1 0 6.5 0a3.2 3.2 0 1 0 -6.5 0M1003.8 554.7a3.2 3.2 0 1 0 6.5 0a3.2 3.2 0 1 0 -6.5 0M1013.8 556.7a3.2 3.2 0 1 0 6.5 0a3.2 3.2 0 1 0 -6.5 0M1027 558.4a3.2 3.2 0 1 0 6.5 0a3.2 3.2 0 1 0 -6.5 0M1040.7 560.9a3.2 3.2 0 1 0 6.5 0a3.2 3.2 0 1 0 -6.5 0M1056.7 562.6a3.2 3.2 0 1 0 6.5 0a3.2 3.2 0 1 0 -6.5 0M1072.9 564.1a3.2 3.2 0 1 0 6.5 0a3.2 3.2 0 1 0 -6.5 0M1090.3 566.4a3.2 3.2 0 1 0 6.5 0a3.2 3.2 0 1 0 -6.5 0M1109.9 568a3.2 3.2 0 1 0 6.5 0a3.2 3.2 0 1 0 -6.5 0M1130.5 569.5a3.2 3.2 0 1 0 6.5 0a3.2 3.2 0 1 0 -6.5 0M1158.5 571.8a3.2 3.2 0 1 0 6.5 0a3.2 3.2 0 1 0 -6.5 0M1186.8 573.7a3.2 3.2 0 1 0 6.5 0a3.2 3.2 0 1 0 -6.5 0M1220.4 575.6a3.2 3.2 0 1 0 6.5 0a3.2 3.2 0 1 0 -6.5 0M1251.9 577.5a3.2 3.2 0 1 0 6.5 0a3.2 3.2 0 1 0 -6.5 0" stroke="#000" stroke-width="1.15" stroke-linejoin="miter"/>
<path d="M934.9 344.5L934.9 345.5L934.9 346.5L934.9 347.5L934.9 348.5L934.9 349.5L934.9 350.5L934.9 351.5L934.9 352.5L934.9 353.5L934.9 354.5L934.9 355.5L934.9 356.5L934.9 357.5L934.9 358.5L934.9 359.5L934.9 360.5L934.9 361.5L934.9 362.5L934.9 363.5L934.9 364.5L934.9 365.5L934.9 366.5L934.9 367.5L934.9 368.5L934.9 369.5L934.9 370.5L934.9 371.5L934.9 372.5L934.9 373.5L934.9 374.5L934.9 375.5L934.9 376.5L934.9 377.5L934.9 378.5L934.9 379.5L934.9 380.5L934.9 381.5L934.9 382.5L934.9 383.5L934.9 384.5L934.9 385.5L934.9 386.5L934.9 387.5L934.9 388.5L934.9 389.5L934.9 390.5L934.9 391.5L934.9 392.5L934.9 393.5L934.9 394.5L934.9 395.5L934.9 396.5L934.9 397.5L934.9 398.5L934.9 399.5L934.9 400.5L934.9 401.5L934.9 402.5L934.9 403.5L934.9 404.5L934.9 405.5L934.9 406.5L934.9 407.5L934.9 408.5L934.9 409.5L934.9 410.5L934.9 411.5L934.9 412.5L934.9 413.5L934.9 414.5L934.9 415.5L934.9 416.5L934.9 417.5L934.9 418.5L934.9 419.5L934.9 420.5L934.9 421.5L934.9 422.5L934.9 423.5L934.9 424.5L934.9 425.5L934.9 426.5L934.9 427.5L934.9 428.5L934.9 429.5L934.9 430.5L934.9 431.5L934.9 432.5L934.9 433.5L934.9 434.5L934.9 435.5L934.9 436.5L934.9 437.5L934.9 438.5L934.9 439.5L934.9 440.5L934.9 441.5L934.9 442.5L934.9 443.5L934.9 444.5L934.9 445.5L934.9 446.5L934.9 447.5L934.9 448.5L934.9 449.5L934.9 450.5L934.9 451.5L934.9 452.5L934.9 453.5L934.9 454.5L934.9 455.5L934.9 456.5L934.9 457.5L934.9 458.5L934.9 459.5L934.9 460.5L934.9 461.5L934.9 462.5L934.9 463.5L934.9 464.5L934.9 465.5L934.9 466.5L934.9 467.5L934.9 468.5L934.9 469.5L934.9 470.5L934.9 471.5L934.9 472.5L934.9 473.5L934.9 474.5L934.9 475.5L934.9 476.5L934.9 477.5L934.9 478.5L934.9 479.5L934.9 480.5L934.9 481.5L934.9 482.5L934.9 483.5L934.9 484.5L934.9 485.5L934.9 486.5L934.9 487.5L935 488.5L935 489.5L935 490.5L935.1 491.5L935.1 492.5L935.2 493.5L935.2 494.5L935.2 495.5L935.3 496.5L935.4 497.5L935.4 498.5L935.5 499.5L935.5 500.5L935.6 501.5L935.7 502.5L935.8 503.5L935.9 504.5L936 505.5L936.1 506.5L936.3 507.5L936.4 508.5L936.6 509.4L936.7 510.4L936.9 511.4L937.1 512.4L937.3 513.4L937.6 514.3L937.9 515.3L938.2 516.3L938.5 517.2L938.8 518.2L939.2 519.1L939.5 520L940 520.9L940.4 521.8L941 522.7L941.5 523.5L942.1 524.3L942.7 525.2L943.3 525.9L943.9 526.7L944.5 527.5L945.2 528.2L946 528.9L946.7 529.6L947.5 530.3L948.2 530.9L949 531.5L949.8 532L950.7 532.5L951.6 533L952.5 533.5L953.3 534L954.2 534.5L955.1 535L955.9 535.6L956.7 536.1L957.6 536.7L958.4 537.2L959.3 537.7L960.2 538.2L961 538.7L961.9 539.1L962.8 539.6L963.7 540L964.6 540.5L965.5 540.9L966.4 541.3L967.3 541.7L968.3 542.1L969.2 542.5L970.1 542.9L971 543.3L972 543.6L972.9 544L973.8 544.3L974.8 544.7L975.7 545L976.7 545.3L977.6 545.6L978.6 545.9L979.5 546.3L980.5 546.6L981.4 546.9L982.4 547.2L983.3 547.5L984.3 547.7L985.3 548L986.2 548.3L987.2 548.6L988.1 548.9L989.1 549.1L990.1 549.4L991 549.6L992 549.9L993 550.2L993.9 550.4L994.9 550.7L995.9 550.9L996.8 551.2L997.8 551.4L998.8 551.7L999.7 552L1000.7 552.2L1001.7 552.5L1002.6 552.7L1003.6 553L1004.6 553.2L1005.6 553.4L1006.5 553.7L1007.5 553.9L1008.5 554.1L1009.5 554.4L1010.4 554.6L1011.4 554.8L1012.4 555L1013.4 555.2L1014.3 555.4L1015.3 555.6L1016.3 555.7L1017.3 555.9L1018.3 556.1L1019.3 556.2L1020.2 556.4L1021.2 556.6L1022.2 556.7L1023.2 556.9L1024.2 557.1L1025.2 557.2L1026.2 557.4L1027.2 557.5L1028.2 557.7L1029.1 557.8L1030.1 557.9L1031.1 558.1L1032.1 558.2L1033.1 558.4L1034.1 558.5L1035.1 558.7L1036.1 558.8L1037.1 559L1038 559.1L1039 559.2L1040 559.4L1041 559.5L1042 559.6L1043 559.8L1044 559.9L1045 560L1046 560.2L1047 560.3L1048 560.4L1049 560.6L1049.9 560.7L1050.9 560.8L1051.9 560.9L1052.9 561.1L1053.9 561.2L1054.9 561.3L1055.9 561.4L1056.9 561.5L1057.9 561.7L1058.9 561.8L1059.9 561.9L1060.9 562L1061.9 562.1L1062.9 562.2L1063.8 562.4L1064.8 562.5L1065.8 562.6L1066.8 562.7L1067.8 562.8L1068.8 562.9L1069.8 563L1070.8 563.1L1071.8 563.2L1072.8 563.3L1073.8 563.4L1074.8 563.6L1075.8 563.7L1076.8 563.8L1077.8 563.9L1078.8 564L1079.8 564.1L1080.7 564.2L1081.7 564.2L1082.7 564.3L1083.7 564.4L1084.7 564.5L1085.7 564.6L1086.7 564.7L1087.7 564.8L1088.7 564.9L1089.7 565L1090.7 565L1091.7 565.1L1092.7 565.2L1093.7 565.3L1094.7 565.4L1095.7 565.5L1096.7 565.6L1097.7 565.6L1098.7 565.7L1099.7 565.8L1100.7 565.9L1101.7 566L1102.7 566.1L1103.7 566.2L1104.7 566.2L1105.7 566.3L1106.7 566.4L1107.6 566.5L1108.6 566.6L1109.6 566.7L1110.6 566.7L1111.6 566.8L1112.6 566.9L1113.6 567L1114.6 567.1L1115.6 567.2L1116.6 567.3L1117.6 567.3L1118.6 567.4L1119.6 567.5L1120.6 567.6L1121.6 567.7L1122.6 567.8L1123.6 567.8L1124.6 567.9L1125.6 568L1126.6 568.1L1127.6 568.2L1128.6 568.3L1129.6 568.3L1130.6 568.4L1131.6 568.5L1132.6 568.6L1133.6 568.7L1134.6 568.8L1135.5 568.8L1136.5 568.9L1137.5 569L1138.5 569.1L1139.5 569.2L1140.5 569.3L1141.5 569.3L1142.5 569.4L1143.5 569.5L1144.5 569.6L1145.5 569.7L1146.5 569.8L1147.5 569.9L1148.5 569.9L1149.5 570L1150.5 570.1L1151.5 570.2L1152.5 570.3L1153.5 570.4L1154.5 570.5L1155.5 570.6L1156.5 570.6L1157.5 570.7L1158.5 570.8L1159.5 570.9L1160.5 571L1161.5 571.1L1162.4 571.2L1163.4 571.3L1164.4 571.4L1165.4 571.4L1166.4 571.5L1167.4 571.6L1168.4 571.7L1169.4 571.8L1170.4 571.9L1171.4 571.9L1172.4 572L1173.4 572.1L1174.4 572.2L1175.4 572.3L1176.4 572.4L1177.4 572.4L1178.4 572.5L1179.4 572.6L1180.4 572.7L1181.4 572.7L1182.4 572.8L1183.4 572.9L1184.4 573L1185.4 573L1186.4 573.1L1187.4 573.2L1188.4 573.2L1189.4 573.3L1190.4 573.4L1191.4 573.5L1192.4 573.5L1193.4 573.6L1194.4 573.7L1195.3 573.7L1196.3 573.8L1197.3 573.9L1198.3 573.9L1199.3 574L1200.3 574.1L1201.3 574.1L1202.3 574.2L1203.3 574.2L1204.3 574.3L1205.3 574.4L1206.3 574.4L1207.3 574.5L1208.3 574.6L1209.3 574.6L1210.3 574.7L1211.3 574.7L1212.3 574.8L1213.3 574.9L1214.3 574.9L1215.3 575L1216.3 575L1217.3 575.1L1218.3 575.1L1219.3 575.2L1220.3 575.3L1221.3 575.3L1222.3 575.4L1223.3 575.4L1224.3 575.5L1225.3 575.5L1226.3 575.6L1227.3 575.6L1228.3 575.7L1229.3 575.7L1230.3 575.8L1231.3 575.8L1232.3 575.9L1233.3 576L1234.3 576L1235.3 576.1L1236.3 576.1L1237.3 576.2L1238.3 576.2L1239.3 576.3L1240.3 576.3L1241.3 576.4L1242.3 576.4L1243.3 576.5L1244.3 576.5L1245.3 576.5L1246.3 576.6L1247.3 576.6L1248.3 576.7L1249.3 576.7L1250.3 576.8L1251.3 576.8L1252.3 576.9L1253.3 576.9L1254.3 577L1255.3 577L1256.3 577L1257.3 577.1L1258.3 577.1L1259.3 577.2L1260.3 577.2L1261.3 577.3L1262.3 577.3L1263.3 577.3L1264.3 577.4L1265.3 577.4L1266.2 577.5L1266.5 577.5" stroke="#000" stroke-width="1.5" stroke-linejoin="round"/>
<path d="M932.4 341.7h6.5v6.5h-6.5zM932.4 343.8h6.5v6.5h-6.5zM932.4 346h6.5v6.5h-6.5zM932.4 348.4h6.5v6.5h-6.5zM932.4 350.9h6.5v6.5h-6.5zM932.4 353.6h6.5v6.5h-6.5zM932.4 356.4h6.5v6.5h-6.5zM932.4 359.5h6.5v6.5h-6.5zM932.4 362.7h6.5v6.5h-6.5zM932.4 366.1h6.5v6.5h-6.5zM932.4 369.8h6.5v6.5h-6.5zM932.4 373.7h6.5v6.5h-6.5zM932.4 377.8h6.5v6.5h-6.5zM932.4 382.2h6.5v6.5h-6.5zM932.4 386.9h6.5v6.5h-6.5zM932.4 391.8h6.5v6.5h-6.5zM932.4 397.1h6.5v6.5h-6.5zM932.4 402.8h6.5v6.5h-6.5zM932.4 408.7h6.5v6.5h-6.5zM932.4 415.1h6.5v6.5h-6.5zM932.4 421.9h6.5v6.5h-6.5zM932.4 429.1h6.5v6.5h-6.5zM932.4 436.6h6.5v6.5h-6.5zM932.4 444.1h6.5v6.5h-6.5zM932.4 451.6h6.5v6.5h-6.5zM932.4 459.1h6.5v6.5h-6.5zM933.3 466.6h6.5v6.5h-6.5zM935.2 474.1h6.5v6.5h-6.5zM940.2 482.1h6.5v6.5h-6.5zM947.7 489.6h6.5v6.5h-6.5zM958.2 497h6.5v6.5h-6.5zM971.9 504h6.5v6.5h-6.5zM980.6 507.8h6.5v6.5h-6.5zM988.1 510.3h6.5v6.5h-6.5zM993.1 512h6.5v6.5h-6.5zM1001.3 514h6.5v6.5h-6.5zM1007.5 515.8h6.5v6.5h-6.5zM1013.8 517.7h6.5v6.5h-6.5zM1022 519.7h6.5v6.5h-6.5zM1031.2 521.5h6.5v6.5h-6.5zM1051.7 525.2h6.5v6.5h-6.5zM1062.9 527h6.5v6.5h-6.5zM1073.6 529h6.5v6.5h-6.5zM1087.3 531h6.5v6.5h-6.5zM1099.3 532.7h6.5v6.5h-6.5zM1115.4 534.6h6.5v6.5h-6.5zM1130.5 536.4h6.5v6.5h-6.5zM1144.7 538.3h6.5v6.5h-6.5zM1161.7 539.8h6.5v6.5h-6.5zM1177.3 541.7h6.5v6.5h-6.5zM1191.9 544h6.5v6.5h-6.5zM1211.9 545.9h6.5v6.5h-6.5zM1230.6 547.8h6.5v6.5h-6.5zM1251 549.7h6.5v6.5h-6.5zM1040 523.1h6.5v6.5h-6.5z" stroke="#000" stroke-width="1.15" stroke-linejoin="miter"/>
<path d="M934.9 344.5L934.9 345.5L934.9 346.5L934.9 347.5L934.9 348.5L934.9 349.5L934.9 350.5L934.9 351.5L934.9 352.5L934.9 353.5L934.9 354.5L934.9 355.5L934.9 356.5L934.9 357.5L934.9 358.5L934.9 359.5L934.9 360.5L934.9 361.5L934.9 362.5L934.9 363.5L934.9 364.5L934.9 365.5L934.9 366.5L934.9 367.5L934.9 368.5L934.9 369.5L934.9 370.5L934.9 371.5L934.9 372.5L934.9 373.5L934.9 374.5L934.9 375.5L934.9 376.5L934.9 377.5L934.9 378.5L934.9 379.5L934.9 380.5L934.9 381.5L934.9 382.5L934.9 383.5L934.9 384.5L934.9 385.5L934.9 386.5L934.9 387.5L934.9 388.5L934.9 389.5L934.9 390.5L934.9 391.5L934.9 392.5L934.9 393.5L934.9 394.5L934.9 395.5L934.9 396.5L934.9 397.5L934.9 398.5L934.9 399.5L934.9 400.5L934.9 401.5L934.9 402.5L934.9 403.5L934.9 404.5L934.9 405.5L934.9 406.5L934.9 407.5L934.9 408.5L934.9 409.5L934.9 410.5L934.9 411.5L934.9 412.5L934.9 413.5L934.9 414.5L934.9 415.5L934.9 416.5L934.9 417.5L934.9 418.5L934.9 419.5L934.9 420.5L934.9 421.5L934.9 422.5L934.9 423.5L934.9 424.5L934.9 425.5L934.9 426.5L934.9 427.5L934.9 428.5L934.9 429.6L934.9 430.6L935 431.6L935 432.6L935 433.6L935 434.6L935 435.6L935 436.6L935 437.6L935 438.6L935 439.6L935 440.6L935.1 441.6L935.1 442.6L935.1 443.6L935.1 444.6L935.1 445.6L935.1 446.6L935.1 447.6L935.1 448.6L935.2 449.6L935.2 450.6L935.2 451.6L935.2 452.6L935.2 453.6L935.3 454.5L935.3 455.5L935.3 456.5L935.3 457.5L935.3 458.5L935.3 459.5L935.4 460.5L935.4 461.5L935.4 462.5L935.4 463.5L935.5 464.5L935.6 465.5L935.7 466.5L935.9 467.5L936.1 468.5L936.2 469.5L936.4 470.4L936.7 471.4L936.9 472.4L937.1 473.4L937.3 474.3L937.6 475.3L937.8 476.3L938.1 477.2L938.4 478.2L938.8 479.1L939.1 480.1L939.5 481L939.9 481.9L940.3 482.8L940.7 483.7L941.2 484.6L941.7 485.5L942.2 486.3L942.8 487.2L943.3 488L943.9 488.8L944.5 489.6L945.2 490.4L945.8 491.2L946.4 492L947.1 492.7L947.8 493.4L948.4 494.2L949.2 494.9L949.9 495.6L950.6 496.3L951.4 496.9L952.2 497.6L952.9 498.2L953.7 498.8L954.5 499.3L955.4 499.9L956.2 500.5L957.1 501L957.9 501.5L958.8 502L959.6 502.6L960.5 503L961.4 503.5L962.2 504L963.1 504.5L964 504.9L964.9 505.4L965.8 505.8L966.7 506.3L967.6 506.7L968.5 507.1L969.5 507.5L970.4 507.9L971.3 508.3L972.2 508.7L973.1 509L974.1 509.4L975 509.8L976 510.1L976.9 510.5L977.8 510.8L978.8 511.1L979.7 511.4L980.7 511.8L981.6 512.1L982.6 512.4L983.5 512.7L984.5 513L985.4 513.3L986.4 513.6L987.4 513.8L988.3 514.1L989.3 514.4L990.2 514.7L991.2 515L992.2 515.2L993.1 515.5L994.1 515.7L995.1 516L996 516.3L997 516.5L998 516.7L998.9 517L999.9 517.2L1000.9 517.5L1001.9 517.7L1002.8 517.9L1003.8 518.2L1004.8 518.4L1005.7 518.6L1006.7 518.9L1007.7 519.1L1008.6 519.4L1009.6 519.6L1010.6 519.9L1011.6 520.1L1012.5 520.4L1013.5 520.6L1014.5 520.9L1015.4 521.1L1016.4 521.4L1017.4 521.6L1018.4 521.8L1019.3 522L1020.3 522.2L1021.3 522.4L1022.3 522.6L1023.2 522.8L1024.2 523L1025.2 523.2L1026.2 523.4L1027.2 523.6L1028.1 523.8L1029.1 524L1030.1 524.2L1031.1 524.4L1032.1 524.6L1033.1 524.8L1034 525L1035 525.2L1036 525.4L1037 525.6L1038 525.7L1038.9 525.9L1039.9 526.1L1040.9 526.3L1041.9 526.5L1042.9 526.7L1043.8 526.9L1044.8 527.1L1045.8 527.3L1046.8 527.5L1047.8 527.7L1048.8 527.9L1049.7 528L1050.7 528.2L1051.7 528.4L1052.7 528.6L1053.7 528.8L1054.7 529L1055.6 529.1L1056.6 529.3L1057.6 529.5L1058.6 529.7L1059.6 529.9L1060.5 530.1L1061.5 530.3L1062.5 530.6L1063.5 530.8L1064.4 531L1065.4 531.3L1066.4 531.5L1067.4 531.7L1068.3 532L1069.3 532.2L1070.3 532.4L1071.3 532.6L1072.2 532.8L1073.2 533L1074.2 533.2L1075.2 533.4L1076.2 533.6L1077.1 533.7L1078.1 533.8L1079.1 534L1080.1 534.1L1081.1 534.3L1082.1 534.4L1083.1 534.5L1084.1 534.6L1085.1 534.8L1086.1 534.9L1087.1 535L1088.1 535.1L1089 535.2L1090 535.3L1091 535.4L1092 535.5L1093 535.7L1094 535.8L1095 535.9L1096 536L1097 536.1L1098 536.2L1099 536.3L1100 536.4L1101 536.5L1102 536.6L1103 536.7L1104 536.8L1105 536.9L1106 537L1107 537.1L1107.9 537.3L1108.9 537.4L1109.9 537.5L1110.9 537.6L1111.9 537.7L1112.9 537.8L1113.9 537.9L1114.9 538L1115.9 538.1L1116.9 538.2L1117.9 538.3L1118.9 538.4L1119.9 538.5L1120.9 538.6L1121.9 538.7L1122.9 538.8L1123.9 538.9L1124.9 539L1125.9 539.1L1126.9 539.2L1127.9 539.2L1128.8 539.3L1129.8 539.4L1130.8 539.5L1131.8 539.6L1132.8 539.7L1133.8 539.8L1134.8 539.9L1135.8 540L1136.8 540.1L1137.8 540.2L1138.8 540.3L1139.8 540.4L1140.8 540.5L1141.8 540.6L1142.8 540.7L1143.8 540.7L1144.8 540.8L1145.8 540.9L1146.8 541L1147.8 541.1L1148.8 541.2L1149.8 541.3L1150.8 541.4L1151.7 541.5L1152.7 541.6L1153.7 541.6L1154.7 541.7L1155.7 541.8L1156.7 541.9L1157.7 542L1158.7 542.1L1159.7 542.2L1160.7 542.3L1161.7 542.3L1162.7 542.4L1163.7 542.5L1164.7 542.6L1165.7 542.7L1166.7 542.8L1167.7 542.9L1168.7 542.9L1169.7 543L1170.7 543.1L1171.7 543.2L1172.7 543.3L1173.7 543.4L1174.7 543.5L1175.7 543.5L1176.7 543.6L1177.7 543.7L1178.6 543.8L1179.6 543.9L1180.6 544L1181.6 544L1182.6 544.1L1183.6 544.2L1184.6 544.3L1185.6 544.4L1186.6 544.5L1187.6 544.6L1188.6 544.7L1189.6 544.7L1190.6 544.8L1191.6 544.9L1192.6 545L1193.6 545.1L1194.6 545.2L1195.6 545.3L1196.6 545.3L1197.6 545.4L1198.6 545.5L1199.6 545.6L1200.6 545.7L1201.6 545.8L1202.6 545.9L1203.6 545.9L1204.6 546L1205.5 546.1L1206.5 546.2L1207.5 546.3L1208.5 546.4L1209.5 546.5L1210.5 546.5L1211.5 546.6L1212.5 546.7L1213.5 546.8L1214.5 546.9L1215.5 546.9L1216.5 547L1217.5 547.1L1218.5 547.2L1219.5 547.3L1220.5 547.3L1221.5 547.4L1222.5 547.5L1223.5 547.6L1224.5 547.7L1225.5 547.7L1226.5 547.8L1227.5 547.9L1228.5 548L1229.5 548L1230.5 548.1L1231.5 548.2L1232.5 548.3L1233.5 548.4L1234.5 548.4L1235.5 548.5L1236.4 548.6L1237.4 548.7L1238.4 548.7L1239.4 548.8L1240.4 548.9L1241.4 549L1242.4 549L1243.4 549.1L1244.4 549.2L1245.4 549.3L1246.4 549.3L1247.4 549.4L1248.4 549.5L1249.4 549.6L1250.4 549.6L1251.4 549.7L1252.4 549.8L1253.4 549.8L1254.4 549.9L1255.4 550L1256.4 550.1L1257.4 550.1L1258.4 550.2L1259.4 550.3L1260.4 550.3L1261.4 550.4L1262.4 550.5L1263.4 550.6L1264.4 550.6L1265.4 550.7L1266.4 550.8L1267.4 550.8L1268.4 550.9L1269.4 551L1270.4 551L1271.4 551.1L1272.4 551.2L1273.1 551.2" stroke="#f00" stroke-width="1.5" stroke-linejoin="round"/>
<path d="M935.6 340.8l3.2 6.5h-6.5zM935.6 344.5l3.2 6.5h-6.5zM935.6 348.2l3.2 6.5h-6.5zM935.6 351.9l3.2 6.5h-6.5zM935.6 355.6l3.2 6.5h-6.5zM935.6 359.3l3.2 6.5h-6.5zM935.6 363l3.2 6.5h-6.5zM935.6 366.7l3.2 6.5h-6.5zM935.6 370.4l3.2 6.5h-6.5zM935.6 374.1l3.2 6.5h-6.5zM935.6 377.8l3.2 6.5h-6.5zM935.6 381.5l3.2 6.5h-6.5zM935.6 385.2l3.2 6.5h-6.5zM935.6 388.9l3.2 6.5h-6.5zM935.6 392.6l3.2 6.5h-6.5zM935.6 396.3l3.2 6.5h-6.5zM935.6 400l3.2 6.5h-6.5zM935.6 403.7l3.2 6.5h-6.5zM935.6 407.4l3.2 6.5h-6.5zM935.6 411.1l3.2 6.5h-6.5zM935.6 414.8l3.2 6.5h-6.5zM935.6 418.5l3.2 6.5h-6.5zM935.6 422.2l3.2 6.5h-6.5zM935.6 425.9l3.2 6.5h-6.5zM935.7 429.6l3.2 6.5h-6.5zM935.8 433.3l3.2 6.5h-6.5zM935.9 437l3.2 6.5h-6.5zM936 440.7l3.2 6.5h-6.5zM936.2 444.4l3.2 6.5h-6.5zM936.4 448.1l3.2 6.5h-6.5zM936.7 451.8l3.2 6.5h-6.5zM937.3 455.5l3.2 6.5h-6.5zM937.9 459.2l3.2 6.5h-6.5zM938.8 462.9l3.2 6.5h-6.5zM939.8 466.6l3.2 6.5h-6.5zM940.9 470.3l3.2 6.5h-6.5zM942.3 474l3.2 6.5h-6.5zM943.8 477.7l3.2 6.5h-6.5zM942.5 481.4l3.2 6.5h-6.5zM946.3 486.6l3.2 6.5h-6.5zM950.2 492.4l3.2 6.5h-6.5zM955.3 497.5l3.2 6.5h-6.5zM960.5 502l3.2 6.5h-6.5zM965.6 505.8l3.2 6.5h-6.5zM970.1 509.4l3.2 6.5h-6.5zM974.6 512.9l3.2 6.5h-6.5zM982.1 516l3.2 6.5h-6.5zM988.8 519.7l3.2 6.5h-6.5zM995.8 523.5l3.2 6.5h-6.5zM1004.1 527l3.2 6.5h-6.5zM1013.3 531l3.2 6.5h-6.5zM1022.5 534.7l3.2 6.5h-6.5zM1032.5 538.4l3.2 6.5h-6.5zM1044.5 542.2l3.2 6.5h-6.5zM1056.9 545.9l3.2 6.5h-6.5zM1068.1 550.2l3.2 6.5h-6.5zM1080.6 553.4l3.2 6.5h-6.5zM1093.1 557.6l3.2 6.5h-6.5zM1106 560.9l3.2 6.5h-6.5zM1118.8 565.3l3.2 6.5h-6.5zM1131.5 569.5l3.2 6.5h-6.5zM1144.3 572.9l3.2 6.5h-6.5zM1155.5 576.1l3.2 6.5h-6.5zM1165.5 578l3.2 6.5h-6.5z" stroke="#000" stroke-width="1.15" stroke-linejoin="miter"/>
<path d="M934.9 344.5L934.9 345.5L934.9 346.5L934.9 347.5L934.9 348.5L934.9 349.5L934.9 350.5L934.9 351.5L934.9 352.5L934.9 353.5L934.9 354.5L934.9 355.5L934.9 356.5L934.9 357.5L934.9 358.5L934.9 359.5L934.9 360.5L934.9 361.5L934.9 362.5L934.9 363.5L934.9 364.5L934.9 365.5L934.9 366.5L934.9 367.5L934.9 368.5L934.9 369.5L934.9 370.5L934.9 371.5L934.9 372.5L934.9 373.5L934.9 374.5L934.9 375.5L934.9 376.5L934.9 377.5L934.9 378.5L934.9 379.5L934.9 380.5L934.9 381.5L934.9 382.5L934.9 383.5L934.9 384.5L934.9 385.5L934.9 386.5L934.9 387.5L934.9 388.5L934.9 389.5L934.9 390.5L934.9 391.5L934.9 392.5L934.9 393.5L934.9 394.5L934.9 395.5L934.9 396.5L934.9 397.5L934.9 398.5L934.9 399.5L934.9 400.5L934.9 401.5L934.9 402.5L934.9 403.5L934.9 404.5L934.9 405.5L934.9 406.5L934.9 407.5L934.9 408.5L934.9 409.5L934.9 410.5L934.9 411.5L934.9 412.5L935 413.5L935 414.5L935 415.5L935 416.5L935 417.5L935 418.5L935.1 419.5L935.1 420.5L935.1 421.5L935.1 422.5L935.1 423.5L935.2 424.5L935.2 425.5L935.2 426.5L935.2 427.5L935.3 428.5L935.3 429.5L935.3 430.5L935.4 431.5L935.4 432.5L935.4 433.5L935.5 434.5L935.5 435.5L935.5 436.5L935.6 437.5L935.6 438.5L935.6 439.5L935.7 440.5L935.7 441.5L935.7 442.5L935.8 443.5L935.8 444.5L935.9 445.5L935.9 446.5L936 447.5L936 448.5L936 449.5L936.1 450.5L936.2 451.5L936.2 452.5L936.3 453.5L936.5 454.5L936.6 455.5L936.7 456.5L936.9 457.4L937 458.4L937.2 459.4L937.4 460.4L937.5 461.4L937.7 462.4L938 463.3L938.2 464.3L938.4 465.3L938.7 466.3L938.9 467.2L939.2 468.2L939.5 469.2L939.8 470.1L940.1 471.1L940.4 472L940.7 473L941 473.9L941.3 474.9L941.7 475.8L942 476.7L942.4 477.7L942.8 478.6L943.2 479.5L943.6 480.4L944 481.3L944.4 482.2L944.9 483.1L945.4 484L945.9 484.9L946.4 485.8L946.9 486.6L947.4 487.5L947.9 488.3L948.5 489.2L949 490L949.6 490.8L950.2 491.6L950.7 492.4L951.3 493.3L951.9 494.1L952.6 494.8L953.2 495.6L953.8 496.4L954.5 497.2L955.1 497.9L955.8 498.7L956.4 499.4L957.1 500.1L957.8 500.9L958.5 501.6L959.2 502.3L960 503L960.7 503.7L961.4 504.4L962.2 505L962.9 505.7L963.7 506.3L964.4 507L965.2 507.6L966 508.2L966.8 508.9L967.6 509.5L968.4 510.1L969.2 510.7L970 511.3L970.8 511.9L971.6 512.4L972.4 513L973.2 513.6L974.1 514.1L974.9 514.7L975.7 515.2L976.6 515.8L977.4 516.3L978.3 516.8L979.1 517.3L980 517.9L980.9 518.4L981.7 518.9L982.6 519.4L983.4 519.9L984.3 520.4L985.2 520.9L986 521.4L986.9 521.9L987.8 522.4L988.7 522.8L989.6 523.3L990.4 523.8L991.3 524.2L992.2 524.6L993.1 525.1L994.1 525.5L995 525.9L995.9 526.3L996.8 526.7L997.7 527.1L998.7 527.4L999.6 527.8L1000.5 528.2L1001.4 528.6L1002.4 528.9L1003.3 529.2L1004.3 529.6L1005.2 529.9L1006.2 530.2L1007.1 530.5L1008 530.9L1009 531.2L1009.9 531.6L1010.9 531.9L1011.8 532.3L1012.7 532.6L1013.7 533L1014.6 533.4L1015.5 533.7L1016.5 534.1L1017.4 534.4L1018.3 534.8L1019.3 535.2L1020.2 535.5L1021.1 535.9L1022 536.3L1023 536.6L1023.9 537L1024.8 537.4L1025.8 537.7L1026.7 538.1L1027.6 538.4L1028.6 538.8L1029.5 539.2L1030.4 539.5L1031.4 539.9L1032.3 540.2L1033.2 540.6L1034.2 540.9L1035.1 541.3L1036 541.7L1037 542L1037.9 542.4L1038.8 542.7L1039.8 543.1L1040.7 543.5L1041.6 543.8L1042.6 544.2L1043.5 544.5L1044.5 544.9L1045.4 545.2L1046.3 545.6L1047.3 545.9L1048.2 546.3L1049.1 546.6L1050.1 547L1051 547.3L1052 547.6L1052.9 548L1053.8 548.3L1054.8 548.7L1055.7 549L1056.7 549.4L1057.6 549.7L1058.5 550L1059.5 550.4L1060.4 550.7L1061.4 551.1L1062.3 551.4L1063.2 551.7L1064.2 552.1L1065.1 552.4L1066.1 552.7L1067 553.1L1068 553.4L1068.9 553.7L1069.9 554L1070.8 554.4L1071.8 554.7L1072.7 555L1073.7 555.3L1074.6 555.6L1075.6 555.9L1076.5 556.2L1077.5 556.5L1078.4 556.8L1079.4 557.1L1080.3 557.3L1081.3 557.6L1082.3 557.9L1083.2 558.2L1084.2 558.5L1085.1 558.7L1086.1 559L1087.1 559.3L1088 559.6L1089 559.8L1090 560.1L1090.9 560.4L1091.9 560.6L1092.9 560.9L1093.8 561.1L1094.8 561.4L1095.8 561.6L1096.7 561.9L1097.7 562.2L1098.7 562.4L1099.6 562.7L1100.6 562.9L1101.6 563.1L1102.5 563.4L1103.5 563.6L1104.5 563.8L1105.5 564.1L1106.4 564.3L1107.4 564.5L1108.4 564.7L1109.4 564.9L1110.3 565.2L1111.3 565.4L1112.3 565.6L1113.3 565.8L1114.3 566L1115.2 566.2L1116.2 566.5L1117.2 566.7L1118.2 566.9L1119.1 567.1L1120.1 567.4L1121.1 567.6L1122 567.8L1123 568.1L1124 568.3L1124.9 568.6L1125.9 568.9L1126.9 569.2L1127.8 569.4L1128.8 569.7L1129.7 570L1130.7 570.3L1131.6 570.7L1132.6 571L1133.5 571.3L1134.5 571.6L1135.4 571.9L1136.4 572.3L1137.3 572.6L1138.2 572.9L1139.2 573.3L1140.1 573.6L1141.1 573.9L1142 574.2L1143 574.6L1143.9 574.9L1144.9 575.2L1145.8 575.5L1146.8 575.8L1147.7 576.1L1148.7 576.5L1149.6 576.8L1150.6 577.1L1151.5 577.4L1152.5 577.7L1153.4 578L1154.4 578.4L1155.3 578.7L1156.3 579L1157.2 579.3L1158.2 579.6L1159.1 579.9L1160.1 580.2L1161 580.5L1162 580.8L1162.7 581.1" stroke="#00f" stroke-width="1.5" stroke-linejoin="round"/>
</g>
<rect x="934.4" y="345.5" width="363.2" height="235.2" fill="none" stroke="#404040" stroke-width="0.85"/>
<path d="M934.4 580.7v4.6M1007 580.7v4.6M1079.7 580.7v4.6M1152.3 580.7v4.6M1225 580.7v4.6M1297.6 580.7v4.6M934.4 580.7h-3.5M934.4 533.7h-3.5M934.4 439.6h-3.5M934.4 345.5h-3.5" stroke="#333" stroke-width="0.8" fill="none"/>
<g class="tk">
<text x="934.4" y="601.8" text-anchor="middle">0</text>
<text x="1007" y="601.8" text-anchor="middle">0.2</text>
<text x="1079.7" y="601.8" text-anchor="middle">0.4</text>
<text x="1152.3" y="601.8" text-anchor="middle">0.6</text>
<text x="1225" y="601.8" text-anchor="middle">0.8</text>
<text x="1297.6" y="601.8" text-anchor="middle">1</text>
<text x="926.8" y="587" text-anchor="end">0.5</text>
<text x="926.8" y="540" text-anchor="end">0.6</text>
<text x="926.8" y="445.9" text-anchor="end">0.8</text>
<text x="926.8" y="351.8" text-anchor="end">1</text>
</g>
<text class="lab" x="1105.8" y="628.2">T</text><text class="ast" x="1126.2" y="618.6" text-anchor="middle">∗</text>
<text class="lab sub" x="1112.8" y="649.8" text-anchor="middle">(f)</text>
<text class="lab yl" transform="translate(890.6 463.8) rotate(-90)" text-anchor="middle">y</text>
<rect x="1052.3" y="350.9" width="103.8" height="29.1" fill="#fff" stroke="#222" stroke-width="1"/>
<text class="ttl" x="1104.2" y="369.9" text-anchor="middle">Submarine</text>
<rect x="1163.7" y="352.5" width="127.6" height="113.9" rx="2.5" fill="#fff" fill-opacity="0.8" stroke="#d0d0d0" stroke-width="1"/>
<path d="M1178.5 361.9a3.2 3.2 0 1 0 6.5 0a3.2 3.2 0 1 0 -6.5 0M1178.5 395.4h6.5v6.5h-6.5zM1181.7 432.1l3.2 6.5h-6.5z" stroke="#000" stroke-width="1.15" fill="none"/>
<path d="M1168 380.3h26.9" stroke="#000" stroke-width="1.5"/>
<path d="M1168 417h26.9" stroke="#f00" stroke-width="1.5"/>
<path d="M1168 453.8h26.9" stroke="#00f" stroke-width="1.5"/>
<g class="lg">
<text x="1205.7" y="366.2">x1=0.35;CNNs</text>
<text x="1205.7" y="384.6">x1=0.35;CFD</text>
<text x="1205.7" y="402.9">x2=0.5;CNNs</text>
<text x="1205.7" y="421.3">x2=0.5;CFD</text>
<text x="1205.7" y="439.7">x3=0.65;CNNs</text>
<text x="1205.7" y="458.1">x3=0.65;CFD</text>
</g>
</svg></body></html>
